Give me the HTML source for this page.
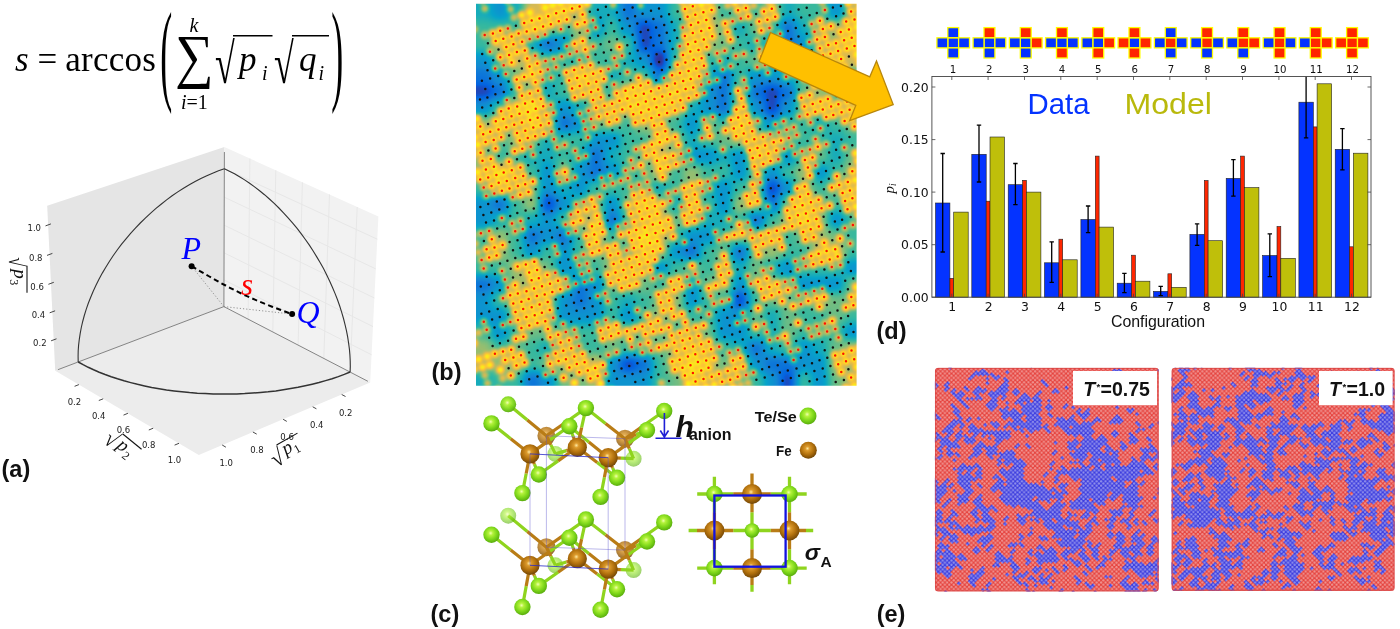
<!DOCTYPE html>
<html><head><meta charset="utf-8"><title>figure</title>
<style>html,body{margin:0;padding:0;background:#fff;overflow:hidden}svg{display:block}</style>
</head><body>
<svg width="1400" height="629" viewBox="0 0 1400 629">
<rect width="1400" height="629" fill="#fff"/>
<g font-family="'Liberation Serif',serif" fill="#000">
<text x="15" y="70.7" font-size="35" font-style="italic">s</text>
<text x="37.5" y="70.7" font-size="35">=</text>
<text x="65.3" y="70.7" font-size="35" textLength="90.5">arccos</text>
<text transform="translate(160.2,90) scale(0.36,1.12)" font-size="100">(</text>
<text transform="translate(331.2,90) scale(0.36,1.12)" font-size="100">)</text>
<text transform="translate(175.3,75.5) scale(0.9,1)" font-size="60">∑</text>
<text x="189.5" y="32" font-size="20" font-style="italic">k</text>
<text x="181" y="109" font-size="20"><tspan font-style="italic">i</tspan>=1</text>
<text transform="translate(215,83) scale(0.9,1.42)" font-size="40">√</text>
<text transform="translate(274,83) scale(0.9,1.42)" font-size="40">√</text>
<text x="239" y="70.7" font-size="35" font-style="italic">p</text>
<text x="262" y="80" font-size="20" font-style="italic">i</text>
<text x="299" y="70.7" font-size="35" font-style="italic">q</text>
<text x="318.5" y="80" font-size="20" font-style="italic">i</text>
</g>
<path d="M233 35.8H272.5M292 35.8H329" stroke="#000" stroke-width="1.6" fill="none"/>
<polygon points="223.9,306.6 55.2,370.7 198.8,454.9 370.2,382.5" fill="#ececec"/>
<polygon points="223.9,306.6 55.2,370.7 47.2,205.8 224.4,147" fill="#e5e5e5"/>
<polygon points="223.9,306.6 370.2,382.5 378.4,216.6 224.4,147" fill="#f2f2f2"/>
<path d="M248.1 319.1 L249.9 158.5M224 279.9 L371.6 354.8M272.8 332 L275.8 170.3M224.1 252.8 L373 326.6M298.1 345.1 L302.4 182.3M224.2 225.2 L374.4 298M323.8 358.4 L329.5 194.5M224.3 197.2 L375.8 268.9M350.1 372 L357.2 207M224.4 168.7 L377.3 239.2" stroke="#e7e7e7" stroke-width="1" fill="none"/>
<path d="M223.9 306.6 L57.9 369.7M223.9 306.6 L367.9 381.3M223.9 306.6 L224.4 152" stroke="#777" stroke-width="0.9" fill="none"/>
<path d="M78.2 362 L78.1 356.5 L78.2 350.8 L78.6 345.1 L79.3 339.3 L80.2 333.4 L81.3 327.5 L82.7 321.5 L84.3 315.5 L86.2 309.4 L88.3 303.3 L90.7 297.3 L93.2 291.2 L96.1 285.1 L99.1 279.1 L102.3 273.1 L105.8 267.2 L109.5 261.3 L113.3 255.5 L117.4 249.8 L121.6 244.2 L126 238.8 L130.6 233.4 L135.4 228.1 L140.3 223 L145.3 218.1 L150.4 213.3 L155.7 208.6 L161.1 204.2 L166.6 199.9 L172.1 195.8 L177.8 191.9 L183.5 188.3 L189.3 184.8 L195.1 181.6 L200.9 178.5 L206.8 175.7 L212.6 173.2 L218.5 170.8 L224.4 168.7M350.1 372 L350.3 366.5 L350.2 360.8 L349.9 355 L349.4 349.1 L348.6 343.1 L347.7 337.1 L346.5 330.9 L345.1 324.8 L343.5 318.5 L341.7 312.3 L339.7 306 L337.5 299.7 L335 293.4 L332.4 287.2 L329.6 281 L326.6 274.8 L323.5 268.6 L320.1 262.6 L316.6 256.6 L313 250.7 L309.2 244.9 L305.2 239.2 L301.1 233.6 L296.9 228.2 L292.5 222.9 L288.1 217.8 L283.5 212.8 L278.9 208 L274.2 203.4 L269.4 199 L264.5 194.7 L259.6 190.7 L254.6 186.9 L249.6 183.3 L244.6 179.9 L239.5 176.8 L234.5 173.8 L229.4 171.2 L224.4 168.7" stroke="#333" stroke-width="1.1" fill="none"/>
<path d="M78.2 362 L83.1 364.7 L88.2 367.3 L93.6 369.8 L99.2 372.2 L105.1 374.5 L111.2 376.7 L117.5 378.8 L124 380.8 L130.7 382.6 L137.5 384.3 L144.6 385.9 L151.7 387.4 L159.1 388.7 L166.5 389.9 L174.1 390.9 L181.8 391.8 L189.5 392.6 L197.3 393.2 L205.2 393.6 L213.1 393.9 L221 394.1 L228.9 394.1 L236.9 393.9 L244.7 393.6 L252.6 393.1 L260.4 392.5 L268.1 391.8 L275.8 390.9 L283.3 389.8 L290.7 388.6 L298 387.3 L305.2 385.8 L312.2 384.2 L319 382.5 L325.6 380.6 L332.1 378.7 L338.3 376.6 L344.3 374.4 L350.1 372" stroke="#333" stroke-width="1.5" fill="none"/>
<path d="M223.9 306.6 L191.6 266.2M223.9 306.6 L292.1 314.1" stroke="#888" stroke-width="0.9" stroke-dasharray="1.2 2" fill="none"/>
<path d="M191.6 266.2 L195.8 268.6 L200 271.1 L204.3 273.5 L208.5 276 L212.8 278.4 L217.1 280.8 L221.3 283.2 L225.6 285.5 L229.9 287.8 L234.2 290 L238.5 292.1 L242.8 294.2 L247 296.2 L251.3 298.1 L255.5 299.9 L259.7 301.7 L263.9 303.4 L268 305.1 L272.1 306.7 L276.2 308.2 L280.2 309.7 L284.2 311.2 L288.2 312.7 L292.1 314.1" stroke="#000" stroke-width="2" stroke-dasharray="5.2 3.4" fill="none"/>
<circle cx="191.6" cy="266.2" r="3"/><circle cx="292.1" cy="314.1" r="3"/>
<g font-family="'Liberation Serif',serif" font-style="italic"><text x="181.5" y="259" font-size="32" fill="#0000ff">P</text><text x="296.5" y="323" font-size="32" fill="#0000ff">Q</text><text x="241" y="294.8" font-size="31" fill="#ff0000">s</text></g>
<path d="M78.9 384.6 L74.6 386.3M341.7 394.5 L345.5 396.5M51.1 340.8 L56.5 338.8M103.2 398.8 L98.8 400.5M312.7 406.8 L316.4 408.8M49.7 312.8 L55.1 310.8M127.9 413.3 L123.5 415.1M283.1 419.3 L286.8 421.4M48.4 284.3 L53.8 282.3M153.2 428.2 L148.8 430M252.9 432 L256.7 434.1M47 255.4 L52.4 253.4M179 443.3 L174.6 445.1M222.2 445 L225.9 447.2M45.5 225.9 L50.9 223.9" stroke="#333" stroke-width="0.9" fill="none"/>
<g font-family="'DejaVu Sans',sans-serif" font-size="8.5" fill="#222"><text x="74.4" y="404.7" text-anchor="middle">0.2</text><text x="345.7" y="415.6" text-anchor="middle">0.2</text><text x="46.6" y="346.3" text-anchor="end">0.2</text><text x="98.7" y="418.9" text-anchor="middle">0.4</text><text x="316.7" y="427.9" text-anchor="middle">0.4</text><text x="45.2" y="318.3" text-anchor="end">0.4</text><text x="123.4" y="433.4" text-anchor="middle">0.6</text><text x="287.1" y="440.4" text-anchor="middle">0.6</text><text x="43.9" y="289.8" text-anchor="end">0.6</text><text x="148.7" y="448.3" text-anchor="middle">0.8</text><text x="256.9" y="453.1" text-anchor="middle">0.8</text><text x="42.5" y="260.9" text-anchor="end">0.8</text><text x="174.5" y="463.4" text-anchor="middle">1.0</text><text x="226.2" y="466.1" text-anchor="middle">1.0</text><text x="41" y="231.4" text-anchor="end">1.0</text></g>
<g transform="translate(122.9,434.1) rotate(39)" font-family="'Liberation Serif',serif" fill="#111"><text transform="translate(-10.9,19.0) scale(1.1,1.3)" font-size="18">√</text><path d="M-0.5 0H24" stroke="#111" stroke-width="1.1"/><text x="2.5" y="14.5" font-size="19" font-style="italic">p</text><text x="13" y="19" font-size="12">2</text></g>
<g transform="translate(277,444.8) rotate(-29.7)" font-family="'Liberation Serif',serif" fill="#111"><text transform="translate(-12.5,19.7) scale(1.25,1.35)" font-size="18">√</text><path d="M-0.5 0H23.6" stroke="#111" stroke-width="1.1"/><text x="2.5" y="13.5" font-size="19" font-style="italic">p</text><text x="12.5" y="17.5" font-size="12">1</text></g>
<g transform="translate(27,266.3) rotate(90)" font-family="'Liberation Serif',serif" fill="#111"><text transform="translate(-9,18.3) scale(0.95,1.25)" font-size="18">√</text><path d="M-0.5 0H26.5" stroke="#111" stroke-width="1.1"/><text x="3" y="13.5" font-size="19" font-style="italic">p</text><text x="13" y="17.5" font-size="12">3</text></g>
<defs>
<clipPath id="stmclip"><rect x="476.0" y="3.8" width="380.6" height="381.9"/></clipPath>
<filter id="stmblur" x="-5%" y="-5%" width="110%" height="110%" color-interpolation-filters="sRGB"><feGaussianBlur stdDeviation="4.5"/></filter>
<filter id="stmcm" x="0" y="0" width="100%" height="100%" color-interpolation-filters="sRGB">
<feGaussianBlur stdDeviation="0.8"/>
<feComponentTransfer><feFuncR type="table" tableValues="0.208 0.195 0.182 0.138 0.075 0.012 0.025 0.038 0.052 0.065 0.078 0.067 0.056 0.045 0.035 0.024 0.059 0.094 0.129 0.165 0.200 0.266 0.332 0.398 0.464 0.529 0.592 0.655 0.718 0.780 0.843 0.874 0.904 0.935 0.965 0.996 0.992 0.988 0.984 0.980 0.976"/><feFuncG type="table" tableValues="0.165 0.194 0.224 0.271 0.329 0.388 0.415 0.442 0.468 0.495 0.522 0.546 0.570 0.595 0.619 0.643 0.659 0.675 0.690 0.706 0.722 0.727 0.733 0.738 0.744 0.749 0.745 0.741 0.737 0.733 0.729 0.740 0.751 0.762 0.773 0.784 0.824 0.864 0.904 0.944 0.984"/><feFuncB type="table" tableValues="0.529 0.587 0.644 0.716 0.799 0.882 0.872 0.862 0.852 0.842 0.831 0.824 0.816 0.808 0.800 0.792 0.760 0.728 0.696 0.664 0.631 0.598 0.565 0.533 0.500 0.467 0.439 0.412 0.384 0.357 0.329 0.303 0.276 0.249 0.223 0.196 0.168 0.140 0.111 0.083 0.055"/></feComponentTransfer>
</filter>
<radialGradient id="bump"><stop offset="0" stop-color="#fff" stop-opacity="0.97"/><stop offset="0.3" stop-color="#fff" stop-opacity="0.88"/><stop offset="0.45" stop-color="#fff" stop-opacity="0.58"/><stop offset="0.58" stop-color="#fff" stop-opacity="0.3"/><stop offset="0.8" stop-color="#fff" stop-opacity="0.11"/><stop offset="1" stop-color="#fff" stop-opacity="0"/></radialGradient>
<radialGradient id="bump2"><stop offset="0" stop-color="#fff" stop-opacity="0.62"/><stop offset="0.3" stop-color="#fff" stop-opacity="0.5"/><stop offset="0.6" stop-color="#fff" stop-opacity="0.22"/><stop offset="1" stop-color="#fff" stop-opacity="0"/></radialGradient>
<radialGradient id="dip"><stop offset="0" stop-color="#000" stop-opacity="0.28"/><stop offset="1" stop-color="#000" stop-opacity="0"/></radialGradient>
</defs>
<g clip-path="url(#stmclip)">
<g filter="url(#stmcm)">
<rect x="456.0" y="-16.2" width="420.6" height="421.9" fill="#8e8e8e"/>
<g filter="url(#stmblur)">
<rect x="460" y="-12" width="16.5" height="16.5" fill="#6b6b6b"/><rect x="476" y="-12" width="16.5" height="16.5" fill="#6b6b6b"/><rect x="492" y="-12" width="16.5" height="16.5" fill="#4f4f4f"/><rect x="508" y="-12" width="16.5" height="16.5" fill="#6b6b6b"/><rect x="524" y="-12" width="16.5" height="16.5" fill="#bfbfbf"/><rect x="540" y="-12" width="16.5" height="16.5" fill="#bfbfbf"/><rect x="556" y="-12" width="16.5" height="16.5" fill="#bfbfbf"/><rect x="572" y="-12" width="16.5" height="16.5" fill="#a8a8a8"/><rect x="588" y="-12" width="16.5" height="16.5" fill="#6b6b6b"/><rect x="604" y="-12" width="16.5" height="16.5" fill="#6b6b6b"/><rect x="620" y="-12" width="16.5" height="16.5" fill="#303030"/><rect x="636" y="-12" width="16.5" height="16.5" fill="#4f4f4f"/><rect x="652" y="-12" width="16.5" height="16.5" fill="#4f4f4f"/><rect x="668" y="-12" width="16.5" height="16.5" fill="#828282"/><rect x="684" y="-12" width="16.5" height="16.5" fill="#a8a8a8"/><rect x="700" y="-12" width="16.5" height="16.5" fill="#bfbfbf"/><rect x="716" y="-12" width="16.5" height="16.5" fill="#828282"/><rect x="732" y="-12" width="16.5" height="16.5" fill="#969696"/><rect x="748" y="-12" width="16.5" height="16.5" fill="#828282"/><rect x="764" y="-12" width="16.5" height="16.5" fill="#a8a8a8"/><rect x="780" y="-12" width="16.5" height="16.5" fill="#6b6b6b"/><rect x="796" y="-12" width="16.5" height="16.5" fill="#828282"/><rect x="812" y="-12" width="16.5" height="16.5" fill="#828282"/><rect x="828" y="-12" width="16.5" height="16.5" fill="#4f4f4f"/><rect x="844" y="-12" width="16.5" height="16.5" fill="#969696"/><rect x="860" y="-12" width="16.5" height="16.5" fill="#969696"/><rect x="460" y="4" width="16.5" height="16.5" fill="#6b6b6b"/><rect x="476" y="4" width="16.5" height="16.5" fill="#6b6b6b"/><rect x="492" y="4" width="16.5" height="16.5" fill="#4f4f4f"/><rect x="508" y="4" width="16.5" height="16.5" fill="#6b6b6b"/><rect x="524" y="4" width="16.5" height="16.5" fill="#bfbfbf"/><rect x="540" y="4" width="16.5" height="16.5" fill="#bfbfbf"/><rect x="556" y="4" width="16.5" height="16.5" fill="#bfbfbf"/><rect x="572" y="4" width="16.5" height="16.5" fill="#a8a8a8"/><rect x="588" y="4" width="16.5" height="16.5" fill="#6b6b6b"/><rect x="604" y="4" width="16.5" height="16.5" fill="#6b6b6b"/><rect x="620" y="4" width="16.5" height="16.5" fill="#303030"/><rect x="636" y="4" width="16.5" height="16.5" fill="#4f4f4f"/><rect x="652" y="4" width="16.5" height="16.5" fill="#4f4f4f"/><rect x="668" y="4" width="16.5" height="16.5" fill="#828282"/><rect x="684" y="4" width="16.5" height="16.5" fill="#a8a8a8"/><rect x="700" y="4" width="16.5" height="16.5" fill="#bfbfbf"/><rect x="716" y="4" width="16.5" height="16.5" fill="#828282"/><rect x="732" y="4" width="16.5" height="16.5" fill="#969696"/><rect x="748" y="4" width="16.5" height="16.5" fill="#828282"/><rect x="764" y="4" width="16.5" height="16.5" fill="#a8a8a8"/><rect x="780" y="4" width="16.5" height="16.5" fill="#6b6b6b"/><rect x="796" y="4" width="16.5" height="16.5" fill="#828282"/><rect x="812" y="4" width="16.5" height="16.5" fill="#828282"/><rect x="828" y="4" width="16.5" height="16.5" fill="#4f4f4f"/><rect x="844" y="4" width="16.5" height="16.5" fill="#969696"/><rect x="860" y="4" width="16.5" height="16.5" fill="#969696"/><rect x="460" y="20" width="16.5" height="16.5" fill="#828282"/><rect x="476" y="20" width="16.5" height="16.5" fill="#828282"/><rect x="492" y="20" width="16.5" height="16.5" fill="#828282"/><rect x="508" y="20" width="16.5" height="16.5" fill="#828282"/><rect x="524" y="20" width="16.5" height="16.5" fill="#bfbfbf"/><rect x="540" y="20" width="16.5" height="16.5" fill="#a8a8a8"/><rect x="556" y="20" width="16.5" height="16.5" fill="#828282"/><rect x="572" y="20" width="16.5" height="16.5" fill="#a8a8a8"/><rect x="588" y="20" width="16.5" height="16.5" fill="#4f4f4f"/><rect x="604" y="20" width="16.5" height="16.5" fill="#828282"/><rect x="620" y="20" width="16.5" height="16.5" fill="#4f4f4f"/><rect x="636" y="20" width="16.5" height="16.5" fill="#121212"/><rect x="652" y="20" width="16.5" height="16.5" fill="#303030"/><rect x="668" y="20" width="16.5" height="16.5" fill="#6b6b6b"/><rect x="684" y="20" width="16.5" height="16.5" fill="#a8a8a8"/><rect x="700" y="20" width="16.5" height="16.5" fill="#bfbfbf"/><rect x="716" y="20" width="16.5" height="16.5" fill="#969696"/><rect x="732" y="20" width="16.5" height="16.5" fill="#6b6b6b"/><rect x="748" y="20" width="16.5" height="16.5" fill="#969696"/><rect x="764" y="20" width="16.5" height="16.5" fill="#828282"/><rect x="780" y="20" width="16.5" height="16.5" fill="#303030"/><rect x="796" y="20" width="16.5" height="16.5" fill="#6b6b6b"/><rect x="812" y="20" width="16.5" height="16.5" fill="#969696"/><rect x="828" y="20" width="16.5" height="16.5" fill="#a8a8a8"/><rect x="844" y="20" width="16.5" height="16.5" fill="#bfbfbf"/><rect x="860" y="20" width="16.5" height="16.5" fill="#bfbfbf"/><rect x="460" y="36" width="16.5" height="16.5" fill="#828282"/><rect x="476" y="36" width="16.5" height="16.5" fill="#828282"/><rect x="492" y="36" width="16.5" height="16.5" fill="#bfbfbf"/><rect x="508" y="36" width="16.5" height="16.5" fill="#969696"/><rect x="524" y="36" width="16.5" height="16.5" fill="#6b6b6b"/><rect x="540" y="36" width="16.5" height="16.5" fill="#303030"/><rect x="556" y="36" width="16.5" height="16.5" fill="#4f4f4f"/><rect x="572" y="36" width="16.5" height="16.5" fill="#a8a8a8"/><rect x="588" y="36" width="16.5" height="16.5" fill="#828282"/><rect x="604" y="36" width="16.5" height="16.5" fill="#969696"/><rect x="620" y="36" width="16.5" height="16.5" fill="#828282"/><rect x="636" y="36" width="16.5" height="16.5" fill="#121212"/><rect x="652" y="36" width="16.5" height="16.5" fill="#303030"/><rect x="668" y="36" width="16.5" height="16.5" fill="#6b6b6b"/><rect x="684" y="36" width="16.5" height="16.5" fill="#bfbfbf"/><rect x="700" y="36" width="16.5" height="16.5" fill="#a8a8a8"/><rect x="716" y="36" width="16.5" height="16.5" fill="#969696"/><rect x="732" y="36" width="16.5" height="16.5" fill="#828282"/><rect x="748" y="36" width="16.5" height="16.5" fill="#6b6b6b"/><rect x="764" y="36" width="16.5" height="16.5" fill="#828282"/><rect x="780" y="36" width="16.5" height="16.5" fill="#303030"/><rect x="796" y="36" width="16.5" height="16.5" fill="#4f4f4f"/><rect x="812" y="36" width="16.5" height="16.5" fill="#969696"/><rect x="828" y="36" width="16.5" height="16.5" fill="#a8a8a8"/><rect x="844" y="36" width="16.5" height="16.5" fill="#bfbfbf"/><rect x="860" y="36" width="16.5" height="16.5" fill="#bfbfbf"/><rect x="460" y="52" width="16.5" height="16.5" fill="#4f4f4f"/><rect x="476" y="52" width="16.5" height="16.5" fill="#4f4f4f"/><rect x="492" y="52" width="16.5" height="16.5" fill="#828282"/><rect x="508" y="52" width="16.5" height="16.5" fill="#bfbfbf"/><rect x="524" y="52" width="16.5" height="16.5" fill="#969696"/><rect x="540" y="52" width="16.5" height="16.5" fill="#828282"/><rect x="556" y="52" width="16.5" height="16.5" fill="#828282"/><rect x="572" y="52" width="16.5" height="16.5" fill="#6b6b6b"/><rect x="588" y="52" width="16.5" height="16.5" fill="#828282"/><rect x="604" y="52" width="16.5" height="16.5" fill="#828282"/><rect x="620" y="52" width="16.5" height="16.5" fill="#6b6b6b"/><rect x="636" y="52" width="16.5" height="16.5" fill="#4f4f4f"/><rect x="652" y="52" width="16.5" height="16.5" fill="#000000"/><rect x="668" y="52" width="16.5" height="16.5" fill="#828282"/><rect x="684" y="52" width="16.5" height="16.5" fill="#bfbfbf"/><rect x="700" y="52" width="16.5" height="16.5" fill="#828282"/><rect x="716" y="52" width="16.5" height="16.5" fill="#6b6b6b"/><rect x="732" y="52" width="16.5" height="16.5" fill="#828282"/><rect x="748" y="52" width="16.5" height="16.5" fill="#969696"/><rect x="764" y="52" width="16.5" height="16.5" fill="#828282"/><rect x="780" y="52" width="16.5" height="16.5" fill="#828282"/><rect x="796" y="52" width="16.5" height="16.5" fill="#828282"/><rect x="812" y="52" width="16.5" height="16.5" fill="#828282"/><rect x="828" y="52" width="16.5" height="16.5" fill="#a8a8a8"/><rect x="844" y="52" width="16.5" height="16.5" fill="#bfbfbf"/><rect x="860" y="52" width="16.5" height="16.5" fill="#bfbfbf"/><rect x="460" y="68" width="16.5" height="16.5" fill="#303030"/><rect x="476" y="68" width="16.5" height="16.5" fill="#303030"/><rect x="492" y="68" width="16.5" height="16.5" fill="#4f4f4f"/><rect x="508" y="68" width="16.5" height="16.5" fill="#969696"/><rect x="524" y="68" width="16.5" height="16.5" fill="#bfbfbf"/><rect x="540" y="68" width="16.5" height="16.5" fill="#6b6b6b"/><rect x="556" y="68" width="16.5" height="16.5" fill="#828282"/><rect x="572" y="68" width="16.5" height="16.5" fill="#bfbfbf"/><rect x="588" y="68" width="16.5" height="16.5" fill="#a8a8a8"/><rect x="604" y="68" width="16.5" height="16.5" fill="#6b6b6b"/><rect x="620" y="68" width="16.5" height="16.5" fill="#828282"/><rect x="636" y="68" width="16.5" height="16.5" fill="#828282"/><rect x="652" y="68" width="16.5" height="16.5" fill="#303030"/><rect x="668" y="68" width="16.5" height="16.5" fill="#a8a8a8"/><rect x="684" y="68" width="16.5" height="16.5" fill="#bfbfbf"/><rect x="700" y="68" width="16.5" height="16.5" fill="#6b6b6b"/><rect x="716" y="68" width="16.5" height="16.5" fill="#303030"/><rect x="732" y="68" width="16.5" height="16.5" fill="#828282"/><rect x="748" y="68" width="16.5" height="16.5" fill="#4f4f4f"/><rect x="764" y="68" width="16.5" height="16.5" fill="#4f4f4f"/><rect x="780" y="68" width="16.5" height="16.5" fill="#6b6b6b"/><rect x="796" y="68" width="16.5" height="16.5" fill="#828282"/><rect x="812" y="68" width="16.5" height="16.5" fill="#828282"/><rect x="828" y="68" width="16.5" height="16.5" fill="#828282"/><rect x="844" y="68" width="16.5" height="16.5" fill="#828282"/><rect x="860" y="68" width="16.5" height="16.5" fill="#828282"/><rect x="460" y="84" width="16.5" height="16.5" fill="#121212"/><rect x="476" y="84" width="16.5" height="16.5" fill="#121212"/><rect x="492" y="84" width="16.5" height="16.5" fill="#303030"/><rect x="508" y="84" width="16.5" height="16.5" fill="#828282"/><rect x="524" y="84" width="16.5" height="16.5" fill="#969696"/><rect x="540" y="84" width="16.5" height="16.5" fill="#6b6b6b"/><rect x="556" y="84" width="16.5" height="16.5" fill="#828282"/><rect x="572" y="84" width="16.5" height="16.5" fill="#a8a8a8"/><rect x="588" y="84" width="16.5" height="16.5" fill="#969696"/><rect x="604" y="84" width="16.5" height="16.5" fill="#828282"/><rect x="620" y="84" width="16.5" height="16.5" fill="#bfbfbf"/><rect x="636" y="84" width="16.5" height="16.5" fill="#bfbfbf"/><rect x="652" y="84" width="16.5" height="16.5" fill="#a8a8a8"/><rect x="668" y="84" width="16.5" height="16.5" fill="#bfbfbf"/><rect x="684" y="84" width="16.5" height="16.5" fill="#a8a8a8"/><rect x="700" y="84" width="16.5" height="16.5" fill="#4f4f4f"/><rect x="716" y="84" width="16.5" height="16.5" fill="#303030"/><rect x="732" y="84" width="16.5" height="16.5" fill="#969696"/><rect x="748" y="84" width="16.5" height="16.5" fill="#303030"/><rect x="764" y="84" width="16.5" height="16.5" fill="#121212"/><rect x="780" y="84" width="16.5" height="16.5" fill="#303030"/><rect x="796" y="84" width="16.5" height="16.5" fill="#969696"/><rect x="812" y="84" width="16.5" height="16.5" fill="#a8a8a8"/><rect x="828" y="84" width="16.5" height="16.5" fill="#828282"/><rect x="844" y="84" width="16.5" height="16.5" fill="#828282"/><rect x="860" y="84" width="16.5" height="16.5" fill="#828282"/><rect x="460" y="100" width="16.5" height="16.5" fill="#4f4f4f"/><rect x="476" y="100" width="16.5" height="16.5" fill="#4f4f4f"/><rect x="492" y="100" width="16.5" height="16.5" fill="#828282"/><rect x="508" y="100" width="16.5" height="16.5" fill="#bfbfbf"/><rect x="524" y="100" width="16.5" height="16.5" fill="#d9d9d9"/><rect x="540" y="100" width="16.5" height="16.5" fill="#828282"/><rect x="556" y="100" width="16.5" height="16.5" fill="#4f4f4f"/><rect x="572" y="100" width="16.5" height="16.5" fill="#6b6b6b"/><rect x="588" y="100" width="16.5" height="16.5" fill="#969696"/><rect x="604" y="100" width="16.5" height="16.5" fill="#969696"/><rect x="620" y="100" width="16.5" height="16.5" fill="#bfbfbf"/><rect x="636" y="100" width="16.5" height="16.5" fill="#bfbfbf"/><rect x="652" y="100" width="16.5" height="16.5" fill="#bfbfbf"/><rect x="668" y="100" width="16.5" height="16.5" fill="#a8a8a8"/><rect x="684" y="100" width="16.5" height="16.5" fill="#6b6b6b"/><rect x="700" y="100" width="16.5" height="16.5" fill="#4f4f4f"/><rect x="716" y="100" width="16.5" height="16.5" fill="#303030"/><rect x="732" y="100" width="16.5" height="16.5" fill="#a8a8a8"/><rect x="748" y="100" width="16.5" height="16.5" fill="#4f4f4f"/><rect x="764" y="100" width="16.5" height="16.5" fill="#121212"/><rect x="780" y="100" width="16.5" height="16.5" fill="#4f4f4f"/><rect x="796" y="100" width="16.5" height="16.5" fill="#969696"/><rect x="812" y="100" width="16.5" height="16.5" fill="#a8a8a8"/><rect x="828" y="100" width="16.5" height="16.5" fill="#a8a8a8"/><rect x="844" y="100" width="16.5" height="16.5" fill="#a8a8a8"/><rect x="860" y="100" width="16.5" height="16.5" fill="#a8a8a8"/><rect x="460" y="116" width="16.5" height="16.5" fill="#a8a8a8"/><rect x="476" y="116" width="16.5" height="16.5" fill="#a8a8a8"/><rect x="492" y="116" width="16.5" height="16.5" fill="#bfbfbf"/><rect x="508" y="116" width="16.5" height="16.5" fill="#969696"/><rect x="524" y="116" width="16.5" height="16.5" fill="#bfbfbf"/><rect x="540" y="116" width="16.5" height="16.5" fill="#969696"/><rect x="556" y="116" width="16.5" height="16.5" fill="#303030"/><rect x="572" y="116" width="16.5" height="16.5" fill="#4f4f4f"/><rect x="588" y="116" width="16.5" height="16.5" fill="#969696"/><rect x="604" y="116" width="16.5" height="16.5" fill="#969696"/><rect x="620" y="116" width="16.5" height="16.5" fill="#828282"/><rect x="636" y="116" width="16.5" height="16.5" fill="#a8a8a8"/><rect x="652" y="116" width="16.5" height="16.5" fill="#969696"/><rect x="668" y="116" width="16.5" height="16.5" fill="#828282"/><rect x="684" y="116" width="16.5" height="16.5" fill="#4f4f4f"/><rect x="700" y="116" width="16.5" height="16.5" fill="#969696"/><rect x="716" y="116" width="16.5" height="16.5" fill="#828282"/><rect x="732" y="116" width="16.5" height="16.5" fill="#bfbfbf"/><rect x="748" y="116" width="16.5" height="16.5" fill="#828282"/><rect x="764" y="116" width="16.5" height="16.5" fill="#4f4f4f"/><rect x="780" y="116" width="16.5" height="16.5" fill="#828282"/><rect x="796" y="116" width="16.5" height="16.5" fill="#828282"/><rect x="812" y="116" width="16.5" height="16.5" fill="#6b6b6b"/><rect x="828" y="116" width="16.5" height="16.5" fill="#828282"/><rect x="844" y="116" width="16.5" height="16.5" fill="#969696"/><rect x="860" y="116" width="16.5" height="16.5" fill="#969696"/><rect x="460" y="132" width="16.5" height="16.5" fill="#a8a8a8"/><rect x="476" y="132" width="16.5" height="16.5" fill="#a8a8a8"/><rect x="492" y="132" width="16.5" height="16.5" fill="#828282"/><rect x="508" y="132" width="16.5" height="16.5" fill="#a8a8a8"/><rect x="524" y="132" width="16.5" height="16.5" fill="#969696"/><rect x="540" y="132" width="16.5" height="16.5" fill="#6b6b6b"/><rect x="556" y="132" width="16.5" height="16.5" fill="#828282"/><rect x="572" y="132" width="16.5" height="16.5" fill="#828282"/><rect x="588" y="132" width="16.5" height="16.5" fill="#4f4f4f"/><rect x="604" y="132" width="16.5" height="16.5" fill="#4f4f4f"/><rect x="620" y="132" width="16.5" height="16.5" fill="#828282"/><rect x="636" y="132" width="16.5" height="16.5" fill="#828282"/><rect x="652" y="132" width="16.5" height="16.5" fill="#bfbfbf"/><rect x="668" y="132" width="16.5" height="16.5" fill="#969696"/><rect x="684" y="132" width="16.5" height="16.5" fill="#6b6b6b"/><rect x="700" y="132" width="16.5" height="16.5" fill="#828282"/><rect x="716" y="132" width="16.5" height="16.5" fill="#969696"/><rect x="732" y="132" width="16.5" height="16.5" fill="#a8a8a8"/><rect x="748" y="132" width="16.5" height="16.5" fill="#a8a8a8"/><rect x="764" y="132" width="16.5" height="16.5" fill="#969696"/><rect x="780" y="132" width="16.5" height="16.5" fill="#828282"/><rect x="796" y="132" width="16.5" height="16.5" fill="#828282"/><rect x="812" y="132" width="16.5" height="16.5" fill="#828282"/><rect x="828" y="132" width="16.5" height="16.5" fill="#6b6b6b"/><rect x="844" y="132" width="16.5" height="16.5" fill="#828282"/><rect x="860" y="132" width="16.5" height="16.5" fill="#828282"/><rect x="460" y="148" width="16.5" height="16.5" fill="#969696"/><rect x="476" y="148" width="16.5" height="16.5" fill="#969696"/><rect x="492" y="148" width="16.5" height="16.5" fill="#828282"/><rect x="508" y="148" width="16.5" height="16.5" fill="#828282"/><rect x="524" y="148" width="16.5" height="16.5" fill="#6b6b6b"/><rect x="540" y="148" width="16.5" height="16.5" fill="#6b6b6b"/><rect x="556" y="148" width="16.5" height="16.5" fill="#828282"/><rect x="572" y="148" width="16.5" height="16.5" fill="#6b6b6b"/><rect x="588" y="148" width="16.5" height="16.5" fill="#303030"/><rect x="604" y="148" width="16.5" height="16.5" fill="#6b6b6b"/><rect x="620" y="148" width="16.5" height="16.5" fill="#828282"/><rect x="636" y="148" width="16.5" height="16.5" fill="#969696"/><rect x="652" y="148" width="16.5" height="16.5" fill="#bfbfbf"/><rect x="668" y="148" width="16.5" height="16.5" fill="#969696"/><rect x="684" y="148" width="16.5" height="16.5" fill="#4f4f4f"/><rect x="700" y="148" width="16.5" height="16.5" fill="#4f4f4f"/><rect x="716" y="148" width="16.5" height="16.5" fill="#6b6b6b"/><rect x="732" y="148" width="16.5" height="16.5" fill="#4f4f4f"/><rect x="748" y="148" width="16.5" height="16.5" fill="#a8a8a8"/><rect x="764" y="148" width="16.5" height="16.5" fill="#a8a8a8"/><rect x="780" y="148" width="16.5" height="16.5" fill="#4f4f4f"/><rect x="796" y="148" width="16.5" height="16.5" fill="#828282"/><rect x="812" y="148" width="16.5" height="16.5" fill="#969696"/><rect x="828" y="148" width="16.5" height="16.5" fill="#6b6b6b"/><rect x="844" y="148" width="16.5" height="16.5" fill="#969696"/><rect x="860" y="148" width="16.5" height="16.5" fill="#969696"/><rect x="460" y="164" width="16.5" height="16.5" fill="#a8a8a8"/><rect x="476" y="164" width="16.5" height="16.5" fill="#a8a8a8"/><rect x="492" y="164" width="16.5" height="16.5" fill="#d9d9d9"/><rect x="508" y="164" width="16.5" height="16.5" fill="#a8a8a8"/><rect x="524" y="164" width="16.5" height="16.5" fill="#828282"/><rect x="540" y="164" width="16.5" height="16.5" fill="#4f4f4f"/><rect x="556" y="164" width="16.5" height="16.5" fill="#a8a8a8"/><rect x="572" y="164" width="16.5" height="16.5" fill="#4f4f4f"/><rect x="588" y="164" width="16.5" height="16.5" fill="#303030"/><rect x="604" y="164" width="16.5" height="16.5" fill="#4f4f4f"/><rect x="620" y="164" width="16.5" height="16.5" fill="#828282"/><rect x="636" y="164" width="16.5" height="16.5" fill="#828282"/><rect x="652" y="164" width="16.5" height="16.5" fill="#bfbfbf"/><rect x="668" y="164" width="16.5" height="16.5" fill="#828282"/><rect x="684" y="164" width="16.5" height="16.5" fill="#a8a8a8"/><rect x="700" y="164" width="16.5" height="16.5" fill="#828282"/><rect x="716" y="164" width="16.5" height="16.5" fill="#828282"/><rect x="732" y="164" width="16.5" height="16.5" fill="#4f4f4f"/><rect x="748" y="164" width="16.5" height="16.5" fill="#969696"/><rect x="764" y="164" width="16.5" height="16.5" fill="#4f4f4f"/><rect x="780" y="164" width="16.5" height="16.5" fill="#828282"/><rect x="796" y="164" width="16.5" height="16.5" fill="#a8a8a8"/><rect x="812" y="164" width="16.5" height="16.5" fill="#4f4f4f"/><rect x="828" y="164" width="16.5" height="16.5" fill="#828282"/><rect x="844" y="164" width="16.5" height="16.5" fill="#a8a8a8"/><rect x="860" y="164" width="16.5" height="16.5" fill="#a8a8a8"/><rect x="460" y="180" width="16.5" height="16.5" fill="#828282"/><rect x="476" y="180" width="16.5" height="16.5" fill="#828282"/><rect x="492" y="180" width="16.5" height="16.5" fill="#a8a8a8"/><rect x="508" y="180" width="16.5" height="16.5" fill="#969696"/><rect x="524" y="180" width="16.5" height="16.5" fill="#969696"/><rect x="540" y="180" width="16.5" height="16.5" fill="#4f4f4f"/><rect x="556" y="180" width="16.5" height="16.5" fill="#6b6b6b"/><rect x="572" y="180" width="16.5" height="16.5" fill="#4f4f4f"/><rect x="588" y="180" width="16.5" height="16.5" fill="#828282"/><rect x="604" y="180" width="16.5" height="16.5" fill="#828282"/><rect x="620" y="180" width="16.5" height="16.5" fill="#828282"/><rect x="636" y="180" width="16.5" height="16.5" fill="#828282"/><rect x="652" y="180" width="16.5" height="16.5" fill="#6b6b6b"/><rect x="668" y="180" width="16.5" height="16.5" fill="#828282"/><rect x="684" y="180" width="16.5" height="16.5" fill="#a8a8a8"/><rect x="700" y="180" width="16.5" height="16.5" fill="#6b6b6b"/><rect x="716" y="180" width="16.5" height="16.5" fill="#4f4f4f"/><rect x="732" y="180" width="16.5" height="16.5" fill="#828282"/><rect x="748" y="180" width="16.5" height="16.5" fill="#969696"/><rect x="764" y="180" width="16.5" height="16.5" fill="#121212"/><rect x="780" y="180" width="16.5" height="16.5" fill="#4f4f4f"/><rect x="796" y="180" width="16.5" height="16.5" fill="#a8a8a8"/><rect x="812" y="180" width="16.5" height="16.5" fill="#828282"/><rect x="828" y="180" width="16.5" height="16.5" fill="#969696"/><rect x="844" y="180" width="16.5" height="16.5" fill="#a8a8a8"/><rect x="860" y="180" width="16.5" height="16.5" fill="#a8a8a8"/><rect x="460" y="196" width="16.5" height="16.5" fill="#4f4f4f"/><rect x="476" y="196" width="16.5" height="16.5" fill="#4f4f4f"/><rect x="492" y="196" width="16.5" height="16.5" fill="#303030"/><rect x="508" y="196" width="16.5" height="16.5" fill="#828282"/><rect x="524" y="196" width="16.5" height="16.5" fill="#a8a8a8"/><rect x="540" y="196" width="16.5" height="16.5" fill="#121212"/><rect x="556" y="196" width="16.5" height="16.5" fill="#4f4f4f"/><rect x="572" y="196" width="16.5" height="16.5" fill="#828282"/><rect x="588" y="196" width="16.5" height="16.5" fill="#969696"/><rect x="604" y="196" width="16.5" height="16.5" fill="#4f4f4f"/><rect x="620" y="196" width="16.5" height="16.5" fill="#969696"/><rect x="636" y="196" width="16.5" height="16.5" fill="#bfbfbf"/><rect x="652" y="196" width="16.5" height="16.5" fill="#a8a8a8"/><rect x="668" y="196" width="16.5" height="16.5" fill="#6b6b6b"/><rect x="684" y="196" width="16.5" height="16.5" fill="#a8a8a8"/><rect x="700" y="196" width="16.5" height="16.5" fill="#828282"/><rect x="716" y="196" width="16.5" height="16.5" fill="#4f4f4f"/><rect x="732" y="196" width="16.5" height="16.5" fill="#a8a8a8"/><rect x="748" y="196" width="16.5" height="16.5" fill="#a8a8a8"/><rect x="764" y="196" width="16.5" height="16.5" fill="#303030"/><rect x="780" y="196" width="16.5" height="16.5" fill="#969696"/><rect x="796" y="196" width="16.5" height="16.5" fill="#bfbfbf"/><rect x="812" y="196" width="16.5" height="16.5" fill="#969696"/><rect x="828" y="196" width="16.5" height="16.5" fill="#828282"/><rect x="844" y="196" width="16.5" height="16.5" fill="#a8a8a8"/><rect x="860" y="196" width="16.5" height="16.5" fill="#a8a8a8"/><rect x="460" y="212" width="16.5" height="16.5" fill="#4f4f4f"/><rect x="476" y="212" width="16.5" height="16.5" fill="#4f4f4f"/><rect x="492" y="212" width="16.5" height="16.5" fill="#6b6b6b"/><rect x="508" y="212" width="16.5" height="16.5" fill="#828282"/><rect x="524" y="212" width="16.5" height="16.5" fill="#6b6b6b"/><rect x="540" y="212" width="16.5" height="16.5" fill="#4f4f4f"/><rect x="556" y="212" width="16.5" height="16.5" fill="#828282"/><rect x="572" y="212" width="16.5" height="16.5" fill="#a8a8a8"/><rect x="588" y="212" width="16.5" height="16.5" fill="#bfbfbf"/><rect x="604" y="212" width="16.5" height="16.5" fill="#303030"/><rect x="620" y="212" width="16.5" height="16.5" fill="#828282"/><rect x="636" y="212" width="16.5" height="16.5" fill="#a8a8a8"/><rect x="652" y="212" width="16.5" height="16.5" fill="#bfbfbf"/><rect x="668" y="212" width="16.5" height="16.5" fill="#969696"/><rect x="684" y="212" width="16.5" height="16.5" fill="#969696"/><rect x="700" y="212" width="16.5" height="16.5" fill="#6b6b6b"/><rect x="716" y="212" width="16.5" height="16.5" fill="#6b6b6b"/><rect x="732" y="212" width="16.5" height="16.5" fill="#828282"/><rect x="748" y="212" width="16.5" height="16.5" fill="#303030"/><rect x="764" y="212" width="16.5" height="16.5" fill="#828282"/><rect x="780" y="212" width="16.5" height="16.5" fill="#a8a8a8"/><rect x="796" y="212" width="16.5" height="16.5" fill="#bfbfbf"/><rect x="812" y="212" width="16.5" height="16.5" fill="#a8a8a8"/><rect x="828" y="212" width="16.5" height="16.5" fill="#4f4f4f"/><rect x="844" y="212" width="16.5" height="16.5" fill="#828282"/><rect x="860" y="212" width="16.5" height="16.5" fill="#828282"/><rect x="460" y="228" width="16.5" height="16.5" fill="#828282"/><rect x="476" y="228" width="16.5" height="16.5" fill="#828282"/><rect x="492" y="228" width="16.5" height="16.5" fill="#a8a8a8"/><rect x="508" y="228" width="16.5" height="16.5" fill="#828282"/><rect x="524" y="228" width="16.5" height="16.5" fill="#303030"/><rect x="540" y="228" width="16.5" height="16.5" fill="#4f4f4f"/><rect x="556" y="228" width="16.5" height="16.5" fill="#303030"/><rect x="572" y="228" width="16.5" height="16.5" fill="#828282"/><rect x="588" y="228" width="16.5" height="16.5" fill="#bfbfbf"/><rect x="604" y="228" width="16.5" height="16.5" fill="#828282"/><rect x="620" y="228" width="16.5" height="16.5" fill="#969696"/><rect x="636" y="228" width="16.5" height="16.5" fill="#d9d9d9"/><rect x="652" y="228" width="16.5" height="16.5" fill="#bfbfbf"/><rect x="668" y="228" width="16.5" height="16.5" fill="#828282"/><rect x="684" y="228" width="16.5" height="16.5" fill="#4f4f4f"/><rect x="700" y="228" width="16.5" height="16.5" fill="#4f4f4f"/><rect x="716" y="228" width="16.5" height="16.5" fill="#828282"/><rect x="732" y="228" width="16.5" height="16.5" fill="#a8a8a8"/><rect x="748" y="228" width="16.5" height="16.5" fill="#969696"/><rect x="764" y="228" width="16.5" height="16.5" fill="#a8a8a8"/><rect x="780" y="228" width="16.5" height="16.5" fill="#828282"/><rect x="796" y="228" width="16.5" height="16.5" fill="#969696"/><rect x="812" y="228" width="16.5" height="16.5" fill="#a8a8a8"/><rect x="828" y="228" width="16.5" height="16.5" fill="#969696"/><rect x="844" y="228" width="16.5" height="16.5" fill="#828282"/><rect x="860" y="228" width="16.5" height="16.5" fill="#828282"/><rect x="460" y="244" width="16.5" height="16.5" fill="#828282"/><rect x="476" y="244" width="16.5" height="16.5" fill="#828282"/><rect x="492" y="244" width="16.5" height="16.5" fill="#a8a8a8"/><rect x="508" y="244" width="16.5" height="16.5" fill="#828282"/><rect x="524" y="244" width="16.5" height="16.5" fill="#4f4f4f"/><rect x="540" y="244" width="16.5" height="16.5" fill="#828282"/><rect x="556" y="244" width="16.5" height="16.5" fill="#4f4f4f"/><rect x="572" y="244" width="16.5" height="16.5" fill="#828282"/><rect x="588" y="244" width="16.5" height="16.5" fill="#969696"/><rect x="604" y="244" width="16.5" height="16.5" fill="#969696"/><rect x="620" y="244" width="16.5" height="16.5" fill="#828282"/><rect x="636" y="244" width="16.5" height="16.5" fill="#bfbfbf"/><rect x="652" y="244" width="16.5" height="16.5" fill="#a8a8a8"/><rect x="668" y="244" width="16.5" height="16.5" fill="#4f4f4f"/><rect x="684" y="244" width="16.5" height="16.5" fill="#303030"/><rect x="700" y="244" width="16.5" height="16.5" fill="#828282"/><rect x="716" y="244" width="16.5" height="16.5" fill="#969696"/><rect x="732" y="244" width="16.5" height="16.5" fill="#303030"/><rect x="748" y="244" width="16.5" height="16.5" fill="#969696"/><rect x="764" y="244" width="16.5" height="16.5" fill="#a8a8a8"/><rect x="780" y="244" width="16.5" height="16.5" fill="#828282"/><rect x="796" y="244" width="16.5" height="16.5" fill="#828282"/><rect x="812" y="244" width="16.5" height="16.5" fill="#bfbfbf"/><rect x="828" y="244" width="16.5" height="16.5" fill="#bfbfbf"/><rect x="844" y="244" width="16.5" height="16.5" fill="#828282"/><rect x="860" y="244" width="16.5" height="16.5" fill="#828282"/><rect x="460" y="260" width="16.5" height="16.5" fill="#828282"/><rect x="476" y="260" width="16.5" height="16.5" fill="#828282"/><rect x="492" y="260" width="16.5" height="16.5" fill="#828282"/><rect x="508" y="260" width="16.5" height="16.5" fill="#a8a8a8"/><rect x="524" y="260" width="16.5" height="16.5" fill="#bfbfbf"/><rect x="540" y="260" width="16.5" height="16.5" fill="#969696"/><rect x="556" y="260" width="16.5" height="16.5" fill="#4f4f4f"/><rect x="572" y="260" width="16.5" height="16.5" fill="#6b6b6b"/><rect x="588" y="260" width="16.5" height="16.5" fill="#828282"/><rect x="604" y="260" width="16.5" height="16.5" fill="#a8a8a8"/><rect x="620" y="260" width="16.5" height="16.5" fill="#a8a8a8"/><rect x="636" y="260" width="16.5" height="16.5" fill="#a8a8a8"/><rect x="652" y="260" width="16.5" height="16.5" fill="#4f4f4f"/><rect x="668" y="260" width="16.5" height="16.5" fill="#828282"/><rect x="684" y="260" width="16.5" height="16.5" fill="#969696"/><rect x="700" y="260" width="16.5" height="16.5" fill="#828282"/><rect x="716" y="260" width="16.5" height="16.5" fill="#969696"/><rect x="732" y="260" width="16.5" height="16.5" fill="#6b6b6b"/><rect x="748" y="260" width="16.5" height="16.5" fill="#969696"/><rect x="764" y="260" width="16.5" height="16.5" fill="#6b6b6b"/><rect x="780" y="260" width="16.5" height="16.5" fill="#4f4f4f"/><rect x="796" y="260" width="16.5" height="16.5" fill="#828282"/><rect x="812" y="260" width="16.5" height="16.5" fill="#828282"/><rect x="828" y="260" width="16.5" height="16.5" fill="#828282"/><rect x="844" y="260" width="16.5" height="16.5" fill="#4f4f4f"/><rect x="860" y="260" width="16.5" height="16.5" fill="#4f4f4f"/><rect x="460" y="276" width="16.5" height="16.5" fill="#303030"/><rect x="476" y="276" width="16.5" height="16.5" fill="#303030"/><rect x="492" y="276" width="16.5" height="16.5" fill="#4f4f4f"/><rect x="508" y="276" width="16.5" height="16.5" fill="#a8a8a8"/><rect x="524" y="276" width="16.5" height="16.5" fill="#a8a8a8"/><rect x="540" y="276" width="16.5" height="16.5" fill="#a8a8a8"/><rect x="556" y="276" width="16.5" height="16.5" fill="#969696"/><rect x="572" y="276" width="16.5" height="16.5" fill="#303030"/><rect x="588" y="276" width="16.5" height="16.5" fill="#4f4f4f"/><rect x="604" y="276" width="16.5" height="16.5" fill="#969696"/><rect x="620" y="276" width="16.5" height="16.5" fill="#a8a8a8"/><rect x="636" y="276" width="16.5" height="16.5" fill="#969696"/><rect x="652" y="276" width="16.5" height="16.5" fill="#828282"/><rect x="668" y="276" width="16.5" height="16.5" fill="#a8a8a8"/><rect x="684" y="276" width="16.5" height="16.5" fill="#4f4f4f"/><rect x="700" y="276" width="16.5" height="16.5" fill="#969696"/><rect x="716" y="276" width="16.5" height="16.5" fill="#a8a8a8"/><rect x="732" y="276" width="16.5" height="16.5" fill="#4f4f4f"/><rect x="748" y="276" width="16.5" height="16.5" fill="#969696"/><rect x="764" y="276" width="16.5" height="16.5" fill="#a8a8a8"/><rect x="780" y="276" width="16.5" height="16.5" fill="#828282"/><rect x="796" y="276" width="16.5" height="16.5" fill="#4f4f4f"/><rect x="812" y="276" width="16.5" height="16.5" fill="#4f4f4f"/><rect x="828" y="276" width="16.5" height="16.5" fill="#4f4f4f"/><rect x="844" y="276" width="16.5" height="16.5" fill="#969696"/><rect x="860" y="276" width="16.5" height="16.5" fill="#969696"/><rect x="460" y="292" width="16.5" height="16.5" fill="#4f4f4f"/><rect x="476" y="292" width="16.5" height="16.5" fill="#4f4f4f"/><rect x="492" y="292" width="16.5" height="16.5" fill="#828282"/><rect x="508" y="292" width="16.5" height="16.5" fill="#a8a8a8"/><rect x="524" y="292" width="16.5" height="16.5" fill="#969696"/><rect x="540" y="292" width="16.5" height="16.5" fill="#a8a8a8"/><rect x="556" y="292" width="16.5" height="16.5" fill="#4f4f4f"/><rect x="572" y="292" width="16.5" height="16.5" fill="#303030"/><rect x="588" y="292" width="16.5" height="16.5" fill="#4f4f4f"/><rect x="604" y="292" width="16.5" height="16.5" fill="#828282"/><rect x="620" y="292" width="16.5" height="16.5" fill="#6b6b6b"/><rect x="636" y="292" width="16.5" height="16.5" fill="#828282"/><rect x="652" y="292" width="16.5" height="16.5" fill="#969696"/><rect x="668" y="292" width="16.5" height="16.5" fill="#a8a8a8"/><rect x="684" y="292" width="16.5" height="16.5" fill="#4f4f4f"/><rect x="700" y="292" width="16.5" height="16.5" fill="#828282"/><rect x="716" y="292" width="16.5" height="16.5" fill="#828282"/><rect x="732" y="292" width="16.5" height="16.5" fill="#121212"/><rect x="748" y="292" width="16.5" height="16.5" fill="#828282"/><rect x="764" y="292" width="16.5" height="16.5" fill="#969696"/><rect x="780" y="292" width="16.5" height="16.5" fill="#969696"/><rect x="796" y="292" width="16.5" height="16.5" fill="#828282"/><rect x="812" y="292" width="16.5" height="16.5" fill="#a8a8a8"/><rect x="828" y="292" width="16.5" height="16.5" fill="#969696"/><rect x="844" y="292" width="16.5" height="16.5" fill="#969696"/><rect x="860" y="292" width="16.5" height="16.5" fill="#969696"/><rect x="460" y="308" width="16.5" height="16.5" fill="#4f4f4f"/><rect x="476" y="308" width="16.5" height="16.5" fill="#4f4f4f"/><rect x="492" y="308" width="16.5" height="16.5" fill="#4f4f4f"/><rect x="508" y="308" width="16.5" height="16.5" fill="#969696"/><rect x="524" y="308" width="16.5" height="16.5" fill="#bfbfbf"/><rect x="540" y="308" width="16.5" height="16.5" fill="#969696"/><rect x="556" y="308" width="16.5" height="16.5" fill="#4f4f4f"/><rect x="572" y="308" width="16.5" height="16.5" fill="#4f4f4f"/><rect x="588" y="308" width="16.5" height="16.5" fill="#4f4f4f"/><rect x="604" y="308" width="16.5" height="16.5" fill="#828282"/><rect x="620" y="308" width="16.5" height="16.5" fill="#4f4f4f"/><rect x="636" y="308" width="16.5" height="16.5" fill="#828282"/><rect x="652" y="308" width="16.5" height="16.5" fill="#a8a8a8"/><rect x="668" y="308" width="16.5" height="16.5" fill="#969696"/><rect x="684" y="308" width="16.5" height="16.5" fill="#828282"/><rect x="700" y="308" width="16.5" height="16.5" fill="#828282"/><rect x="716" y="308" width="16.5" height="16.5" fill="#4f4f4f"/><rect x="732" y="308" width="16.5" height="16.5" fill="#4f4f4f"/><rect x="748" y="308" width="16.5" height="16.5" fill="#969696"/><rect x="764" y="308" width="16.5" height="16.5" fill="#6b6b6b"/><rect x="780" y="308" width="16.5" height="16.5" fill="#969696"/><rect x="796" y="308" width="16.5" height="16.5" fill="#828282"/><rect x="812" y="308" width="16.5" height="16.5" fill="#828282"/><rect x="828" y="308" width="16.5" height="16.5" fill="#969696"/><rect x="844" y="308" width="16.5" height="16.5" fill="#828282"/><rect x="860" y="308" width="16.5" height="16.5" fill="#828282"/><rect x="460" y="324" width="16.5" height="16.5" fill="#828282"/><rect x="476" y="324" width="16.5" height="16.5" fill="#828282"/><rect x="492" y="324" width="16.5" height="16.5" fill="#4f4f4f"/><rect x="508" y="324" width="16.5" height="16.5" fill="#828282"/><rect x="524" y="324" width="16.5" height="16.5" fill="#969696"/><rect x="540" y="324" width="16.5" height="16.5" fill="#969696"/><rect x="556" y="324" width="16.5" height="16.5" fill="#828282"/><rect x="572" y="324" width="16.5" height="16.5" fill="#828282"/><rect x="588" y="324" width="16.5" height="16.5" fill="#828282"/><rect x="604" y="324" width="16.5" height="16.5" fill="#a8a8a8"/><rect x="620" y="324" width="16.5" height="16.5" fill="#969696"/><rect x="636" y="324" width="16.5" height="16.5" fill="#969696"/><rect x="652" y="324" width="16.5" height="16.5" fill="#969696"/><rect x="668" y="324" width="16.5" height="16.5" fill="#828282"/><rect x="684" y="324" width="16.5" height="16.5" fill="#969696"/><rect x="700" y="324" width="16.5" height="16.5" fill="#969696"/><rect x="716" y="324" width="16.5" height="16.5" fill="#4f4f4f"/><rect x="732" y="324" width="16.5" height="16.5" fill="#4f4f4f"/><rect x="748" y="324" width="16.5" height="16.5" fill="#828282"/><rect x="764" y="324" width="16.5" height="16.5" fill="#6b6b6b"/><rect x="780" y="324" width="16.5" height="16.5" fill="#969696"/><rect x="796" y="324" width="16.5" height="16.5" fill="#828282"/><rect x="812" y="324" width="16.5" height="16.5" fill="#828282"/><rect x="828" y="324" width="16.5" height="16.5" fill="#828282"/><rect x="844" y="324" width="16.5" height="16.5" fill="#4f4f4f"/><rect x="860" y="324" width="16.5" height="16.5" fill="#4f4f4f"/><rect x="460" y="340" width="16.5" height="16.5" fill="#a8a8a8"/><rect x="476" y="340" width="16.5" height="16.5" fill="#a8a8a8"/><rect x="492" y="340" width="16.5" height="16.5" fill="#828282"/><rect x="508" y="340" width="16.5" height="16.5" fill="#969696"/><rect x="524" y="340" width="16.5" height="16.5" fill="#828282"/><rect x="540" y="340" width="16.5" height="16.5" fill="#6b6b6b"/><rect x="556" y="340" width="16.5" height="16.5" fill="#969696"/><rect x="572" y="340" width="16.5" height="16.5" fill="#828282"/><rect x="588" y="340" width="16.5" height="16.5" fill="#828282"/><rect x="604" y="340" width="16.5" height="16.5" fill="#969696"/><rect x="620" y="340" width="16.5" height="16.5" fill="#828282"/><rect x="636" y="340" width="16.5" height="16.5" fill="#828282"/><rect x="652" y="340" width="16.5" height="16.5" fill="#969696"/><rect x="668" y="340" width="16.5" height="16.5" fill="#a8a8a8"/><rect x="684" y="340" width="16.5" height="16.5" fill="#a8a8a8"/><rect x="700" y="340" width="16.5" height="16.5" fill="#969696"/><rect x="716" y="340" width="16.5" height="16.5" fill="#828282"/><rect x="732" y="340" width="16.5" height="16.5" fill="#6b6b6b"/><rect x="748" y="340" width="16.5" height="16.5" fill="#303030"/><rect x="764" y="340" width="16.5" height="16.5" fill="#6b6b6b"/><rect x="780" y="340" width="16.5" height="16.5" fill="#828282"/><rect x="796" y="340" width="16.5" height="16.5" fill="#4f4f4f"/><rect x="812" y="340" width="16.5" height="16.5" fill="#6b6b6b"/><rect x="828" y="340" width="16.5" height="16.5" fill="#969696"/><rect x="844" y="340" width="16.5" height="16.5" fill="#a8a8a8"/><rect x="860" y="340" width="16.5" height="16.5" fill="#a8a8a8"/><rect x="460" y="356" width="16.5" height="16.5" fill="#969696"/><rect x="476" y="356" width="16.5" height="16.5" fill="#969696"/><rect x="492" y="356" width="16.5" height="16.5" fill="#a8a8a8"/><rect x="508" y="356" width="16.5" height="16.5" fill="#a8a8a8"/><rect x="524" y="356" width="16.5" height="16.5" fill="#828282"/><rect x="540" y="356" width="16.5" height="16.5" fill="#969696"/><rect x="556" y="356" width="16.5" height="16.5" fill="#a8a8a8"/><rect x="572" y="356" width="16.5" height="16.5" fill="#a8a8a8"/><rect x="588" y="356" width="16.5" height="16.5" fill="#bfbfbf"/><rect x="604" y="356" width="16.5" height="16.5" fill="#4f4f4f"/><rect x="620" y="356" width="16.5" height="16.5" fill="#121212"/><rect x="636" y="356" width="16.5" height="16.5" fill="#303030"/><rect x="652" y="356" width="16.5" height="16.5" fill="#828282"/><rect x="668" y="356" width="16.5" height="16.5" fill="#a8a8a8"/><rect x="684" y="356" width="16.5" height="16.5" fill="#d9d9d9"/><rect x="700" y="356" width="16.5" height="16.5" fill="#bfbfbf"/><rect x="716" y="356" width="16.5" height="16.5" fill="#969696"/><rect x="732" y="356" width="16.5" height="16.5" fill="#a8a8a8"/><rect x="748" y="356" width="16.5" height="16.5" fill="#4f4f4f"/><rect x="764" y="356" width="16.5" height="16.5" fill="#303030"/><rect x="780" y="356" width="16.5" height="16.5" fill="#303030"/><rect x="796" y="356" width="16.5" height="16.5" fill="#4f4f4f"/><rect x="812" y="356" width="16.5" height="16.5" fill="#4f4f4f"/><rect x="828" y="356" width="16.5" height="16.5" fill="#a8a8a8"/><rect x="844" y="356" width="16.5" height="16.5" fill="#a8a8a8"/><rect x="860" y="356" width="16.5" height="16.5" fill="#a8a8a8"/><rect x="460" y="372" width="16.5" height="16.5" fill="#6b6b6b"/><rect x="476" y="372" width="16.5" height="16.5" fill="#6b6b6b"/><rect x="492" y="372" width="16.5" height="16.5" fill="#828282"/><rect x="508" y="372" width="16.5" height="16.5" fill="#828282"/><rect x="524" y="372" width="16.5" height="16.5" fill="#303030"/><rect x="540" y="372" width="16.5" height="16.5" fill="#4f4f4f"/><rect x="556" y="372" width="16.5" height="16.5" fill="#969696"/><rect x="572" y="372" width="16.5" height="16.5" fill="#969696"/><rect x="588" y="372" width="16.5" height="16.5" fill="#a8a8a8"/><rect x="604" y="372" width="16.5" height="16.5" fill="#4f4f4f"/><rect x="620" y="372" width="16.5" height="16.5" fill="#4f4f4f"/><rect x="636" y="372" width="16.5" height="16.5" fill="#4f4f4f"/><rect x="652" y="372" width="16.5" height="16.5" fill="#828282"/><rect x="668" y="372" width="16.5" height="16.5" fill="#969696"/><rect x="684" y="372" width="16.5" height="16.5" fill="#bfbfbf"/><rect x="700" y="372" width="16.5" height="16.5" fill="#969696"/><rect x="716" y="372" width="16.5" height="16.5" fill="#969696"/><rect x="732" y="372" width="16.5" height="16.5" fill="#828282"/><rect x="748" y="372" width="16.5" height="16.5" fill="#828282"/><rect x="764" y="372" width="16.5" height="16.5" fill="#4f4f4f"/><rect x="780" y="372" width="16.5" height="16.5" fill="#121212"/><rect x="796" y="372" width="16.5" height="16.5" fill="#828282"/><rect x="812" y="372" width="16.5" height="16.5" fill="#4f4f4f"/><rect x="828" y="372" width="16.5" height="16.5" fill="#969696"/><rect x="844" y="372" width="16.5" height="16.5" fill="#a8a8a8"/><rect x="860" y="372" width="16.5" height="16.5" fill="#a8a8a8"/><rect x="460" y="388" width="16.5" height="16.5" fill="#6b6b6b"/><rect x="476" y="388" width="16.5" height="16.5" fill="#6b6b6b"/><rect x="492" y="388" width="16.5" height="16.5" fill="#828282"/><rect x="508" y="388" width="16.5" height="16.5" fill="#828282"/><rect x="524" y="388" width="16.5" height="16.5" fill="#303030"/><rect x="540" y="388" width="16.5" height="16.5" fill="#4f4f4f"/><rect x="556" y="388" width="16.5" height="16.5" fill="#969696"/><rect x="572" y="388" width="16.5" height="16.5" fill="#969696"/><rect x="588" y="388" width="16.5" height="16.5" fill="#a8a8a8"/><rect x="604" y="388" width="16.5" height="16.5" fill="#4f4f4f"/><rect x="620" y="388" width="16.5" height="16.5" fill="#4f4f4f"/><rect x="636" y="388" width="16.5" height="16.5" fill="#4f4f4f"/><rect x="652" y="388" width="16.5" height="16.5" fill="#828282"/><rect x="668" y="388" width="16.5" height="16.5" fill="#969696"/><rect x="684" y="388" width="16.5" height="16.5" fill="#bfbfbf"/><rect x="700" y="388" width="16.5" height="16.5" fill="#969696"/><rect x="716" y="388" width="16.5" height="16.5" fill="#969696"/><rect x="732" y="388" width="16.5" height="16.5" fill="#828282"/><rect x="748" y="388" width="16.5" height="16.5" fill="#828282"/><rect x="764" y="388" width="16.5" height="16.5" fill="#4f4f4f"/><rect x="780" y="388" width="16.5" height="16.5" fill="#121212"/><rect x="796" y="388" width="16.5" height="16.5" fill="#828282"/><rect x="812" y="388" width="16.5" height="16.5" fill="#4f4f4f"/><rect x="828" y="388" width="16.5" height="16.5" fill="#969696"/><rect x="844" y="388" width="16.5" height="16.5" fill="#a8a8a8"/><rect x="860" y="388" width="16.5" height="16.5" fill="#a8a8a8"/>
</g>
<g fill="url(#bump)"><circle cx="542.1" cy="-0.4" r="7.2"/><circle cx="521.6" cy="15.1" r="7.2"/><circle cx="529.8" cy="12.6" r="7.2"/><circle cx="545.1" cy="7.7" r="7.2"/><circle cx="552.7" cy="5.0" r="7.2"/><circle cx="560.6" cy="3.1" r="7.2"/><circle cx="568.8" cy="0.7" r="7.2"/><circle cx="576.3" cy="-1.7" r="7.2"/><circle cx="492.9" cy="33.5" r="7.2"/><circle cx="500.2" cy="30.8" r="7.2"/><circle cx="524.2" cy="22.9" r="7.2"/><circle cx="531.7" cy="20.4" r="7.2"/><circle cx="539.5" cy="18.4" r="7.2"/><circle cx="548.2" cy="16.3" r="7.2"/><circle cx="556.2" cy="13.3" r="7.2"/><circle cx="563.9" cy="10.9" r="7.2"/><circle cx="572.1" cy="8.6" r="7.2"/><circle cx="579.6" cy="6.6" r="7.2"/><circle cx="587.0" cy="3.5" r="7.2"/><circle cx="495.7" cy="41.0" r="7.2"/><circle cx="503.3" cy="38.7" r="7.2"/><circle cx="511.6" cy="36.4" r="7.2"/><circle cx="518.6" cy="33.4" r="7.2"/><circle cx="526.7" cy="31.5" r="7.2"/><circle cx="535.0" cy="29.2" r="7.2"/><circle cx="543.1" cy="26.6" r="7.2"/><circle cx="550.8" cy="24.2" r="7.2"/><circle cx="558.8" cy="21.3" r="7.2"/><circle cx="566.8" cy="19.5" r="7.2"/><circle cx="582.6" cy="14.6" r="7.2"/><circle cx="506.3" cy="47.1" r="7.2"/><circle cx="513.4" cy="44.2" r="7.2"/><circle cx="522.1" cy="41.8" r="7.2"/><circle cx="577.4" cy="24.3" r="7.2"/><circle cx="584.7" cy="22.2" r="7.2"/><circle cx="500.3" cy="57.2" r="7.2"/><circle cx="509.1" cy="55.1" r="7.2"/><circle cx="516.9" cy="52.1" r="7.2"/><circle cx="524.8" cy="50.4" r="7.2"/><circle cx="682.3" cy="1.1" r="7.2"/><circle cx="690.1" cy="-1.2" r="7.2"/><circle cx="511.6" cy="62.6" r="7.2"/><circle cx="527.2" cy="58.6" r="7.2"/><circle cx="574.6" cy="43.8" r="7.2"/><circle cx="582.7" cy="40.9" r="7.2"/><circle cx="685.0" cy="9.0" r="7.2"/><circle cx="692.8" cy="6.3" r="7.2"/><circle cx="701.3" cy="4.4" r="7.2"/><circle cx="708.6" cy="1.5" r="7.2"/><circle cx="529.6" cy="66.6" r="7.2"/><circle cx="537.3" cy="63.6" r="7.2"/><circle cx="585.3" cy="49.5" r="7.2"/><circle cx="687.6" cy="16.8" r="7.2"/><circle cx="695.3" cy="14.7" r="7.2"/><circle cx="703.4" cy="12.2" r="7.2"/><circle cx="711.6" cy="9.9" r="7.2"/><circle cx="734.8" cy="2.6" r="7.2"/><circle cx="743.0" cy="-0.3" r="7.2"/><circle cx="516.7" cy="79.5" r="7.2"/><circle cx="524.2" cy="76.9" r="7.2"/><circle cx="532.3" cy="74.2" r="7.2"/><circle cx="540.4" cy="71.8" r="7.2"/><circle cx="619.4" cy="47.1" r="7.2"/><circle cx="690.9" cy="25.1" r="7.2"/><circle cx="698.2" cy="22.4" r="7.2"/><circle cx="706.3" cy="20.1" r="7.2"/><circle cx="738.0" cy="10.2" r="7.2"/><circle cx="745.9" cy="8.1" r="7.2"/><circle cx="769.5" cy="0.5" r="7.2"/><circle cx="519.3" cy="87.6" r="7.2"/><circle cx="535.5" cy="82.2" r="7.2"/><circle cx="566.4" cy="72.4" r="7.2"/><circle cx="574.2" cy="70.0" r="7.2"/><circle cx="582.3" cy="67.5" r="7.2"/><circle cx="590.4" cy="65.2" r="7.2"/><circle cx="684.9" cy="36.0" r="7.2"/><circle cx="692.8" cy="33.1" r="7.2"/><circle cx="701.2" cy="31.1" r="7.2"/><circle cx="709.4" cy="28.1" r="7.2"/><circle cx="725.2" cy="23.4" r="7.2"/><circle cx="748.2" cy="16.4" r="7.2"/><circle cx="764.0" cy="11.6" r="7.2"/><circle cx="771.8" cy="8.8" r="7.2"/><circle cx="522.0" cy="95.7" r="7.2"/><circle cx="529.8" cy="93.4" r="7.2"/><circle cx="538.0" cy="90.7" r="7.2"/><circle cx="569.2" cy="80.5" r="7.2"/><circle cx="577.2" cy="77.9" r="7.2"/><circle cx="585.2" cy="76.1" r="7.2"/><circle cx="593.2" cy="73.7" r="7.2"/><circle cx="600.7" cy="71.3" r="7.2"/><circle cx="688.0" cy="44.2" r="7.2"/><circle cx="695.4" cy="41.8" r="7.2"/><circle cx="703.8" cy="39.4" r="7.2"/><circle cx="712.2" cy="36.3" r="7.2"/><circle cx="727.5" cy="31.9" r="7.2"/><circle cx="759.2" cy="21.6" r="7.2"/><circle cx="767.4" cy="19.7" r="7.2"/><circle cx="775.2" cy="16.7" r="7.2"/><circle cx="477.1" cy="118.7" r="7.2"/><circle cx="501.1" cy="111.2" r="7.2"/><circle cx="508.7" cy="108.4" r="7.2"/><circle cx="517.2" cy="106.4" r="7.2"/><circle cx="525.1" cy="103.5" r="7.2"/><circle cx="532.6" cy="101.4" r="7.2"/><circle cx="540.8" cy="99.1" r="7.2"/><circle cx="572.1" cy="88.6" r="7.2"/><circle cx="579.7" cy="86.0" r="7.2"/><circle cx="588.4" cy="83.5" r="7.2"/><circle cx="596.3" cy="81.8" r="7.2"/><circle cx="603.8" cy="78.9" r="7.2"/><circle cx="683.0" cy="54.9" r="7.2"/><circle cx="690.3" cy="51.6" r="7.2"/><circle cx="698.5" cy="49.9" r="7.2"/><circle cx="706.7" cy="46.9" r="7.2"/><circle cx="730.5" cy="39.6" r="7.2"/><circle cx="761.3" cy="30.5" r="7.2"/><circle cx="848.4" cy="3.1" r="7.2"/><circle cx="856.6" cy="0.6" r="7.2"/><circle cx="472.1" cy="128.7" r="7.2"/><circle cx="480.3" cy="126.6" r="7.2"/><circle cx="495.8" cy="121.2" r="7.2"/><circle cx="503.3" cy="118.9" r="7.2"/><circle cx="511.5" cy="116.2" r="7.2"/><circle cx="519.5" cy="113.8" r="7.2"/><circle cx="527.9" cy="112.1" r="7.2"/><circle cx="535.7" cy="108.8" r="7.2"/><circle cx="543.2" cy="106.3" r="7.2"/><circle cx="574.7" cy="97.4" r="7.2"/><circle cx="583.1" cy="94.7" r="7.2"/><circle cx="591.1" cy="92.0" r="7.2"/><circle cx="598.1" cy="89.5" r="7.2"/><circle cx="638.5" cy="77.8" r="7.2"/><circle cx="677.6" cy="64.7" r="7.2"/><circle cx="685.4" cy="62.5" r="7.2"/><circle cx="693.6" cy="59.7" r="7.2"/><circle cx="701.6" cy="58.2" r="7.2"/><circle cx="819.9" cy="20.8" r="7.2"/><circle cx="851.1" cy="11.6" r="7.2"/><circle cx="859.1" cy="8.7" r="7.2"/><circle cx="474.9" cy="137.2" r="7.2"/><circle cx="483.2" cy="134.2" r="7.2"/><circle cx="490.2" cy="131.8" r="7.2"/><circle cx="498.5" cy="129.5" r="7.2"/><circle cx="506.3" cy="127.2" r="7.2"/><circle cx="514.2" cy="124.7" r="7.2"/><circle cx="521.9" cy="122.4" r="7.2"/><circle cx="530.1" cy="120.1" r="7.2"/><circle cx="537.7" cy="117.7" r="7.2"/><circle cx="546.4" cy="115.2" r="7.2"/><circle cx="593.1" cy="99.9" r="7.2"/><circle cx="600.8" cy="97.2" r="7.2"/><circle cx="616.7" cy="93.3" r="7.2"/><circle cx="625.5" cy="90.7" r="7.2"/><circle cx="633.0" cy="87.4" r="7.2"/><circle cx="640.6" cy="85.5" r="7.2"/><circle cx="648.2" cy="82.7" r="7.2"/><circle cx="672.1" cy="75.2" r="7.2"/><circle cx="679.9" cy="73.1" r="7.2"/><circle cx="688.6" cy="70.9" r="7.2"/><circle cx="696.2" cy="68.4" r="7.2"/><circle cx="703.9" cy="65.7" r="7.2"/><circle cx="822.9" cy="28.9" r="7.2"/><circle cx="830.9" cy="26.3" r="7.2"/><circle cx="846.2" cy="21.6" r="7.2"/><circle cx="854.5" cy="19.6" r="7.2"/><circle cx="862.1" cy="17.0" r="7.2"/><circle cx="477.8" cy="144.8" r="7.2"/><circle cx="485.6" cy="142.1" r="7.2"/><circle cx="493.7" cy="140.1" r="7.2"/><circle cx="501.2" cy="137.3" r="7.2"/><circle cx="517.0" cy="133.1" r="7.2"/><circle cx="525.3" cy="130.7" r="7.2"/><circle cx="533.3" cy="127.5" r="7.2"/><circle cx="540.7" cy="125.3" r="7.2"/><circle cx="548.9" cy="123.2" r="7.2"/><circle cx="596.1" cy="107.8" r="7.2"/><circle cx="604.5" cy="105.7" r="7.2"/><circle cx="612.1" cy="103.7" r="7.2"/><circle cx="619.5" cy="100.7" r="7.2"/><circle cx="627.4" cy="98.5" r="7.2"/><circle cx="635.6" cy="95.8" r="7.2"/><circle cx="643.8" cy="93.8" r="7.2"/><circle cx="651.0" cy="91.2" r="7.2"/><circle cx="658.9" cy="88.2" r="7.2"/><circle cx="667.0" cy="86.1" r="7.2"/><circle cx="675.0" cy="83.5" r="7.2"/><circle cx="683.2" cy="81.0" r="7.2"/><circle cx="690.7" cy="78.9" r="7.2"/><circle cx="699.1" cy="76.2" r="7.2"/><circle cx="761.6" cy="56.3" r="7.2"/><circle cx="817.1" cy="39.5" r="7.2"/><circle cx="824.9" cy="37.1" r="7.2"/><circle cx="840.7" cy="31.9" r="7.2"/><circle cx="848.9" cy="29.6" r="7.2"/><circle cx="857.2" cy="26.9" r="7.2"/><circle cx="472.6" cy="155.4" r="7.2"/><circle cx="480.6" cy="152.7" r="7.2"/><circle cx="495.6" cy="148.5" r="7.2"/><circle cx="519.8" cy="140.5" r="7.2"/><circle cx="527.8" cy="138.0" r="7.2"/><circle cx="535.2" cy="136.2" r="7.2"/><circle cx="543.7" cy="133.9" r="7.2"/><circle cx="598.9" cy="116.5" r="7.2"/><circle cx="607.2" cy="114.1" r="7.2"/><circle cx="614.2" cy="111.6" r="7.2"/><circle cx="622.3" cy="109.4" r="7.2"/><circle cx="630.5" cy="106.5" r="7.2"/><circle cx="638.1" cy="104.4" r="7.2"/><circle cx="645.8" cy="101.6" r="7.2"/><circle cx="654.5" cy="98.9" r="7.2"/><circle cx="662.3" cy="96.6" r="7.2"/><circle cx="670.1" cy="94.2" r="7.2"/><circle cx="677.4" cy="91.8" r="7.2"/><circle cx="685.6" cy="89.1" r="7.2"/><circle cx="693.2" cy="87.4" r="7.2"/><circle cx="819.9" cy="48.2" r="7.2"/><circle cx="828.3" cy="44.9" r="7.2"/><circle cx="836.0" cy="43.3" r="7.2"/><circle cx="844.1" cy="40.2" r="7.2"/><circle cx="851.7" cy="37.8" r="7.2"/><circle cx="859.7" cy="35.5" r="7.2"/><circle cx="482.5" cy="160.7" r="7.2"/><circle cx="490.8" cy="159.0" r="7.2"/><circle cx="514.7" cy="151.2" r="7.2"/><circle cx="522.3" cy="148.7" r="7.2"/><circle cx="609.3" cy="122.1" r="7.2"/><circle cx="616.8" cy="119.6" r="7.2"/><circle cx="633.3" cy="114.3" r="7.2"/><circle cx="641.1" cy="112.4" r="7.2"/><circle cx="648.7" cy="109.6" r="7.2"/><circle cx="656.5" cy="107.2" r="7.2"/><circle cx="664.6" cy="104.8" r="7.2"/><circle cx="672.2" cy="102.6" r="7.2"/><circle cx="680.4" cy="100.2" r="7.2"/><circle cx="688.7" cy="98.0" r="7.2"/><circle cx="696.6" cy="95.2" r="7.2"/><circle cx="823.0" cy="55.6" r="7.2"/><circle cx="830.5" cy="53.8" r="7.2"/><circle cx="838.1" cy="51.0" r="7.2"/><circle cx="846.8" cy="48.5" r="7.2"/><circle cx="854.5" cy="46.1" r="7.2"/><circle cx="861.9" cy="44.0" r="7.2"/><circle cx="470.1" cy="174.3" r="7.2"/><circle cx="477.7" cy="172.2" r="7.2"/><circle cx="485.9" cy="169.5" r="7.2"/><circle cx="493.9" cy="166.7" r="7.2"/><circle cx="509.0" cy="161.7" r="7.2"/><circle cx="635.4" cy="122.6" r="7.2"/><circle cx="643.5" cy="120.5" r="7.2"/><circle cx="651.4" cy="118.0" r="7.2"/><circle cx="659.1" cy="115.0" r="7.2"/><circle cx="667.1" cy="113.1" r="7.2"/><circle cx="675.0" cy="110.6" r="7.2"/><circle cx="683.1" cy="107.8" r="7.2"/><circle cx="738.0" cy="90.8" r="7.2"/><circle cx="825.4" cy="63.5" r="7.2"/><circle cx="833.0" cy="61.9" r="7.2"/><circle cx="841.1" cy="59.0" r="7.2"/><circle cx="856.8" cy="54.6" r="7.2"/><circle cx="480.2" cy="179.4" r="7.2"/><circle cx="488.2" cy="177.5" r="7.2"/><circle cx="496.4" cy="174.9" r="7.2"/><circle cx="503.7" cy="172.4" r="7.2"/><circle cx="511.8" cy="170.3" r="7.2"/><circle cx="520.4" cy="167.4" r="7.2"/><circle cx="654.2" cy="125.5" r="7.2"/><circle cx="661.7" cy="123.9" r="7.2"/><circle cx="741.4" cy="98.6" r="7.2"/><circle cx="836.5" cy="69.4" r="7.2"/><circle cx="844.3" cy="66.9" r="7.2"/><circle cx="860.0" cy="62.2" r="7.2"/><circle cx="491.5" cy="186.0" r="7.2"/><circle cx="498.7" cy="182.7" r="7.2"/><circle cx="506.8" cy="181.0" r="7.2"/><circle cx="515.2" cy="178.1" r="7.2"/><circle cx="523.2" cy="176.0" r="7.2"/><circle cx="657.4" cy="134.3" r="7.2"/><circle cx="665.3" cy="131.3" r="7.2"/><circle cx="736.4" cy="109.6" r="7.2"/><circle cx="743.5" cy="106.7" r="7.2"/><circle cx="814.6" cy="85.4" r="7.2"/><circle cx="822.5" cy="83.0" r="7.2"/><circle cx="501.9" cy="190.8" r="7.2"/><circle cx="509.5" cy="188.5" r="7.2"/><circle cx="517.9" cy="186.0" r="7.2"/><circle cx="525.2" cy="184.2" r="7.2"/><circle cx="532.9" cy="181.5" r="7.2"/><circle cx="564.9" cy="171.9" r="7.2"/><circle cx="644.2" cy="147.5" r="7.2"/><circle cx="651.9" cy="144.6" r="7.2"/><circle cx="659.7" cy="142.3" r="7.2"/><circle cx="667.2" cy="139.3" r="7.2"/><circle cx="675.2" cy="136.9" r="7.2"/><circle cx="707.2" cy="127.8" r="7.2"/><circle cx="730.9" cy="120.0" r="7.2"/><circle cx="738.2" cy="117.6" r="7.2"/><circle cx="746.4" cy="115.7" r="7.2"/><circle cx="801.4" cy="97.7" r="7.2"/><circle cx="809.6" cy="95.2" r="7.2"/><circle cx="520.3" cy="194.8" r="7.2"/><circle cx="528.5" cy="192.1" r="7.2"/><circle cx="646.4" cy="155.6" r="7.2"/><circle cx="654.1" cy="152.8" r="7.2"/><circle cx="678.5" cy="144.9" r="7.2"/><circle cx="709.8" cy="136.0" r="7.2"/><circle cx="725.6" cy="130.4" r="7.2"/><circle cx="733.8" cy="128.6" r="7.2"/><circle cx="741.6" cy="125.7" r="7.2"/><circle cx="749.6" cy="122.9" r="7.2"/><circle cx="804.4" cy="106.6" r="7.2"/><circle cx="812.7" cy="104.1" r="7.2"/><circle cx="820.4" cy="101.6" r="7.2"/><circle cx="827.9" cy="99.1" r="7.2"/><circle cx="640.9" cy="165.3" r="7.2"/><circle cx="657.0" cy="160.7" r="7.2"/><circle cx="665.2" cy="157.9" r="7.2"/><circle cx="673.2" cy="155.7" r="7.2"/><circle cx="736.2" cy="136.2" r="7.2"/><circle cx="743.7" cy="133.6" r="7.2"/><circle cx="752.2" cy="131.2" r="7.2"/><circle cx="807.5" cy="114.6" r="7.2"/><circle cx="815.3" cy="111.7" r="7.2"/><circle cx="822.8" cy="109.6" r="7.2"/><circle cx="831.1" cy="106.6" r="7.2"/><circle cx="838.4" cy="104.2" r="7.2"/><circle cx="847.0" cy="101.6" r="7.2"/><circle cx="854.9" cy="99.2" r="7.2"/><circle cx="660.2" cy="168.8" r="7.2"/><circle cx="668.0" cy="166.9" r="7.2"/><circle cx="676.1" cy="164.3" r="7.2"/><circle cx="746.5" cy="141.6" r="7.2"/><circle cx="754.3" cy="139.2" r="7.2"/><circle cx="763.0" cy="137.0" r="7.2"/><circle cx="826.3" cy="117.0" r="7.2"/><circle cx="833.3" cy="115.1" r="7.2"/><circle cx="841.6" cy="112.2" r="7.2"/><circle cx="849.6" cy="109.8" r="7.2"/><circle cx="857.1" cy="107.6" r="7.2"/><circle cx="591.6" cy="199.5" r="7.2"/><circle cx="662.7" cy="177.3" r="7.2"/><circle cx="749.9" cy="150.2" r="7.2"/><circle cx="757.5" cy="148.1" r="7.2"/><circle cx="765.1" cy="145.6" r="7.2"/><circle cx="773.7" cy="142.3" r="7.2"/><circle cx="781.0" cy="140.6" r="7.2"/><circle cx="844.6" cy="121.0" r="7.2"/><circle cx="851.8" cy="118.0" r="7.2"/><circle cx="491.8" cy="239.2" r="7.2"/><circle cx="578.0" cy="211.9" r="7.2"/><circle cx="586.4" cy="209.6" r="7.2"/><circle cx="594.5" cy="206.8" r="7.2"/><circle cx="634.0" cy="195.2" r="7.2"/><circle cx="642.1" cy="192.5" r="7.2"/><circle cx="752.7" cy="157.9" r="7.2"/><circle cx="759.8" cy="155.5" r="7.2"/><circle cx="768.3" cy="153.4" r="7.2"/><circle cx="776.3" cy="150.4" r="7.2"/><circle cx="854.5" cy="126.5" r="7.2"/><circle cx="486.6" cy="249.3" r="7.2"/><circle cx="494.5" cy="247.4" r="7.2"/><circle cx="502.6" cy="245.1" r="7.2"/><circle cx="573.4" cy="223.1" r="7.2"/><circle cx="580.6" cy="220.4" r="7.2"/><circle cx="597.0" cy="215.7" r="7.2"/><circle cx="628.1" cy="205.2" r="7.2"/><circle cx="636.7" cy="203.5" r="7.2"/><circle cx="644.6" cy="200.6" r="7.2"/><circle cx="652.5" cy="198.0" r="7.2"/><circle cx="684.1" cy="188.1" r="7.2"/><circle cx="692.0" cy="185.8" r="7.2"/><circle cx="699.9" cy="183.1" r="7.2"/><circle cx="754.5" cy="166.4" r="7.2"/><circle cx="763.3" cy="164.0" r="7.2"/><circle cx="770.5" cy="161.0" r="7.2"/><circle cx="817.8" cy="146.7" r="7.2"/><circle cx="489.2" cy="257.6" r="7.2"/><circle cx="496.6" cy="255.4" r="7.2"/><circle cx="592.0" cy="226.2" r="7.2"/><circle cx="599.9" cy="223.8" r="7.2"/><circle cx="631.0" cy="213.7" r="7.2"/><circle cx="639.3" cy="211.4" r="7.2"/><circle cx="647.2" cy="208.2" r="7.2"/><circle cx="654.9" cy="206.2" r="7.2"/><circle cx="662.6" cy="203.9" r="7.2"/><circle cx="686.5" cy="196.8" r="7.2"/><circle cx="694.8" cy="194.4" r="7.2"/><circle cx="757.5" cy="174.2" r="7.2"/><circle cx="804.9" cy="159.9" r="7.2"/><circle cx="812.5" cy="157.4" r="7.2"/><circle cx="586.3" cy="235.9" r="7.2"/><circle cx="594.3" cy="234.4" r="7.2"/><circle cx="602.5" cy="231.9" r="7.2"/><circle cx="634.2" cy="221.9" r="7.2"/><circle cx="642.2" cy="219.0" r="7.2"/><circle cx="649.5" cy="216.6" r="7.2"/><circle cx="657.3" cy="213.8" r="7.2"/><circle cx="689.4" cy="204.9" r="7.2"/><circle cx="696.8" cy="202.1" r="7.2"/><circle cx="752.7" cy="184.6" r="7.2"/><circle cx="807.9" cy="167.5" r="7.2"/><circle cx="855.6" cy="153.2" r="7.2"/><circle cx="517.6" cy="266.5" r="7.2"/><circle cx="525.8" cy="264.4" r="7.2"/><circle cx="534.3" cy="261.8" r="7.2"/><circle cx="589.4" cy="244.6" r="7.2"/><circle cx="596.6" cy="242.0" r="7.2"/><circle cx="620.9" cy="234.6" r="7.2"/><circle cx="629.0" cy="232.5" r="7.2"/><circle cx="636.2" cy="229.9" r="7.2"/><circle cx="644.8" cy="227.5" r="7.2"/><circle cx="652.8" cy="224.5" r="7.2"/><circle cx="660.0" cy="222.7" r="7.2"/><circle cx="668.3" cy="219.8" r="7.2"/><circle cx="684.4" cy="215.4" r="7.2"/><circle cx="691.7" cy="212.5" r="7.2"/><circle cx="699.6" cy="209.8" r="7.2"/><circle cx="746.8" cy="195.9" r="7.2"/><circle cx="755.0" cy="193.0" r="7.2"/><circle cx="809.9" cy="175.5" r="7.2"/><circle cx="857.8" cy="161.1" r="7.2"/><circle cx="529.2" cy="272.6" r="7.2"/><circle cx="537.1" cy="269.9" r="7.2"/><circle cx="592.3" cy="253.0" r="7.2"/><circle cx="599.3" cy="250.6" r="7.2"/><circle cx="607.5" cy="247.9" r="7.2"/><circle cx="615.2" cy="245.7" r="7.2"/><circle cx="631.8" cy="240.2" r="7.2"/><circle cx="639.6" cy="237.8" r="7.2"/><circle cx="646.9" cy="235.1" r="7.2"/><circle cx="655.5" cy="232.9" r="7.2"/><circle cx="663.1" cy="230.6" r="7.2"/><circle cx="670.8" cy="227.7" r="7.2"/><circle cx="687.1" cy="222.9" r="7.2"/><circle cx="694.5" cy="220.9" r="7.2"/><circle cx="750.0" cy="203.4" r="7.2"/><circle cx="757.5" cy="201.3" r="7.2"/><circle cx="797.3" cy="188.4" r="7.2"/><circle cx="804.7" cy="186.4" r="7.2"/><circle cx="836.9" cy="176.3" r="7.2"/><circle cx="852.3" cy="171.3" r="7.2"/><circle cx="860.5" cy="169.2" r="7.2"/><circle cx="515.1" cy="285.3" r="7.2"/><circle cx="531.6" cy="280.2" r="7.2"/><circle cx="538.8" cy="278.3" r="7.2"/><circle cx="547.3" cy="275.1" r="7.2"/><circle cx="610.4" cy="255.3" r="7.2"/><circle cx="618.1" cy="253.5" r="7.2"/><circle cx="633.9" cy="248.0" r="7.2"/><circle cx="641.7" cy="246.3" r="7.2"/><circle cx="649.9" cy="243.1" r="7.2"/><circle cx="657.3" cy="241.3" r="7.2"/><circle cx="673.2" cy="236.6" r="7.2"/><circle cx="792.2" cy="199.4" r="7.2"/><circle cx="800.0" cy="196.8" r="7.2"/><circle cx="808.2" cy="194.1" r="7.2"/><circle cx="831.8" cy="187.6" r="7.2"/><circle cx="839.2" cy="184.9" r="7.2"/><circle cx="847.8" cy="182.1" r="7.2"/><circle cx="855.4" cy="180.0" r="7.2"/><circle cx="510.2" cy="295.3" r="7.2"/><circle cx="517.8" cy="293.5" r="7.2"/><circle cx="526.5" cy="291.2" r="7.2"/><circle cx="534.1" cy="288.5" r="7.2"/><circle cx="542.0" cy="286.2" r="7.2"/><circle cx="550.0" cy="283.7" r="7.2"/><circle cx="558.0" cy="280.7" r="7.2"/><circle cx="613.6" cy="264.1" r="7.2"/><circle cx="621.1" cy="261.5" r="7.2"/><circle cx="629.3" cy="259.0" r="7.2"/><circle cx="636.5" cy="256.9" r="7.2"/><circle cx="645.0" cy="254.2" r="7.2"/><circle cx="652.9" cy="251.3" r="7.2"/><circle cx="660.3" cy="248.7" r="7.2"/><circle cx="739.4" cy="224.7" r="7.2"/><circle cx="787.3" cy="210.4" r="7.2"/><circle cx="794.9" cy="207.0" r="7.2"/><circle cx="802.5" cy="205.2" r="7.2"/><circle cx="810.9" cy="202.3" r="7.2"/><circle cx="818.6" cy="199.7" r="7.2"/><circle cx="842.6" cy="193.0" r="7.2"/><circle cx="849.9" cy="190.5" r="7.2"/><circle cx="858.4" cy="188.1" r="7.2"/><circle cx="513.3" cy="303.5" r="7.2"/><circle cx="521.4" cy="301.7" r="7.2"/><circle cx="528.7" cy="299.1" r="7.2"/><circle cx="536.9" cy="296.1" r="7.2"/><circle cx="544.7" cy="294.4" r="7.2"/><circle cx="552.3" cy="291.9" r="7.2"/><circle cx="560.3" cy="289.2" r="7.2"/><circle cx="608.0" cy="274.8" r="7.2"/><circle cx="615.5" cy="272.4" r="7.2"/><circle cx="623.4" cy="269.9" r="7.2"/><circle cx="631.7" cy="267.2" r="7.2"/><circle cx="639.5" cy="264.2" r="7.2"/><circle cx="647.7" cy="261.9" r="7.2"/><circle cx="654.9" cy="259.4" r="7.2"/><circle cx="726.9" cy="237.2" r="7.2"/><circle cx="734.4" cy="235.1" r="7.2"/><circle cx="742.2" cy="233.0" r="7.2"/><circle cx="789.6" cy="217.9" r="7.2"/><circle cx="797.9" cy="215.2" r="7.2"/><circle cx="805.9" cy="213.5" r="7.2"/><circle cx="813.6" cy="210.4" r="7.2"/><circle cx="821.5" cy="208.2" r="7.2"/><circle cx="829.6" cy="205.7" r="7.2"/><circle cx="845.1" cy="200.9" r="7.2"/><circle cx="852.4" cy="198.3" r="7.2"/><circle cx="860.4" cy="195.6" r="7.2"/><circle cx="515.5" cy="312.0" r="7.2"/><circle cx="523.2" cy="309.1" r="7.2"/><circle cx="531.7" cy="307.3" r="7.2"/><circle cx="539.6" cy="304.6" r="7.2"/><circle cx="547.7" cy="302.0" r="7.2"/><circle cx="610.6" cy="283.0" r="7.2"/><circle cx="618.6" cy="280.1" r="7.2"/><circle cx="625.9" cy="277.6" r="7.2"/><circle cx="634.1" cy="274.8" r="7.2"/><circle cx="641.9" cy="273.0" r="7.2"/><circle cx="650.2" cy="270.0" r="7.2"/><circle cx="752.4" cy="237.9" r="7.2"/><circle cx="760.9" cy="235.5" r="7.2"/><circle cx="768.5" cy="233.0" r="7.2"/><circle cx="776.8" cy="230.8" r="7.2"/><circle cx="784.2" cy="228.3" r="7.2"/><circle cx="792.2" cy="226.3" r="7.2"/><circle cx="800.3" cy="223.3" r="7.2"/><circle cx="807.9" cy="221.0" r="7.2"/><circle cx="816.4" cy="219.0" r="7.2"/><circle cx="847.5" cy="209.3" r="7.2"/><circle cx="855.8" cy="206.7" r="7.2"/><circle cx="471.0" cy="334.7" r="7.2"/><circle cx="518.0" cy="320.0" r="7.2"/><circle cx="526.4" cy="317.1" r="7.2"/><circle cx="534.7" cy="315.2" r="7.2"/><circle cx="541.9" cy="312.8" r="7.2"/><circle cx="549.8" cy="310.1" r="7.2"/><circle cx="621.6" cy="288.0" r="7.2"/><circle cx="629.6" cy="285.8" r="7.2"/><circle cx="636.5" cy="283.7" r="7.2"/><circle cx="692.3" cy="265.7" r="7.2"/><circle cx="724.0" cy="256.1" r="7.2"/><circle cx="755.7" cy="246.9" r="7.2"/><circle cx="763.1" cy="244.0" r="7.2"/><circle cx="771.4" cy="241.1" r="7.2"/><circle cx="779.4" cy="239.3" r="7.2"/><circle cx="803.2" cy="232.1" r="7.2"/><circle cx="810.7" cy="229.2" r="7.2"/><circle cx="818.8" cy="226.6" r="7.2"/><circle cx="858.3" cy="214.9" r="7.2"/><circle cx="473.6" cy="342.8" r="7.2"/><circle cx="521.4" cy="328.1" r="7.2"/><circle cx="529.3" cy="325.5" r="7.2"/><circle cx="537.4" cy="322.9" r="7.2"/><circle cx="545.3" cy="321.2" r="7.2"/><circle cx="670.9" cy="281.6" r="7.2"/><circle cx="678.8" cy="279.3" r="7.2"/><circle cx="718.5" cy="266.8" r="7.2"/><circle cx="726.3" cy="264.5" r="7.2"/><circle cx="758.5" cy="254.4" r="7.2"/><circle cx="782.0" cy="247.3" r="7.2"/><circle cx="805.4" cy="239.5" r="7.2"/><circle cx="813.7" cy="237.2" r="7.2"/><circle cx="516.0" cy="338.8" r="7.2"/><circle cx="523.4" cy="336.7" r="7.2"/><circle cx="547.9" cy="329.0" r="7.2"/><circle cx="658.5" cy="294.6" r="7.2"/><circle cx="666.3" cy="292.6" r="7.2"/><circle cx="674.0" cy="289.8" r="7.2"/><circle cx="681.8" cy="286.7" r="7.2"/><circle cx="720.9" cy="275.1" r="7.2"/><circle cx="729.1" cy="273.0" r="7.2"/><circle cx="824.2" cy="242.7" r="7.2"/><circle cx="840.0" cy="238.4" r="7.2"/><circle cx="471.4" cy="361.3" r="7.2"/><circle cx="478.8" cy="359.4" r="7.2"/><circle cx="487.2" cy="356.5" r="7.2"/><circle cx="494.9" cy="353.7" r="7.2"/><circle cx="503.0" cy="351.6" r="7.2"/><circle cx="511.2" cy="349.7" r="7.2"/><circle cx="550.3" cy="337.2" r="7.2"/><circle cx="558.2" cy="334.7" r="7.2"/><circle cx="660.8" cy="302.4" r="7.2"/><circle cx="669.2" cy="300.5" r="7.2"/><circle cx="708.7" cy="288.2" r="7.2"/><circle cx="715.8" cy="285.6" r="7.2"/><circle cx="724.3" cy="282.7" r="7.2"/><circle cx="811.2" cy="256.1" r="7.2"/><circle cx="818.6" cy="253.7" r="7.2"/><circle cx="826.6" cy="250.9" r="7.2"/><circle cx="835.2" cy="249.2" r="7.2"/><circle cx="473.7" cy="369.5" r="7.2"/><circle cx="482.4" cy="367.3" r="7.2"/><circle cx="489.7" cy="365.0" r="7.2"/><circle cx="505.2" cy="360.1" r="7.2"/><circle cx="513.4" cy="357.6" r="7.2"/><circle cx="521.0" cy="355.3" r="7.2"/><circle cx="560.6" cy="342.5" r="7.2"/><circle cx="569.1" cy="340.2" r="7.2"/><circle cx="600.6" cy="330.6" r="7.2"/><circle cx="608.4" cy="327.6" r="7.2"/><circle cx="616.4" cy="325.3" r="7.2"/><circle cx="647.7" cy="315.3" r="7.2"/><circle cx="663.4" cy="310.5" r="7.2"/><circle cx="671.3" cy="308.7" r="7.2"/><circle cx="758.0" cy="281.7" r="7.2"/><circle cx="766.7" cy="278.5" r="7.2"/><circle cx="813.3" cy="264.3" r="7.2"/><circle cx="821.6" cy="262.1" r="7.2"/><circle cx="829.7" cy="259.5" r="7.2"/><circle cx="837.7" cy="256.5" r="7.2"/><circle cx="500.4" cy="369.9" r="7.2"/><circle cx="516.5" cy="365.4" r="7.2"/><circle cx="524.5" cy="362.6" r="7.2"/><circle cx="555.6" cy="353.6" r="7.2"/><circle cx="563.3" cy="350.7" r="7.2"/><circle cx="571.2" cy="348.3" r="7.2"/><circle cx="602.8" cy="338.6" r="7.2"/><circle cx="611.1" cy="335.9" r="7.2"/><circle cx="618.5" cy="333.3" r="7.2"/><circle cx="627.0" cy="331.3" r="7.2"/><circle cx="635.0" cy="329.1" r="7.2"/><circle cx="642.4" cy="326.6" r="7.2"/><circle cx="650.6" cy="323.9" r="7.2"/><circle cx="658.0" cy="320.9" r="7.2"/><circle cx="673.9" cy="316.6" r="7.2"/><circle cx="681.8" cy="314.1" r="7.2"/><circle cx="761.1" cy="289.1" r="7.2"/><circle cx="769.4" cy="287.0" r="7.2"/><circle cx="777.1" cy="284.2" r="7.2"/><circle cx="510.8" cy="375.5" r="7.2"/><circle cx="550.1" cy="363.7" r="7.2"/><circle cx="558.6" cy="361.1" r="7.2"/><circle cx="565.9" cy="359.3" r="7.2"/><circle cx="574.3" cy="356.4" r="7.2"/><circle cx="582.5" cy="354.1" r="7.2"/><circle cx="630.0" cy="339.1" r="7.2"/><circle cx="645.5" cy="334.0" r="7.2"/><circle cx="653.3" cy="331.4" r="7.2"/><circle cx="661.3" cy="329.7" r="7.2"/><circle cx="668.8" cy="327.4" r="7.2"/><circle cx="685.3" cy="322.2" r="7.2"/><circle cx="764.1" cy="297.7" r="7.2"/><circle cx="771.6" cy="295.3" r="7.2"/><circle cx="779.2" cy="292.2" r="7.2"/><circle cx="788.0" cy="290.1" r="7.2"/><circle cx="569.4" cy="367.4" r="7.2"/><circle cx="576.8" cy="364.1" r="7.2"/><circle cx="584.6" cy="362.3" r="7.2"/><circle cx="648.3" cy="342.8" r="7.2"/><circle cx="671.7" cy="335.5" r="7.2"/><circle cx="679.8" cy="333.0" r="7.2"/><circle cx="687.1" cy="330.3" r="7.2"/><circle cx="695.8" cy="327.7" r="7.2"/><circle cx="703.6" cy="325.4" r="7.2"/><circle cx="758.1" cy="308.3" r="7.2"/><circle cx="782.2" cy="301.2" r="7.2"/><circle cx="563.6" cy="377.7" r="7.2"/><circle cx="579.3" cy="372.3" r="7.2"/><circle cx="587.8" cy="370.4" r="7.2"/><circle cx="595.2" cy="368.0" r="7.2"/><circle cx="602.9" cy="364.9" r="7.2"/><circle cx="658.9" cy="347.6" r="7.2"/><circle cx="666.8" cy="345.6" r="7.2"/><circle cx="674.3" cy="342.7" r="7.2"/><circle cx="682.6" cy="340.6" r="7.2"/><circle cx="689.8" cy="338.5" r="7.2"/><circle cx="698.5" cy="336.1" r="7.2"/><circle cx="793.3" cy="306.2" r="7.2"/><circle cx="808.3" cy="301.1" r="7.2"/><circle cx="816.9" cy="298.6" r="7.2"/><circle cx="824.1" cy="296.9" r="7.2"/><circle cx="856.1" cy="287.1" r="7.2"/><circle cx="574.4" cy="382.8" r="7.2"/><circle cx="590.4" cy="378.4" r="7.2"/><circle cx="597.7" cy="375.9" r="7.2"/><circle cx="676.6" cy="351.1" r="7.2"/><circle cx="684.8" cy="348.4" r="7.2"/><circle cx="693.0" cy="346.5" r="7.2"/><circle cx="701.2" cy="344.2" r="7.2"/><circle cx="708.8" cy="341.7" r="7.2"/><circle cx="755.9" cy="326.7" r="7.2"/><circle cx="819.5" cy="306.8" r="7.2"/><circle cx="851.3" cy="297.0" r="7.2"/><circle cx="858.7" cy="294.8" r="7.2"/><circle cx="600.6" cy="383.6" r="7.2"/><circle cx="672.3" cy="361.5" r="7.2"/><circle cx="679.7" cy="359.7" r="7.2"/><circle cx="687.9" cy="356.5" r="7.2"/><circle cx="695.3" cy="354.3" r="7.2"/><circle cx="703.6" cy="351.6" r="7.2"/><circle cx="711.0" cy="349.3" r="7.2"/><circle cx="798.1" cy="322.8" r="7.2"/><circle cx="845.9" cy="307.6" r="7.2"/><circle cx="853.4" cy="305.2" r="7.2"/><circle cx="861.6" cy="303.0" r="7.2"/><circle cx="674.8" cy="369.4" r="7.2"/><circle cx="682.5" cy="367.8" r="7.2"/><circle cx="690.5" cy="365.3" r="7.2"/><circle cx="697.9" cy="362.1" r="7.2"/><circle cx="706.2" cy="360.4" r="7.2"/><circle cx="713.9" cy="358.1" r="7.2"/><circle cx="784.9" cy="336.1" r="7.2"/><circle cx="832.2" cy="320.9" r="7.2"/><circle cx="684.9" cy="375.6" r="7.2"/><circle cx="692.9" cy="373.0" r="7.2"/><circle cx="701.2" cy="370.6" r="7.2"/><circle cx="708.5" cy="367.8" r="7.2"/><circle cx="733.0" cy="360.4" r="7.2"/><circle cx="740.3" cy="357.9" r="7.2"/><circle cx="688.3" cy="383.8" r="7.2"/><circle cx="695.5" cy="381.4" r="7.2"/><circle cx="703.5" cy="379.1" r="7.2"/><circle cx="711.7" cy="376.7" r="7.2"/><circle cx="719.0" cy="374.0" r="7.2"/><circle cx="727.7" cy="371.0" r="7.2"/><circle cx="735.4" cy="369.0" r="7.2"/><circle cx="743.1" cy="366.6" r="7.2"/><circle cx="698.2" cy="389.0" r="7.2"/><circle cx="706.0" cy="386.7" r="7.2"/><circle cx="714.3" cy="384.7" r="7.2"/><circle cx="722.1" cy="381.8" r="7.2"/><circle cx="730.2" cy="379.8" r="7.2"/><circle cx="737.7" cy="376.7" r="7.2"/><circle cx="733.1" cy="387.2" r="7.2"/><circle cx="835.2" cy="355.4" r="7.2"/><circle cx="843.3" cy="353.7" r="7.2"/><circle cx="851.5" cy="350.5" r="7.2"/><circle cx="859.3" cy="348.2" r="7.2"/><circle cx="838.2" cy="364.2" r="7.2"/><circle cx="846.0" cy="361.3" r="7.2"/><circle cx="854.2" cy="359.3" r="7.2"/><circle cx="861.6" cy="356.9" r="7.2"/><circle cx="841.3" cy="371.9" r="7.2"/><circle cx="856.8" cy="367.0" r="7.2"/><circle cx="851.1" cy="377.4" r="7.2"/><circle cx="859.6" cy="375.6" r="7.2"/><circle cx="846.1" cy="388.1" r="7.2"/><circle cx="854.5" cy="385.7" r="7.2"/></g>
<g fill="url(#bump2)"><circle cx="482.0" cy="0.3" r="6"/><circle cx="484.8" cy="8.5" r="6"/><circle cx="507.8" cy="1.3" r="6"/><circle cx="471.3" cy="22.0" r="6"/><circle cx="510.5" cy="9.2" r="6"/><circle cx="474.2" cy="29.4" r="6"/><circle cx="513.8" cy="17.4" r="6"/><circle cx="484.7" cy="35.1" r="6"/><circle cx="507.9" cy="28.6" r="6"/><circle cx="613.3" cy="4.5" r="6"/><circle cx="489.9" cy="51.7" r="6"/><circle cx="529.7" cy="39.1" r="6"/><circle cx="537.8" cy="36.8" r="6"/><circle cx="545.0" cy="34.4" r="6"/><circle cx="560.9" cy="29.2" r="6"/><circle cx="593.0" cy="20.3" r="6"/><circle cx="640.6" cy="5.3" r="6"/><circle cx="587.6" cy="30.8" r="6"/><circle cx="595.7" cy="27.6" r="6"/><circle cx="495.2" cy="68.4" r="6"/><circle cx="503.7" cy="65.3" r="6"/><circle cx="535.2" cy="55.7" r="6"/><circle cx="566.7" cy="46.2" r="6"/><circle cx="505.8" cy="74.0" r="6"/><circle cx="545.5" cy="61.0" r="6"/><circle cx="553.7" cy="59.1" r="6"/><circle cx="561.7" cy="56.6" r="6"/><circle cx="569.8" cy="54.0" r="6"/><circle cx="576.8" cy="51.4" r="6"/><circle cx="593.2" cy="46.5" r="6"/><circle cx="727.6" cy="5.4" r="6"/><circle cx="751.5" cy="-1.9" r="6"/><circle cx="547.8" cy="69.5" r="6"/><circle cx="556.1" cy="67.3" r="6"/><circle cx="579.4" cy="60.0" r="6"/><circle cx="587.9" cy="56.9" r="6"/><circle cx="682.8" cy="27.6" r="6"/><circle cx="753.8" cy="5.5" r="6"/><circle cx="542.6" cy="79.7" r="6"/><circle cx="551.0" cy="77.7" r="6"/><circle cx="614.4" cy="58.0" r="6"/><circle cx="622.0" cy="55.7" r="6"/><circle cx="732.6" cy="21.2" r="6"/><circle cx="740.8" cy="18.4" r="6"/><circle cx="506.8" cy="100.1" r="6"/><circle cx="608.5" cy="68.9" r="6"/><circle cx="616.7" cy="65.8" r="6"/><circle cx="679.7" cy="46.3" r="6"/><circle cx="822.3" cy="2.5" r="6"/><circle cx="627.4" cy="72.0" r="6"/><circle cx="769.5" cy="27.9" r="6"/><circle cx="824.9" cy="10.0" r="6"/><circle cx="550.8" cy="104.8" r="6"/><circle cx="614.1" cy="84.5" r="6"/><circle cx="717.1" cy="53.3" r="6"/><circle cx="724.7" cy="50.8" r="6"/><circle cx="757.0" cy="40.7" r="6"/><circle cx="780.2" cy="33.7" r="6"/><circle cx="811.6" cy="23.9" r="6"/><circle cx="553.5" cy="112.7" r="6"/><circle cx="664.0" cy="78.1" r="6"/><circle cx="719.9" cy="61.0" r="6"/><circle cx="735.8" cy="56.0" r="6"/><circle cx="743.8" cy="54.0" r="6"/><circle cx="759.4" cy="48.9" r="6"/><circle cx="814.5" cy="31.7" r="6"/><circle cx="579.8" cy="113.6" r="6"/><circle cx="588.5" cy="110.7" r="6"/><circle cx="706.9" cy="74.0" r="6"/><circle cx="722.7" cy="69.4" r="6"/><circle cx="730.6" cy="66.2" r="6"/><circle cx="809.3" cy="42.1" r="6"/><circle cx="551.5" cy="131.5" r="6"/><circle cx="583.5" cy="121.3" r="6"/><circle cx="591.1" cy="118.9" r="6"/><circle cx="701.2" cy="84.5" r="6"/><circle cx="709.2" cy="81.9" r="6"/><circle cx="717.1" cy="80.1" r="6"/><circle cx="757.2" cy="67.3" r="6"/><circle cx="765.0" cy="65.1" r="6"/><circle cx="803.9" cy="52.7" r="6"/><circle cx="530.7" cy="146.7" r="6"/><circle cx="553.9" cy="139.3" r="6"/><circle cx="585.3" cy="129.2" r="6"/><circle cx="593.8" cy="127.3" r="6"/><circle cx="704.3" cy="92.9" r="6"/><circle cx="744.1" cy="80.0" r="6"/><circle cx="767.8" cy="72.8" r="6"/><circle cx="790.6" cy="65.5" r="6"/><circle cx="799.3" cy="62.7" r="6"/><circle cx="807.1" cy="60.3" r="6"/><circle cx="814.7" cy="58.2" r="6"/><circle cx="533.2" cy="154.8" r="6"/><circle cx="557.1" cy="147.2" r="6"/><circle cx="564.7" cy="144.9" r="6"/><circle cx="588.0" cy="137.4" r="6"/><circle cx="746.5" cy="88.1" r="6"/><circle cx="786.1" cy="76.7" r="6"/><circle cx="793.6" cy="73.7" r="6"/><circle cx="802.2" cy="71.2" r="6"/><circle cx="809.9" cy="68.7" r="6"/><circle cx="817.2" cy="66.5" r="6"/><circle cx="575.2" cy="150.7" r="6"/><circle cx="804.3" cy="79.2" r="6"/><circle cx="828.1" cy="72.3" r="6"/><circle cx="483.7" cy="187.5" r="6"/><circle cx="578.5" cy="158.2" r="6"/><circle cx="585.9" cy="156.1" r="6"/><circle cx="704.0" cy="119.7" r="6"/><circle cx="712.8" cy="117.0" r="6"/><circle cx="486.3" cy="196.0" r="6"/><circle cx="494.3" cy="193.5" r="6"/><circle cx="556.9" cy="173.5" r="6"/><circle cx="636.0" cy="149.2" r="6"/><circle cx="833.6" cy="88.0" r="6"/><circle cx="512.7" cy="197.2" r="6"/><circle cx="559.6" cy="181.9" r="6"/><circle cx="567.1" cy="179.8" r="6"/><circle cx="575.1" cy="177.4" r="6"/><circle cx="631.0" cy="160.3" r="6"/><circle cx="701.9" cy="138.1" r="6"/><circle cx="757.7" cy="120.9" r="6"/><circle cx="851.9" cy="91.3" r="6"/><circle cx="859.9" cy="89.3" r="6"/><circle cx="601.5" cy="177.8" r="6"/><circle cx="610.2" cy="175.8" r="6"/><circle cx="625.5" cy="170.5" r="6"/><circle cx="633.0" cy="168.2" r="6"/><circle cx="681.0" cy="153.7" r="6"/><circle cx="688.9" cy="150.7" r="6"/><circle cx="775.4" cy="124.3" r="6"/><circle cx="783.6" cy="121.3" r="6"/><circle cx="799.5" cy="116.5" r="6"/><circle cx="501.8" cy="218.1" r="6"/><circle cx="604.3" cy="185.8" r="6"/><circle cx="612.8" cy="183.4" r="6"/><circle cx="620.8" cy="180.7" r="6"/><circle cx="627.9" cy="178.3" r="6"/><circle cx="644.2" cy="173.4" r="6"/><circle cx="683.8" cy="162.0" r="6"/><circle cx="691.1" cy="159.5" r="6"/><circle cx="722.9" cy="149.6" r="6"/><circle cx="770.2" cy="134.2" r="6"/><circle cx="778.8" cy="132.4" r="6"/><circle cx="786.6" cy="129.8" r="6"/><circle cx="793.8" cy="127.3" r="6"/><circle cx="810.5" cy="122.6" r="6"/><circle cx="472.7" cy="235.4" r="6"/><circle cx="480.9" cy="233.3" r="6"/><circle cx="489.1" cy="231.0" r="6"/><circle cx="512.0" cy="223.4" r="6"/><circle cx="520.6" cy="220.9" r="6"/><circle cx="576.2" cy="204.2" r="6"/><circle cx="583.8" cy="202.0" r="6"/><circle cx="599.7" cy="196.8" r="6"/><circle cx="631.3" cy="186.7" r="6"/><circle cx="639.0" cy="184.8" r="6"/><circle cx="647.2" cy="181.9" r="6"/><circle cx="788.8" cy="138.1" r="6"/><circle cx="796.7" cy="135.0" r="6"/><circle cx="820.4" cy="128.3" r="6"/><circle cx="475.5" cy="243.7" r="6"/><circle cx="515.2" cy="231.3" r="6"/><circle cx="522.8" cy="228.9" r="6"/><circle cx="570.9" cy="214.6" r="6"/><circle cx="649.5" cy="189.9" r="6"/><circle cx="784.0" cy="148.8" r="6"/><circle cx="791.6" cy="146.0" r="6"/><circle cx="815.5" cy="139.0" r="6"/><circle cx="470.1" cy="254.4" r="6"/><circle cx="478.2" cy="252.4" r="6"/><circle cx="565.5" cy="224.6" r="6"/><circle cx="668.2" cy="193.3" r="6"/><circle cx="675.6" cy="191.1" r="6"/><circle cx="707.8" cy="181.4" r="6"/><circle cx="715.4" cy="178.1" r="6"/><circle cx="778.3" cy="159.2" r="6"/><circle cx="794.9" cy="154.0" r="6"/><circle cx="802.1" cy="151.2" r="6"/><circle cx="810.0" cy="149.4" r="6"/><circle cx="826.3" cy="144.2" r="6"/><circle cx="481.6" cy="260.1" r="6"/><circle cx="568.3" cy="233.2" r="6"/><circle cx="575.7" cy="231.0" r="6"/><circle cx="670.3" cy="201.0" r="6"/><circle cx="702.5" cy="191.2" r="6"/><circle cx="709.9" cy="188.6" r="6"/><circle cx="844.3" cy="147.6" r="6"/><circle cx="483.7" cy="268.5" r="6"/><circle cx="554.9" cy="246.3" r="6"/><circle cx="617.9" cy="226.4" r="6"/><circle cx="625.6" cy="223.8" r="6"/><circle cx="681.5" cy="206.9" r="6"/><circle cx="760.2" cy="182.6" r="6"/><circle cx="815.5" cy="165.6" r="6"/><circle cx="502.0" cy="271.0" r="6"/><circle cx="557.4" cy="253.8" r="6"/><circle cx="707.7" cy="208.1" r="6"/><circle cx="504.9" cy="279.6" r="6"/><circle cx="575.7" cy="257.8" r="6"/><circle cx="583.5" cy="254.6" r="6"/><circle cx="702.1" cy="218.4" r="6"/><circle cx="507.9" cy="287.6" r="6"/><circle cx="555.3" cy="272.7" r="6"/><circle cx="579.3" cy="265.2" r="6"/><circle cx="587.0" cy="263.4" r="6"/><circle cx="626.6" cy="250.5" r="6"/><circle cx="728.8" cy="218.9" r="6"/><circle cx="768.1" cy="206.4" r="6"/><circle cx="503.0" cy="298.2" r="6"/><circle cx="565.7" cy="279.0" r="6"/><circle cx="581.7" cy="274.0" r="6"/><circle cx="589.1" cy="271.0" r="6"/><circle cx="684.6" cy="242.2" r="6"/><circle cx="715.4" cy="232.1" r="6"/><circle cx="747.8" cy="222.5" r="6"/><circle cx="568.1" cy="286.8" r="6"/><circle cx="575.9" cy="283.8" r="6"/><circle cx="584.5" cy="282.0" r="6"/><circle cx="591.7" cy="279.5" r="6"/><circle cx="719.0" cy="239.9" r="6"/><circle cx="750.5" cy="230.0" r="6"/><circle cx="483.8" cy="321.7" r="6"/><circle cx="478.6" cy="332.6" r="6"/><circle cx="486.7" cy="329.7" r="6"/><circle cx="502.8" cy="324.9" r="6"/><circle cx="510.3" cy="322.0" r="6"/><circle cx="597.7" cy="296.0" r="6"/><circle cx="605.2" cy="293.5" r="6"/><circle cx="653.0" cy="278.5" r="6"/><circle cx="660.8" cy="275.9" r="6"/><circle cx="553.2" cy="317.8" r="6"/><circle cx="607.7" cy="301.2" r="6"/><circle cx="687.0" cy="276.7" r="6"/><circle cx="695.3" cy="273.9" r="6"/><circle cx="844.8" cy="228.0" r="6"/><circle cx="852.9" cy="224.9" r="6"/><circle cx="860.8" cy="222.7" r="6"/><circle cx="563.2" cy="323.9" r="6"/><circle cx="689.8" cy="285.0" r="6"/><circle cx="698.1" cy="282.0" r="6"/><circle cx="565.8" cy="332.0" r="6"/><circle cx="574.4" cy="329.8" r="6"/><circle cx="597.3" cy="322.6" r="6"/><circle cx="605.8" cy="320.0" r="6"/><circle cx="637.3" cy="310.1" r="6"/><circle cx="747.7" cy="276.1" r="6"/><circle cx="763.4" cy="270.4" r="6"/><circle cx="771.1" cy="268.6" r="6"/><circle cx="795.3" cy="261.3" r="6"/><circle cx="803.6" cy="258.4" r="6"/><circle cx="850.2" cy="243.5" r="6"/><circle cx="552.7" cy="345.1" r="6"/><circle cx="576.5" cy="337.3" r="6"/><circle cx="710.7" cy="296.1" r="6"/><circle cx="750.8" cy="283.7" r="6"/><circle cx="797.7" cy="269.6" r="6"/><circle cx="805.7" cy="266.3" r="6"/><circle cx="861.3" cy="249.2" r="6"/><circle cx="484.8" cy="375.5" r="6"/><circle cx="547.7" cy="356.0" r="6"/><circle cx="579.0" cy="345.9" r="6"/><circle cx="698.3" cy="309.3" r="6"/><circle cx="714.0" cy="303.7" r="6"/><circle cx="721.9" cy="301.5" r="6"/><circle cx="729.1" cy="299.6" r="6"/><circle cx="785.1" cy="281.7" r="6"/><circle cx="793.0" cy="280.0" r="6"/><circle cx="831.8" cy="266.9" r="6"/><circle cx="840.4" cy="265.0" r="6"/><circle cx="471.6" cy="388.4" r="6"/><circle cx="487.4" cy="383.3" r="6"/><circle cx="502.7" cy="378.3" r="6"/><circle cx="709.0" cy="314.3" r="6"/><circle cx="795.6" cy="287.4" r="6"/><circle cx="498.2" cy="389.3" r="6"/><circle cx="545.5" cy="374.7" r="6"/><circle cx="552.9" cy="371.7" r="6"/><circle cx="608.4" cy="355.1" r="6"/><circle cx="616.6" cy="352.2" r="6"/><circle cx="631.7" cy="347.0" r="6"/><circle cx="640.2" cy="344.5" r="6"/><circle cx="742.8" cy="312.8" r="6"/><circle cx="798.5" cy="295.5" r="6"/><circle cx="805.8" cy="293.7" r="6"/><circle cx="814.2" cy="290.9" r="6"/><circle cx="822.3" cy="288.8" r="6"/><circle cx="861.1" cy="276.6" r="6"/><circle cx="642.4" cy="352.5" r="6"/><circle cx="651.2" cy="350.4" r="6"/><circle cx="737.3" cy="323.1" r="6"/><circle cx="745.1" cy="320.6" r="6"/><circle cx="800.9" cy="304.2" r="6"/><circle cx="605.7" cy="373.7" r="6"/><circle cx="764.1" cy="324.1" r="6"/><circle cx="719.2" cy="346.8" r="6"/><circle cx="766.8" cy="332.0" r="6"/><circle cx="611.8" cy="389.4" r="6"/><circle cx="729.6" cy="352.8" r="6"/><circle cx="738.1" cy="350.1" r="6"/><circle cx="769.7" cy="340.1" r="6"/><circle cx="777.6" cy="338.3" r="6"/><circle cx="808.5" cy="328.5" r="6"/><circle cx="816.8" cy="326.3" r="6"/><circle cx="824.9" cy="323.4" r="6"/><circle cx="661.4" cy="383.1" r="6"/><circle cx="787.8" cy="343.3" r="6"/><circle cx="811.6" cy="336.4" r="6"/><circle cx="819.1" cy="333.8" r="6"/><circle cx="827.1" cy="331.5" r="6"/><circle cx="835.3" cy="329.0" r="6"/><circle cx="664.5" cy="390.9" r="6"/><circle cx="790.6" cy="351.4" r="6"/><circle cx="798.2" cy="349.8" r="6"/><circle cx="838.5" cy="337.6" r="6"/><circle cx="746.1" cy="374.9" r="6"/><circle cx="753.5" cy="372.5" r="6"/><circle cx="793.6" cy="360.0" r="6"/><circle cx="740.7" cy="384.9" r="6"/><circle cx="748.1" cy="383.0" r="6"/><circle cx="751.8" cy="390.5" r="6"/></g>
</g>
<path d="M484.7 35.1h0M492.9 33.5h0M500.2 30.8h0M507.9 28.6h0M524.2 22.9h0M531.7 20.4h0M539.5 18.4h0M548.2 16.3h0M556.2 13.3h0M563.9 10.9h0M572.1 8.6h0M579.6 6.6h0M495.7 41.0h0M503.3 38.7h0M511.6 36.4h0M518.6 33.4h0M526.7 31.5h0M535.0 29.2h0M543.1 26.6h0M550.8 24.2h0M558.8 21.3h0M566.8 19.5h0M582.6 14.6h0M489.9 51.7h0M506.3 47.1h0M513.4 44.2h0M522.1 41.8h0M529.7 39.1h0M537.8 36.8h0M545.0 34.4h0M560.9 29.2h0M577.4 24.3h0M584.7 22.2h0M593.0 20.3h0M500.3 57.2h0M509.1 55.1h0M516.9 52.1h0M524.8 50.4h0M587.6 30.8h0M595.7 27.6h0M495.2 68.4h0M503.7 65.3h0M511.6 62.6h0M527.2 58.6h0M535.2 55.7h0M566.7 46.2h0M574.6 43.8h0M582.7 40.9h0M685.0 9.0h0M692.8 6.3h0M505.8 74.0h0M529.6 66.6h0M537.3 63.6h0M545.5 61.0h0M553.7 59.1h0M561.7 56.6h0M569.8 54.0h0M576.8 51.4h0M585.3 49.5h0M593.2 46.5h0M687.6 16.8h0M695.3 14.7h0M703.4 12.2h0M711.6 9.9h0M516.7 79.5h0M524.2 76.9h0M532.3 74.2h0M540.4 71.8h0M547.8 69.5h0M556.1 67.3h0M579.4 60.0h0M587.9 56.9h0M619.4 47.1h0M682.8 27.6h0M690.9 25.1h0M698.2 22.4h0M706.3 20.1h0M738.0 10.2h0M745.9 8.1h0M519.3 87.6h0M535.5 82.2h0M542.6 79.7h0M551.0 77.7h0M566.4 72.4h0M574.2 70.0h0M582.3 67.5h0M590.4 65.2h0M614.4 58.0h0M622.0 55.7h0M684.9 36.0h0M692.8 33.1h0M701.2 31.1h0M709.4 28.1h0M725.2 23.4h0M732.6 21.2h0M740.8 18.4h0M748.2 16.4h0M764.0 11.6h0M771.8 8.8h0M506.8 100.1h0M522.0 95.7h0M529.8 93.4h0M538.0 90.7h0M569.2 80.5h0M577.2 77.9h0M585.2 76.1h0M593.2 73.7h0M600.7 71.3h0M608.5 68.9h0M616.7 65.8h0M679.7 46.3h0M688.0 44.2h0M695.4 41.8h0M703.8 39.4h0M712.2 36.3h0M727.5 31.9h0M759.2 21.6h0M767.4 19.7h0M775.2 16.7h0M501.1 111.2h0M508.7 108.4h0M517.2 106.4h0M525.1 103.5h0M532.6 101.4h0M540.8 99.1h0M572.1 88.6h0M579.7 86.0h0M588.4 83.5h0M596.3 81.8h0M603.8 78.9h0M627.4 72.0h0M683.0 54.9h0M690.3 51.6h0M698.5 49.9h0M706.7 46.9h0M730.5 39.6h0M761.3 30.5h0M769.5 27.9h0M824.9 10.0h0M480.3 126.6h0M495.8 121.2h0M503.3 118.9h0M511.5 116.2h0M519.5 113.8h0M527.9 112.1h0M535.7 108.8h0M543.2 106.3h0M550.8 104.8h0M574.7 97.4h0M583.1 94.7h0M591.1 92.0h0M598.1 89.5h0M614.1 84.5h0M638.5 77.8h0M677.6 64.7h0M685.4 62.5h0M693.6 59.7h0M701.6 58.2h0M717.1 53.3h0M724.7 50.8h0M757.0 40.7h0M780.2 33.7h0M811.6 23.9h0M819.9 20.8h0M851.1 11.6h0M483.2 134.2h0M490.2 131.8h0M498.5 129.5h0M506.3 127.2h0M514.2 124.7h0M521.9 122.4h0M530.1 120.1h0M537.7 117.7h0M546.4 115.2h0M553.5 112.7h0M593.1 99.9h0M600.8 97.2h0M616.7 93.3h0M625.5 90.7h0M633.0 87.4h0M640.6 85.5h0M648.2 82.7h0M664.0 78.1h0M672.1 75.2h0M679.9 73.1h0M688.6 70.9h0M696.2 68.4h0M703.9 65.7h0M719.9 61.0h0M735.8 56.0h0M743.8 54.0h0M759.4 48.9h0M814.5 31.7h0M822.9 28.9h0M830.9 26.3h0M846.2 21.6h0M854.5 19.6h0M485.6 142.1h0M493.7 140.1h0M501.2 137.3h0M517.0 133.1h0M525.3 130.7h0M533.3 127.5h0M540.7 125.3h0M548.9 123.2h0M579.8 113.6h0M588.5 110.7h0M596.1 107.8h0M604.5 105.7h0M612.1 103.7h0M619.5 100.7h0M627.4 98.5h0M635.6 95.8h0M643.8 93.8h0M651.0 91.2h0M658.9 88.2h0M667.0 86.1h0M675.0 83.5h0M683.2 81.0h0M690.7 78.9h0M699.1 76.2h0M706.9 74.0h0M722.7 69.4h0M730.6 66.2h0M761.6 56.3h0M809.3 42.1h0M817.1 39.5h0M824.9 37.1h0M840.7 31.9h0M848.9 29.6h0M480.6 152.7h0M495.6 148.5h0M519.8 140.5h0M527.8 138.0h0M535.2 136.2h0M543.7 133.9h0M551.5 131.5h0M583.5 121.3h0M591.1 118.9h0M598.9 116.5h0M607.2 114.1h0M614.2 111.6h0M622.3 109.4h0M630.5 106.5h0M638.1 104.4h0M645.8 101.6h0M654.5 98.9h0M662.3 96.6h0M670.1 94.2h0M677.4 91.8h0M685.6 89.1h0M693.2 87.4h0M701.2 84.5h0M709.2 81.9h0M717.1 80.1h0M757.2 67.3h0M765.0 65.1h0M803.9 52.7h0M819.9 48.2h0M828.3 44.9h0M836.0 43.3h0M844.1 40.2h0M851.7 37.8h0M482.5 160.7h0M490.8 159.0h0M514.7 151.2h0M522.3 148.7h0M530.7 146.7h0M553.9 139.3h0M585.3 129.2h0M593.8 127.3h0M609.3 122.1h0M616.8 119.6h0M633.3 114.3h0M641.1 112.4h0M648.7 109.6h0M656.5 107.2h0M664.6 104.8h0M672.2 102.6h0M680.4 100.2h0M688.7 98.0h0M696.6 95.2h0M704.3 92.9h0M744.1 80.0h0M767.8 72.8h0M790.6 65.5h0M799.3 62.7h0M807.1 60.3h0M814.7 58.2h0M823.0 55.6h0M830.5 53.8h0M838.1 51.0h0M846.8 48.5h0M854.5 46.1h0M485.9 169.5h0M493.9 166.7h0M509.0 161.7h0M533.2 154.8h0M557.1 147.2h0M564.7 144.9h0M588.0 137.4h0M635.4 122.6h0M643.5 120.5h0M651.4 118.0h0M659.1 115.0h0M667.1 113.1h0M675.0 110.6h0M683.1 107.8h0M738.0 90.8h0M746.5 88.1h0M786.1 76.7h0M793.6 73.7h0M802.2 71.2h0M809.9 68.7h0M817.2 66.5h0M825.4 63.5h0M833.0 61.9h0M841.1 59.0h0M480.2 179.4h0M488.2 177.5h0M496.4 174.9h0M503.7 172.4h0M511.8 170.3h0M520.4 167.4h0M575.2 150.7h0M654.2 125.5h0M661.7 123.9h0M741.4 98.6h0M804.3 79.2h0M828.1 72.3h0M836.5 69.4h0M844.3 66.9h0M483.7 187.5h0M491.5 186.0h0M498.7 182.7h0M506.8 181.0h0M515.2 178.1h0M523.2 176.0h0M578.5 158.2h0M585.9 156.1h0M657.4 134.3h0M665.3 131.3h0M704.0 119.7h0M712.8 117.0h0M736.4 109.6h0M743.5 106.7h0M814.6 85.4h0M822.5 83.0h0M486.3 196.0h0M494.3 193.5h0M501.9 190.8h0M509.5 188.5h0M517.9 186.0h0M525.2 184.2h0M532.9 181.5h0M556.9 173.5h0M564.9 171.9h0M636.0 149.2h0M644.2 147.5h0M651.9 144.6h0M659.7 142.3h0M667.2 139.3h0M675.2 136.9h0M707.2 127.8h0M730.9 120.0h0M738.2 117.6h0M746.4 115.7h0M801.4 97.7h0M809.6 95.2h0M833.6 88.0h0M512.7 197.2h0M520.3 194.8h0M528.5 192.1h0M559.6 181.9h0M567.1 179.8h0M575.1 177.4h0M631.0 160.3h0M646.4 155.6h0M654.1 152.8h0M678.5 144.9h0M701.9 138.1h0M709.8 136.0h0M725.6 130.4h0M733.8 128.6h0M741.6 125.7h0M749.6 122.9h0M757.7 120.9h0M804.4 106.6h0M812.7 104.1h0M820.4 101.6h0M827.9 99.1h0M851.9 91.3h0M601.5 177.8h0M610.2 175.8h0M625.5 170.5h0M633.0 168.2h0M640.9 165.3h0M657.0 160.7h0M665.2 157.9h0M673.2 155.7h0M681.0 153.7h0M688.9 150.7h0M736.2 136.2h0M743.7 133.6h0M752.2 131.2h0M775.4 124.3h0M783.6 121.3h0M799.5 116.5h0M807.5 114.6h0M815.3 111.7h0M822.8 109.6h0M831.1 106.6h0M838.4 104.2h0M847.0 101.6h0M501.8 218.1h0M604.3 185.8h0M612.8 183.4h0M620.8 180.7h0M627.9 178.3h0M644.2 173.4h0M660.2 168.8h0M668.0 166.9h0M676.1 164.3h0M683.8 162.0h0M691.1 159.5h0M722.9 149.6h0M746.5 141.6h0M754.3 139.2h0M763.0 137.0h0M770.2 134.2h0M778.8 132.4h0M786.6 129.8h0M793.8 127.3h0M810.5 122.6h0M826.3 117.0h0M833.3 115.1h0M841.6 112.2h0M849.6 109.8h0M480.9 233.3h0M489.1 231.0h0M512.0 223.4h0M520.6 220.9h0M576.2 204.2h0M583.8 202.0h0M591.6 199.5h0M599.7 196.8h0M631.3 186.7h0M639.0 184.8h0M647.2 181.9h0M662.7 177.3h0M749.9 150.2h0M757.5 148.1h0M765.1 145.6h0M773.7 142.3h0M781.0 140.6h0M788.8 138.1h0M796.7 135.0h0M820.4 128.3h0M844.6 121.0h0M851.8 118.0h0M491.8 239.2h0M515.2 231.3h0M522.8 228.9h0M570.9 214.6h0M578.0 211.9h0M586.4 209.6h0M594.5 206.8h0M634.0 195.2h0M642.1 192.5h0M649.5 189.9h0M752.7 157.9h0M759.8 155.5h0M768.3 153.4h0M776.3 150.4h0M784.0 148.8h0M791.6 146.0h0M815.5 139.0h0M854.5 126.5h0M486.6 249.3h0M494.5 247.4h0M502.6 245.1h0M565.5 224.6h0M573.4 223.1h0M580.6 220.4h0M597.0 215.7h0M628.1 205.2h0M636.7 203.5h0M644.6 200.6h0M652.5 198.0h0M668.2 193.3h0M675.6 191.1h0M684.1 188.1h0M692.0 185.8h0M699.9 183.1h0M707.8 181.4h0M715.4 178.1h0M754.5 166.4h0M763.3 164.0h0M770.5 161.0h0M778.3 159.2h0M794.9 154.0h0M802.1 151.2h0M810.0 149.4h0M817.8 146.7h0M826.3 144.2h0M481.6 260.1h0M489.2 257.6h0M496.6 255.4h0M568.3 233.2h0M575.7 231.0h0M592.0 226.2h0M599.9 223.8h0M631.0 213.7h0M639.3 211.4h0M647.2 208.2h0M654.9 206.2h0M662.6 203.9h0M670.3 201.0h0M686.5 196.8h0M694.8 194.4h0M702.5 191.2h0M709.9 188.6h0M757.5 174.2h0M804.9 159.9h0M812.5 157.4h0M844.3 147.6h0M483.7 268.5h0M554.9 246.3h0M586.3 235.9h0M594.3 234.4h0M602.5 231.9h0M617.9 226.4h0M625.6 223.8h0M634.2 221.9h0M642.2 219.0h0M649.5 216.6h0M657.3 213.8h0M681.5 206.9h0M689.4 204.9h0M696.8 202.1h0M752.7 184.6h0M760.2 182.6h0M807.9 167.5h0M815.5 165.6h0M502.0 271.0h0M517.6 266.5h0M525.8 264.4h0M534.3 261.8h0M557.4 253.8h0M589.4 244.6h0M596.6 242.0h0M620.9 234.6h0M629.0 232.5h0M636.2 229.9h0M644.8 227.5h0M652.8 224.5h0M660.0 222.7h0M668.3 219.8h0M684.4 215.4h0M691.7 212.5h0M699.6 209.8h0M707.7 208.1h0M746.8 195.9h0M755.0 193.0h0M809.9 175.5h0M504.9 279.6h0M529.2 272.6h0M537.1 269.9h0M575.7 257.8h0M583.5 254.6h0M592.3 253.0h0M599.3 250.6h0M607.5 247.9h0M615.2 245.7h0M631.8 240.2h0M639.6 237.8h0M646.9 235.1h0M655.5 232.9h0M663.1 230.6h0M670.8 227.7h0M687.1 222.9h0M694.5 220.9h0M702.1 218.4h0M750.0 203.4h0M757.5 201.3h0M797.3 188.4h0M804.7 186.4h0M836.9 176.3h0M852.3 171.3h0M507.9 287.6h0M515.1 285.3h0M531.6 280.2h0M538.8 278.3h0M547.3 275.1h0M555.3 272.7h0M579.3 265.2h0M587.0 263.4h0M610.4 255.3h0M618.1 253.5h0M626.6 250.5h0M633.9 248.0h0M641.7 246.3h0M649.9 243.1h0M657.3 241.3h0M673.2 236.6h0M728.8 218.9h0M768.1 206.4h0M792.2 199.4h0M800.0 196.8h0M808.2 194.1h0M831.8 187.6h0M839.2 184.9h0M847.8 182.1h0M503.0 298.2h0M510.2 295.3h0M517.8 293.5h0M526.5 291.2h0M534.1 288.5h0M542.0 286.2h0M550.0 283.7h0M558.0 280.7h0M565.7 279.0h0M581.7 274.0h0M589.1 271.0h0M613.6 264.1h0M621.1 261.5h0M629.3 259.0h0M636.5 256.9h0M645.0 254.2h0M652.9 251.3h0M660.3 248.7h0M684.6 242.2h0M715.4 232.1h0M739.4 224.7h0M747.8 222.5h0M787.3 210.4h0M794.9 207.0h0M802.5 205.2h0M810.9 202.3h0M818.6 199.7h0M842.6 193.0h0M849.9 190.5h0M513.3 303.5h0M521.4 301.7h0M528.7 299.1h0M536.9 296.1h0M544.7 294.4h0M552.3 291.9h0M560.3 289.2h0M568.1 286.8h0M575.9 283.8h0M584.5 282.0h0M591.7 279.5h0M608.0 274.8h0M615.5 272.4h0M623.4 269.9h0M631.7 267.2h0M639.5 264.2h0M647.7 261.9h0M654.9 259.4h0M719.0 239.9h0M726.9 237.2h0M734.4 235.1h0M742.2 233.0h0M750.5 230.0h0M789.6 217.9h0M797.9 215.2h0M805.9 213.5h0M813.6 210.4h0M821.5 208.2h0M829.6 205.7h0M845.1 200.9h0M852.4 198.3h0M483.8 321.7h0M515.5 312.0h0M523.2 309.1h0M531.7 307.3h0M539.6 304.6h0M547.7 302.0h0M610.6 283.0h0M618.6 280.1h0M625.9 277.6h0M634.1 274.8h0M641.9 273.0h0M650.2 270.0h0M752.4 237.9h0M760.9 235.5h0M768.5 233.0h0M776.8 230.8h0M784.2 228.3h0M792.2 226.3h0M800.3 223.3h0M807.9 221.0h0M816.4 219.0h0M847.5 209.3h0M486.7 329.7h0M502.8 324.9h0M510.3 322.0h0M518.0 320.0h0M526.4 317.1h0M534.7 315.2h0M541.9 312.8h0M549.8 310.1h0M597.7 296.0h0M605.2 293.5h0M621.6 288.0h0M629.6 285.8h0M636.5 283.7h0M653.0 278.5h0M660.8 275.9h0M692.3 265.7h0M724.0 256.1h0M755.7 246.9h0M763.1 244.0h0M771.4 241.1h0M779.4 239.3h0M803.2 232.1h0M810.7 229.2h0M818.8 226.6h0M521.4 328.1h0M529.3 325.5h0M537.4 322.9h0M545.3 321.2h0M553.2 317.8h0M607.7 301.2h0M670.9 281.6h0M678.8 279.3h0M687.0 276.7h0M695.3 273.9h0M718.5 266.8h0M726.3 264.5h0M758.5 254.4h0M782.0 247.3h0M805.4 239.5h0M813.7 237.2h0M844.8 228.0h0M852.9 224.9h0M516.0 338.8h0M523.4 336.7h0M547.9 329.0h0M563.2 323.9h0M658.5 294.6h0M666.3 292.6h0M674.0 289.8h0M681.8 286.7h0M689.8 285.0h0M698.1 282.0h0M720.9 275.1h0M729.1 273.0h0M824.2 242.7h0M840.0 238.4h0M494.9 353.7h0M503.0 351.6h0M511.2 349.7h0M550.3 337.2h0M558.2 334.7h0M565.8 332.0h0M574.4 329.8h0M597.3 322.6h0M605.8 320.0h0M637.3 310.1h0M660.8 302.4h0M669.2 300.5h0M708.7 288.2h0M715.8 285.6h0M724.3 282.7h0M747.7 276.1h0M763.4 270.4h0M771.1 268.6h0M795.3 261.3h0M803.6 258.4h0M811.2 256.1h0M818.6 253.7h0M826.6 250.9h0M835.2 249.2h0M850.2 243.5h0M505.2 360.1h0M513.4 357.6h0M521.0 355.3h0M552.7 345.1h0M560.6 342.5h0M569.1 340.2h0M576.5 337.3h0M600.6 330.6h0M608.4 327.6h0M616.4 325.3h0M647.7 315.3h0M663.4 310.5h0M671.3 308.7h0M710.7 296.1h0M750.8 283.7h0M758.0 281.7h0M766.7 278.5h0M797.7 269.6h0M805.7 266.3h0M813.3 264.3h0M821.6 262.1h0M829.7 259.5h0M837.7 256.5h0M516.5 365.4h0M524.5 362.6h0M547.7 356.0h0M555.6 353.6h0M563.3 350.7h0M571.2 348.3h0M579.0 345.9h0M602.8 338.6h0M611.1 335.9h0M618.5 333.3h0M627.0 331.3h0M635.0 329.1h0M642.4 326.6h0M650.6 323.9h0M658.0 320.9h0M673.9 316.6h0M681.8 314.1h0M698.3 309.3h0M714.0 303.7h0M721.9 301.5h0M729.1 299.6h0M761.1 289.1h0M769.4 287.0h0M777.1 284.2h0M785.1 281.7h0M793.0 280.0h0M831.8 266.9h0M840.4 265.0h0M510.8 375.5h0M550.1 363.7h0M558.6 361.1h0M565.9 359.3h0M574.3 356.4h0M582.5 354.1h0M630.0 339.1h0M645.5 334.0h0M653.3 331.4h0M661.3 329.7h0M668.8 327.4h0M685.3 322.2h0M709.0 314.3h0M764.1 297.7h0M771.6 295.3h0M779.2 292.2h0M788.0 290.1h0M795.6 287.4h0M545.5 374.7h0M552.9 371.7h0M569.4 367.4h0M576.8 364.1h0M584.6 362.3h0M608.4 355.1h0M616.6 352.2h0M631.7 347.0h0M640.2 344.5h0M648.3 342.8h0M671.7 335.5h0M679.8 333.0h0M687.1 330.3h0M695.8 327.7h0M703.6 325.4h0M742.8 312.8h0M758.1 308.3h0M782.2 301.2h0M798.5 295.5h0M805.8 293.7h0M814.2 290.9h0M822.3 288.8h0M563.6 377.7h0M579.3 372.3h0M587.8 370.4h0M595.2 368.0h0M602.9 364.9h0M642.4 352.5h0M651.2 350.4h0M658.9 347.6h0M666.8 345.6h0M674.3 342.7h0M682.6 340.6h0M689.8 338.5h0M698.5 336.1h0M737.3 323.1h0M745.1 320.6h0M793.3 306.2h0M800.9 304.2h0M808.3 301.1h0M816.9 298.6h0M824.1 296.9h0M590.4 378.4h0M597.7 375.9h0M605.7 373.7h0M676.6 351.1h0M684.8 348.4h0M693.0 346.5h0M701.2 344.2h0M708.8 341.7h0M755.9 326.7h0M764.1 324.1h0M819.5 306.8h0M851.3 297.0h0M672.3 361.5h0M679.7 359.7h0M687.9 356.5h0M695.3 354.3h0M703.6 351.6h0M711.0 349.3h0M719.2 346.8h0M766.8 332.0h0M798.1 322.8h0M845.9 307.6h0M853.4 305.2h0M674.8 369.4h0M682.5 367.8h0M690.5 365.3h0M697.9 362.1h0M706.2 360.4h0M713.9 358.1h0M729.6 352.8h0M738.1 350.1h0M769.7 340.1h0M777.6 338.3h0M784.9 336.1h0M808.5 328.5h0M816.8 326.3h0M824.9 323.4h0M832.2 320.9h0M684.9 375.6h0M692.9 373.0h0M701.2 370.6h0M708.5 367.8h0M733.0 360.4h0M740.3 357.9h0M787.8 343.3h0M811.6 336.4h0M819.1 333.8h0M827.1 331.5h0M835.3 329.0h0M695.5 381.4h0M703.5 379.1h0M711.7 376.7h0M719.0 374.0h0M727.7 371.0h0M735.4 369.0h0M743.1 366.6h0M790.6 351.4h0M798.2 349.8h0M838.5 337.6h0M722.1 381.8h0M730.2 379.8h0M737.7 376.7h0M746.1 374.9h0M753.5 372.5h0M793.6 360.0h0M835.2 355.4h0M843.3 353.7h0M851.5 350.5h0M838.2 364.2h0M846.0 361.3h0M854.2 359.3h0M841.3 371.9h0M851.1 377.4h0" stroke="#ff1000" stroke-width="2.5" stroke-linecap="round" fill="none"/>
<path d="M515.9 25.8h0M487.9 43.2h0M574.4 17.0h0M589.8 11.7h0M597.9 9.8h0M605.9 6.8h0M482.2 54.0h0M498.5 49.6h0M553.4 31.9h0M568.9 27.1h0M600.6 17.5h0M608.4 15.0h0M616.9 12.5h0M624.2 9.8h0M632.6 7.6h0M485.3 62.7h0M493.2 60.3h0M532.5 48.1h0M540.7 45.1h0M548.2 42.8h0M556.0 40.0h0M564.1 37.9h0M572.1 35.5h0M579.7 32.8h0M603.2 25.5h0M611.2 23.1h0M619.5 20.2h0M627.5 18.6h0M635.1 16.2h0M642.6 13.7h0M651.0 10.8h0M659.0 8.6h0M487.5 70.2h0M519.2 61.0h0M542.4 53.7h0M550.6 50.3h0M558.9 48.6h0M589.9 38.1h0M598.1 35.8h0M605.7 33.4h0M614.2 31.2h0M622.2 28.4h0M629.7 25.9h0M637.3 23.5h0M646.0 21.7h0M653.4 19.0h0M661.3 16.5h0M669.1 14.3h0M677.6 11.4h0M481.9 80.8h0M490.1 78.6h0M498.2 76.1h0M514.3 71.1h0M521.8 68.4h0M600.6 44.3h0M609.2 41.8h0M617.0 39.2h0M624.4 36.9h0M632.6 34.7h0M640.6 32.1h0M648.1 29.9h0M656.1 27.4h0M664.2 25.1h0M671.7 21.9h0M680.0 19.3h0M719.2 7.4h0M485.3 88.9h0M493.0 86.4h0M500.8 84.4h0M508.6 81.4h0M564.6 64.7h0M572.1 61.7h0M595.5 54.5h0M603.8 52.6h0M611.1 49.9h0M627.3 45.2h0M634.9 42.4h0M643.3 40.5h0M650.7 37.6h0M659.3 35.5h0M666.8 32.8h0M674.5 30.3h0M714.4 18.5h0M722.3 15.3h0M729.9 13.3h0M480.0 99.5h0M487.4 97.6h0M495.4 94.2h0M503.8 91.9h0M511.4 89.6h0M526.9 84.5h0M559.2 75.5h0M598.8 62.6h0M605.8 60.7h0M629.8 53.4h0M637.7 50.4h0M645.8 48.4h0M653.5 45.5h0M661.2 42.8h0M669.8 41.1h0M677.2 38.1h0M716.9 25.8h0M756.1 14.1h0M780.0 6.8h0M482.2 107.4h0M490.9 105.6h0M498.0 102.4h0M514.3 98.0h0M545.9 88.0h0M553.8 86.1h0M561.8 83.5h0M624.7 63.6h0M632.8 60.7h0M640.4 58.4h0M648.5 55.8h0M656.6 54.3h0M664.2 51.6h0M672.6 49.0h0M720.0 34.1h0M735.4 29.1h0M743.4 27.2h0M751.2 24.7h0M783.2 14.2h0M790.4 11.8h0M798.6 9.5h0M806.7 7.7h0M485.7 116.1h0M493.3 113.1h0M548.9 95.7h0M556.7 93.5h0M564.4 91.7h0M611.9 76.3h0M620.0 73.7h0M635.2 69.6h0M643.4 67.1h0M651.1 64.0h0M659.1 62.0h0M666.5 59.7h0M674.9 56.8h0M714.7 44.8h0M722.1 42.5h0M738.0 37.1h0M746.4 34.7h0M754.3 32.0h0M777.4 25.1h0M785.4 22.7h0M793.6 20.0h0M801.2 17.4h0M809.6 15.2h0M816.8 13.1h0M832.9 7.6h0M840.9 5.9h0M488.1 124.1h0M559.2 102.0h0M567.4 99.8h0M606.9 86.9h0M622.6 82.0h0M630.5 80.3h0M646.3 74.9h0M654.0 72.5h0M661.9 70.0h0M669.8 67.2h0M708.9 54.8h0M733.2 48.3h0M740.3 45.1h0M748.4 43.1h0M764.3 38.4h0M772.4 36.1h0M788.0 31.1h0M795.8 28.0h0M804.3 25.5h0M827.3 18.7h0M836.1 16.2h0M843.5 13.5h0M561.3 109.5h0M569.5 107.8h0M577.7 105.4h0M585.2 102.8h0M609.2 95.5h0M656.2 80.2h0M712.4 63.5h0M727.9 58.2h0M751.8 50.9h0M767.1 46.2h0M774.8 44.2h0M783.1 41.2h0M791.2 39.0h0M798.5 36.4h0M806.7 33.8h0M838.1 24.5h0M509.1 135.5h0M556.4 120.9h0M564.1 117.6h0M572.5 115.2h0M714.4 71.1h0M737.9 64.3h0M746.5 62.1h0M754.5 58.9h0M769.8 54.8h0M777.9 52.2h0M785.7 49.1h0M794.0 47.4h0M801.0 44.5h0M833.5 34.3h0M488.4 150.5h0M504.0 145.3h0M511.5 143.4h0M559.2 129.0h0M566.7 126.3h0M574.8 123.6h0M724.9 77.4h0M732.8 74.9h0M740.5 71.9h0M749.1 70.3h0M772.7 62.2h0M780.1 60.5h0M787.9 57.3h0M796.5 55.3h0M811.6 50.2h0M498.8 155.9h0M507.1 153.8h0M538.6 144.4h0M546.2 141.5h0M562.2 136.2h0M569.5 134.5h0M578.1 131.9h0M601.7 124.5h0M625.1 116.8h0M712.2 89.8h0M720.2 87.6h0M728.2 84.9h0M735.4 82.9h0M751.6 77.9h0M759.5 75.4h0M775.3 70.8h0M782.9 68.4h0M501.5 164.8h0M517.0 159.3h0M525.2 156.7h0M540.6 152.6h0M548.4 149.6h0M572.6 142.3h0M580.9 139.7h0M596.6 135.0h0M603.9 132.9h0M612.4 130.2h0M619.8 127.8h0M628.2 125.6h0M691.3 106.0h0M699.3 103.2h0M707.2 101.0h0M715.1 97.9h0M722.5 95.5h0M730.2 93.7h0M754.7 86.4h0M761.9 83.5h0M769.7 81.2h0M778.3 79.1h0M848.9 56.5h0M528.2 165.3h0M535.3 162.8h0M543.7 160.3h0M551.6 157.8h0M559.7 154.9h0M567.0 153.3h0M583.2 147.7h0M590.7 145.3h0M598.7 142.8h0M606.8 141.0h0M614.5 138.2h0M623.0 135.6h0M630.2 133.7h0M638.9 131.3h0M646.1 128.5h0M669.7 121.2h0M677.6 118.9h0M686.1 116.1h0M693.8 114.2h0M702.0 111.6h0M709.8 108.6h0M717.7 106.8h0M725.2 103.7h0M733.1 101.5h0M749.2 96.1h0M757.3 94.0h0M764.9 91.4h0M772.4 89.6h0M780.7 86.3h0M788.2 83.8h0M797.0 82.0h0M812.3 76.6h0M820.5 74.5h0M851.9 64.7h0M530.3 173.4h0M538.3 170.7h0M546.7 168.1h0M554.1 166.3h0M562.5 163.2h0M570.3 160.8h0M593.5 153.8h0M601.7 151.1h0M610.1 148.5h0M617.4 146.4h0M625.4 143.9h0M633.0 141.0h0M641.3 138.7h0M649.2 136.5h0M672.4 129.5h0M680.3 126.8h0M688.4 124.3h0M696.2 121.6h0M719.7 114.7h0M728.1 111.7h0M751.9 104.3h0M760.0 102.4h0M767.5 99.9h0M775.5 96.8h0M783.2 95.2h0M790.9 92.7h0M798.8 89.6h0M807.1 87.8h0M830.3 80.0h0M838.2 77.4h0M846.7 75.3h0M540.8 178.4h0M549.0 176.4h0M572.7 169.1h0M581.0 166.5h0M588.4 163.7h0M596.3 162.2h0M604.0 159.0h0M611.9 156.6h0M619.8 154.1h0M628.1 151.5h0M683.0 134.5h0M691.6 132.4h0M698.7 130.0h0M715.1 125.3h0M723.1 122.8h0M754.6 113.0h0M762.1 110.5h0M769.9 108.0h0M777.8 105.5h0M785.6 103.4h0M794.3 100.8h0M817.4 92.8h0M825.4 90.7h0M841.3 85.7h0M849.1 83.5h0M480.4 207.1h0M488.2 204.1h0M496.8 201.4h0M504.5 199.6h0M535.7 189.2h0M544.4 187.2h0M551.9 184.1h0M583.7 174.3h0M591.8 172.7h0M599.6 169.9h0M607.3 166.9h0M614.8 165.4h0M623.1 162.7h0M638.9 157.5h0M662.1 149.9h0M669.9 147.9h0M686.1 142.6h0M694.1 140.2h0M718.0 132.7h0M765.4 118.2h0M772.7 116.1h0M781.1 113.4h0M789.3 111.2h0M796.8 108.5h0M836.3 96.1h0M844.5 93.7h0M483.4 214.9h0M491.3 212.4h0M499.3 209.5h0M507.5 207.0h0M515.1 205.3h0M523.2 202.0h0M531.1 200.0h0M538.8 198.0h0M547.1 195.5h0M554.8 192.2h0M562.8 190.6h0M570.5 187.8h0M577.9 185.2h0M586.4 182.6h0M593.5 180.0h0M617.7 173.5h0M649.2 163.7h0M696.4 148.5h0M704.5 146.4h0M712.2 143.8h0M720.5 141.6h0M728.3 138.5h0M760.0 129.3h0M768.0 126.3h0M791.3 118.7h0M486.0 222.6h0M494.0 220.4h0M510.2 215.9h0M517.3 212.9h0M525.6 210.4h0M533.8 208.5h0M541.7 205.4h0M549.1 203.0h0M557.4 200.5h0M564.8 198.1h0M572.9 195.8h0M581.0 193.7h0M588.6 191.0h0M596.9 188.7h0M636.2 176.0h0M651.8 171.3h0M699.8 156.5h0M707.2 153.9h0M715.3 152.1h0M731.3 147.1h0M739.1 144.8h0M801.8 124.6h0M817.7 119.7h0M497.2 228.5h0M504.2 226.5h0M528.6 218.3h0M536.2 215.8h0M543.8 214.2h0M551.7 211.1h0M560.4 208.7h0M568.2 206.6h0M607.3 194.1h0M615.0 191.7h0M622.9 189.1h0M655.2 179.2h0M670.3 174.2h0M678.6 171.6h0M686.2 169.5h0M694.4 167.3h0M702.2 164.4h0M710.4 162.7h0M717.6 159.5h0M725.4 157.5h0M734.0 154.5h0M741.4 152.8h0M805.3 132.5h0M812.9 130.0h0M828.1 125.5h0M836.0 123.6h0M483.9 241.1h0M499.5 236.4h0M507.1 233.9h0M530.8 227.1h0M538.8 224.7h0M546.7 221.8h0M554.6 219.9h0M562.4 217.1h0M601.8 204.8h0M610.3 202.1h0M618.2 199.3h0M625.9 197.2h0M657.3 187.6h0M664.8 184.6h0M673.2 182.3h0M681.4 180.5h0M688.7 177.5h0M697.0 175.1h0M704.7 172.9h0M712.8 170.3h0M721.0 168.0h0M728.9 165.6h0M736.4 163.0h0M743.9 161.0h0M799.5 143.0h0M807.5 141.1h0M823.1 135.6h0M830.7 133.4h0M839.5 130.7h0M846.8 129.1h0M509.6 241.9h0M517.5 240.2h0M525.4 237.8h0M533.7 234.4h0M541.5 232.1h0M549.9 230.4h0M557.2 227.5h0M588.7 218.0h0M605.0 212.7h0M612.6 209.9h0M620.4 207.6h0M659.6 195.3h0M723.5 176.0h0M731.7 173.4h0M739.0 171.5h0M747.2 169.0h0M786.5 156.6h0M833.7 142.0h0M841.4 139.5h0M849.5 137.1h0M504.6 252.4h0M513.0 250.3h0M520.4 248.0h0M528.2 245.3h0M536.4 243.3h0M544.2 240.6h0M552.0 237.6h0M560.0 235.2h0M584.0 228.5h0M607.7 220.4h0M614.9 218.9h0M623.6 216.4h0M679.1 199.3h0M718.2 186.8h0M725.9 184.1h0M734.2 182.1h0M741.4 179.6h0M750.0 176.8h0M765.7 172.2h0M773.7 169.3h0M780.9 167.2h0M789.0 164.2h0M797.5 162.4h0M820.9 154.4h0M829.1 152.5h0M836.1 149.7h0M852.3 145.3h0M491.8 265.5h0M500.0 263.6h0M507.4 260.8h0M515.3 258.1h0M522.8 255.5h0M531.1 253.9h0M539.2 250.8h0M547.0 249.0h0M562.4 243.8h0M570.6 241.5h0M578.8 238.7h0M610.1 228.9h0M665.5 211.4h0M673.5 209.0h0M705.1 199.6h0M712.9 197.0h0M721.2 194.6h0M728.8 192.7h0M736.2 189.9h0M744.1 186.9h0M768.3 179.7h0M776.2 177.7h0M783.9 174.7h0M792.2 172.2h0M799.4 169.9h0M823.8 162.8h0M831.8 160.8h0M839.5 157.5h0M847.0 155.4h0M486.6 276.7h0M494.9 274.0h0M510.7 268.8h0M541.5 259.3h0M549.5 257.0h0M565.2 251.7h0M573.7 249.2h0M581.7 247.0h0M604.8 239.2h0M612.7 237.5h0M676.3 217.5h0M715.8 204.8h0M723.1 203.1h0M731.5 200.2h0M739.7 198.4h0M762.7 190.1h0M770.8 188.2h0M778.6 185.8h0M787.1 182.7h0M794.5 180.3h0M803.0 178.8h0M818.4 173.5h0M826.0 171.0h0M833.7 168.0h0M841.6 166.1h0M849.7 164.1h0M480.8 286.5h0M488.9 284.7h0M497.2 282.2h0M513.0 277.4h0M520.5 275.1h0M544.6 267.1h0M552.0 264.3h0M560.0 262.6h0M568.3 259.5h0M623.6 243.1h0M678.8 225.3h0M710.6 215.9h0M718.0 213.5h0M726.3 211.3h0M733.9 208.2h0M741.7 206.0h0M765.7 198.5h0M773.5 196.2h0M781.4 194.0h0M788.9 191.8h0M813.0 183.9h0M821.2 182.0h0M828.8 178.8h0M844.4 174.0h0M483.5 294.5h0M492.2 293.0h0M499.8 290.2h0M523.0 283.1h0M563.0 270.8h0M570.4 267.7h0M594.3 261.1h0M602.7 258.5h0M665.7 238.2h0M682.0 233.9h0M689.4 231.2h0M697.5 229.1h0M705.0 226.2h0M713.1 224.3h0M721.1 221.1h0M736.4 216.7h0M744.3 214.6h0M752.5 212.1h0M760.2 209.2h0M776.1 204.1h0M783.8 202.0h0M815.7 192.5h0M823.9 189.2h0M486.4 302.9h0M494.2 300.4h0M573.9 276.0h0M597.1 269.0h0M605.4 266.4h0M668.3 246.2h0M676.5 243.8h0M691.6 239.7h0M700.5 236.5h0M707.7 234.5h0M723.7 229.6h0M731.4 227.0h0M755.4 219.9h0M762.9 217.5h0M771.3 215.3h0M778.9 212.2h0M826.7 197.3h0M834.4 195.6h0M481.4 313.8h0M489.2 311.4h0M497.7 309.0h0M505.6 306.3h0M600.3 277.1h0M662.8 257.6h0M670.8 255.1h0M678.7 252.1h0M686.8 250.2h0M694.4 247.9h0M702.4 244.8h0M711.0 242.8h0M757.8 227.8h0M765.6 225.5h0M773.4 222.8h0M782.0 220.5h0M837.5 203.7h0M492.1 319.5h0M499.8 317.1h0M508.0 314.4h0M555.7 299.6h0M562.9 296.8h0M571.1 294.9h0M578.8 292.3h0M586.5 289.7h0M594.7 287.6h0M603.0 284.5h0M657.6 268.1h0M666.4 265.4h0M674.1 262.6h0M681.8 260.3h0M689.9 258.2h0M697.7 255.1h0M705.2 252.9h0M712.9 251.1h0M721.5 247.8h0M728.6 245.9h0M736.6 243.8h0M745.1 240.9h0M823.6 216.7h0M831.9 213.7h0M840.2 211.1h0M494.5 327.6h0M557.9 308.2h0M566.3 305.4h0M574.0 302.8h0M581.3 300.7h0M589.9 298.2h0M613.6 290.6h0M644.8 280.8h0M669.1 273.3h0M676.1 270.7h0M684.1 268.4h0M700.3 263.6h0M708.2 260.8h0M716.5 258.5h0M731.9 253.7h0M739.6 251.2h0M747.4 249.2h0M787.1 236.9h0M795.0 234.1h0M826.8 224.9h0M834.9 221.6h0M842.1 219.8h0M850.7 217.1h0M489.2 337.7h0M497.6 335.8h0M505.0 332.7h0M513.6 330.6h0M560.5 316.2h0M568.9 313.7h0M576.6 310.7h0M584.2 308.2h0M592.6 306.2h0M600.5 303.3h0M616.4 299.0h0M623.7 296.1h0M631.5 293.4h0M639.6 291.4h0M647.4 288.7h0M655.6 286.7h0M662.9 284.2h0M703.0 272.0h0M711.2 269.5h0M734.0 262.0h0M742.4 259.6h0M750.2 257.2h0M766.2 252.4h0M774.4 249.7h0M790.3 245.1h0M797.9 241.9h0M821.8 234.8h0M829.6 232.1h0M837.5 229.6h0M492.6 346.0h0M499.9 343.2h0M508.1 340.7h0M531.8 333.3h0M540.1 331.6h0M555.8 326.8h0M571.2 321.7h0M579.4 318.8h0M587.5 316.7h0M594.9 314.1h0M602.5 312.2h0M611.2 309.7h0M618.5 307.2h0M626.7 304.8h0M634.3 302.1h0M642.4 299.7h0M650.2 297.3h0M706.0 279.6h0M713.2 277.5h0M737.6 269.6h0M744.7 267.7h0M753.3 264.9h0M761.1 262.6h0M769.0 260.4h0M776.9 257.9h0M784.4 255.2h0M792.4 252.5h0M800.7 250.4h0M808.1 247.9h0M816.5 245.2h0M832.3 240.2h0M848.3 235.4h0M519.0 346.8h0M527.0 344.3h0M534.1 342.1h0M542.3 339.5h0M582.1 327.5h0M589.5 325.1h0M613.5 316.9h0M621.7 315.0h0M628.9 312.6h0M645.1 307.7h0M653.0 305.4h0M677.2 298.1h0M684.5 295.7h0M692.5 293.1h0M700.3 290.7h0M732.2 280.7h0M740.1 278.5h0M755.6 273.1h0M779.2 265.6h0M787.3 263.4h0M842.1 246.2h0M529.1 352.6h0M537.6 350.4h0M544.8 347.9h0M584.2 335.7h0M592.3 333.1h0M623.9 322.7h0M632.4 320.3h0M640.2 317.6h0M655.5 313.1h0M679.7 305.4h0M687.4 303.2h0M695.5 301.0h0M702.8 298.4h0M719.1 293.7h0M726.9 291.5h0M734.4 288.6h0M743.1 286.7h0M774.1 276.5h0M782.0 273.6h0M790.5 271.5h0M845.4 254.9h0M853.1 251.7h0M508.6 368.3h0M532.4 360.1h0M540.1 358.0h0M587.7 343.8h0M594.8 340.8h0M666.1 318.6h0M689.8 311.3h0M705.5 306.5h0M737.7 296.3h0M745.2 294.0h0M753.3 292.4h0M800.6 277.0h0M808.3 274.7h0M816.4 271.8h0M824.4 269.5h0M848.3 262.3h0M518.7 373.6h0M526.7 371.3h0M534.7 368.5h0M543.0 365.9h0M590.0 351.4h0M597.9 348.8h0M605.9 346.7h0M613.2 344.3h0M621.8 342.0h0M637.3 337.0h0M676.9 324.6h0M692.9 319.4h0M701.0 317.4h0M716.2 312.3h0M723.9 310.0h0M731.8 307.2h0M739.8 305.1h0M747.5 302.5h0M756.1 300.2h0M803.8 285.7h0M811.6 282.7h0M819.0 280.9h0M826.5 277.8h0M834.9 275.0h0M842.5 272.9h0M850.9 270.9h0M521.2 381.6h0M529.2 379.3h0M537.5 376.5h0M561.6 369.3h0M592.8 359.3h0M600.2 356.6h0M624.8 349.8h0M656.0 339.7h0M664.0 337.7h0M711.5 323.3h0M718.9 320.5h0M727.3 317.8h0M734.6 315.8h0M751.1 311.0h0M766.4 305.2h0M774.8 303.0h0M789.8 297.9h0M830.0 285.9h0M837.3 283.1h0M845.2 280.7h0M853.3 278.6h0M548.0 382.7h0M555.5 379.5h0M571.5 375.4h0M611.2 362.8h0M619.2 360.2h0M627.2 357.4h0M634.6 355.1h0M706.5 333.7h0M714.2 331.0h0M721.5 328.6h0M729.7 325.6h0M753.5 319.1h0M761.3 316.5h0M768.8 313.6h0M776.7 311.6h0M785.5 309.2h0M832.0 294.1h0M840.1 291.8h0M847.9 289.3h0M582.8 380.2h0M614.2 371.0h0M621.5 368.6h0M629.3 366.1h0M637.4 363.3h0M645.1 361.2h0M653.6 358.6h0M661.7 355.9h0M669.6 354.0h0M716.8 339.4h0M724.6 336.9h0M732.2 334.4h0M739.9 331.8h0M748.5 329.5h0M771.8 322.3h0M780.0 319.1h0M787.3 317.2h0M795.3 314.6h0M803.4 312.4h0M811.9 309.6h0M826.9 305.1h0M834.6 302.4h0M843.0 299.9h0M608.8 381.0h0M616.9 378.8h0M624.9 376.2h0M632.5 374.0h0M640.4 371.6h0M648.1 369.5h0M655.7 367.0h0M663.6 363.9h0M727.2 344.2h0M735.1 341.9h0M742.7 339.4h0M751.1 337.5h0M758.5 335.3h0M774.9 329.6h0M782.6 327.6h0M790.7 324.8h0M805.8 319.8h0M814.5 318.1h0M822.3 315.2h0M830.0 312.8h0M837.5 310.6h0M635.3 382.0h0M643.4 379.8h0M651.2 377.2h0M658.4 374.5h0M666.7 372.5h0M722.4 355.6h0M745.6 347.7h0M753.1 345.8h0M761.9 342.5h0M793.6 333.4h0M800.8 330.6h0M841.0 318.3h0M848.1 316.0h0M669.0 380.9h0M677.2 377.8h0M717.2 365.3h0M724.5 363.4h0M748.1 356.2h0M756.7 353.9h0M764.1 350.8h0M771.6 348.4h0M780.1 345.9h0M796.2 340.9h0M803.5 338.3h0M843.5 326.9h0M850.8 324.1h0M751.1 364.0h0M758.5 361.6h0M766.7 358.7h0M774.7 357.0h0M782.4 354.6h0M806.1 346.9h0M813.9 344.7h0M822.2 341.9h0M830.4 339.5h0M846.4 334.7h0M853.5 331.9h0M762.2 369.3h0M769.1 367.1h0M777.7 365.3h0M785.4 362.1h0M800.9 357.7h0M808.6 354.6h0M816.8 352.2h0M824.7 350.2h0M832.9 347.5h0M841.1 345.3h0M848.8 343.2h0M756.4 379.8h0M764.7 377.4h0M772.6 375.1h0M779.8 372.6h0M787.8 370.5h0M796.5 368.4h0M804.2 365.5h0M812.0 363.2h0M819.5 360.3h0M827.3 357.7h0M782.6 380.8h0M790.8 378.1h0M799.1 375.8h0M806.2 373.8h0M814.4 371.1h0M822.7 368.5h0M830.4 365.9h0M809.5 381.3h0M817.0 379.4h0M824.6 376.4h0M833.0 374.4h0M848.4 369.3h0M835.7 382.0h0M843.9 380.1h0" stroke="#111" stroke-width="2.5" stroke-linecap="round" fill="none"/>
</g>
<polygon points="770.5,32.5 869.8,76.8 876.5,61.1 893.2,104.5 849.7,120.7 855.8,105.4 759.1,61.5" fill="#ffc000" stroke="#b8860b" stroke-width="1.3" stroke-linejoin="miter"/>
<defs>
<radialGradient id="gG" cx="0.45" cy="0.4" r="0.62"><stop offset="0" stop-color="#f0ffb0"/><stop offset="0.22" stop-color="#b4f23c"/><stop offset="0.6" stop-color="#7fd81a"/><stop offset="1" stop-color="#55a80c"/></radialGradient>
<radialGradient id="gB" cx="0.45" cy="0.4" r="0.62"><stop offset="0" stop-color="#ffe9a0"/><stop offset="0.2" stop-color="#dc9a2c"/><stop offset="0.6" stop-color="#b06f0c"/><stop offset="1" stop-color="#6e4305"/></radialGradient>
</defs>
<circle cx="546.4" cy="435.8" r="9" fill="url(#gB)" opacity="0.8"/>
<circle cx="625.0" cy="438.7" r="9" fill="url(#gB)" opacity="0.8"/>
<circle cx="555.4" cy="453.9" r="8" fill="url(#gG)" opacity="0.6"/>
<circle cx="633.6" cy="458.7" r="8" fill="url(#gG)" opacity="0.6"/>
<path d="M508.2 404.3L527.3 420.1M491.5 423.4L510.7 438.7M585.9 408.1L566.2 422.0M585.9 408.1L581.6 427.7M585.9 408.1L605.5 423.4M569.3 426.3L549.7 440.1M569.3 426.3L573.3 436.8M569.3 426.3L588.8 442.0M664.2 411.0L644.6 424.8M647.0 430.1L627.6 443.9M647.0 430.1L636.0 434.4M538.8 474.5L534.4 464.2M522.4 493.1L526.2 473.5M555.4 453.9L550.9 444.9M538.8 474.5L558.1 460.9M555.4 453.9L566.4 450.6M617.0 477.8L612.6 467.8M600.6 496.9L604.4 477.3M633.6 458.7L629.3 448.7M617.0 477.8L597.2 462.5M633.6 458.7L620.9 458.2" stroke="#8fd41e" stroke-width="3.2" fill="none"/>
<path d="M527.3 420.1L546.4 435.8M510.7 438.7L530.0 453.9M566.2 422.0L546.4 435.8M581.6 427.7L577.3 447.3M605.5 423.4L625.0 438.7M549.7 440.1L530.0 453.9M573.3 436.8L577.3 447.3M588.8 442.0L608.2 457.7M644.6 424.8L625.0 438.7M627.6 443.9L608.2 457.7M636.0 434.4L625.0 438.7M534.4 464.2L530.0 453.9M526.2 473.5L530.0 453.9M550.9 444.9L546.4 435.8M558.1 460.9L577.3 447.3M566.4 450.6L577.3 447.3M612.6 467.8L608.2 457.7M604.4 477.3L608.2 457.7M629.3 448.7L625.0 438.7M597.2 462.5L577.3 447.3M620.9 458.2L608.2 457.7" stroke="#b97c16" stroke-width="3.2" fill="none"/>
<circle cx="508.2" cy="404.3" r="8" fill="url(#gG)" opacity="0.95"/>
<circle cx="577.3" cy="447.3" r="9.6" fill="url(#gB)"/>
<circle cx="530.0" cy="453.9" r="9.6" fill="url(#gB)"/>
<circle cx="608.2" cy="457.7" r="9.6" fill="url(#gB)"/>
<circle cx="491.5" cy="423.4" r="8.2" fill="url(#gG)"/>
<circle cx="585.9" cy="408.1" r="8.2" fill="url(#gG)"/>
<circle cx="569.3" cy="426.3" r="8.2" fill="url(#gG)"/>
<circle cx="664.2" cy="411.0" r="8.2" fill="url(#gG)"/>
<circle cx="647.0" cy="430.1" r="8.2" fill="url(#gG)"/>
<circle cx="538.8" cy="474.5" r="8.2" fill="url(#gG)"/>
<circle cx="522.4" cy="493.1" r="8.2" fill="url(#gG)"/>
<circle cx="617.0" cy="477.8" r="8.2" fill="url(#gG)"/>
<circle cx="600.6" cy="496.9" r="8.2" fill="url(#gG)"/>
<circle cx="546.4" cy="547.2" r="9" fill="url(#gB)" opacity="0.8"/>
<circle cx="625.0" cy="550.1" r="9" fill="url(#gB)" opacity="0.8"/>
<circle cx="555.4" cy="565.3" r="8" fill="url(#gG)" opacity="0.6"/>
<circle cx="633.6" cy="570.1" r="8" fill="url(#gG)" opacity="0.6"/>
<path d="M508.2 515.7L527.3 531.5M491.5 534.8L510.7 550.1M585.9 519.5L566.2 533.4M585.9 519.5L581.6 539.1M585.9 519.5L605.5 534.8M569.3 537.7L549.7 551.5M569.3 537.7L573.3 548.2M569.3 537.7L588.8 553.4M664.2 522.4L644.6 536.2M647.0 541.5L627.6 555.3M647.0 541.5L636.0 545.8M538.8 585.9L534.4 575.6M522.4 607.0L526.2 586.1M555.4 565.3L550.9 556.3M538.8 585.9L558.1 572.3M555.4 565.3L566.4 562.0M617.0 589.2L612.6 579.2M600.6 609.8L604.4 589.5M633.6 570.1L629.3 560.1M617.0 589.2L597.2 573.9M633.6 570.1L620.9 569.6" stroke="#8fd41e" stroke-width="3.2" fill="none"/>
<path d="M527.3 531.5L546.4 547.2M510.7 550.1L530.0 565.3M566.2 533.4L546.4 547.2M581.6 539.1L577.3 558.7M605.5 534.8L625.0 550.1M549.7 551.5L530.0 565.3M573.3 548.2L577.3 558.7M588.8 553.4L608.2 569.1M644.6 536.2L625.0 550.1M627.6 555.3L608.2 569.1M636.0 545.8L625.0 550.1M534.4 575.6L530.0 565.3M526.2 586.1L530.0 565.3M550.9 556.3L546.4 547.2M558.1 572.3L577.3 558.7M566.4 562.0L577.3 558.7M612.6 579.2L608.2 569.1M604.4 589.5L608.2 569.1M629.3 560.1L625.0 550.1M597.2 573.9L577.3 558.7M620.9 569.6L608.2 569.1" stroke="#b97c16" stroke-width="3.2" fill="none"/>
<circle cx="508.2" cy="515.7" r="8" fill="url(#gG)" opacity="0.6"/>
<circle cx="577.3" cy="558.7" r="9.6" fill="url(#gB)"/>
<circle cx="530.0" cy="565.3" r="9.6" fill="url(#gB)"/>
<circle cx="608.2" cy="569.1" r="9.6" fill="url(#gB)"/>
<circle cx="491.5" cy="534.8" r="8.2" fill="url(#gG)"/>
<circle cx="585.9" cy="519.5" r="8.2" fill="url(#gG)"/>
<circle cx="569.3" cy="537.7" r="8.2" fill="url(#gG)"/>
<circle cx="664.2" cy="522.4" r="8.2" fill="url(#gG)"/>
<circle cx="647.0" cy="541.5" r="8.2" fill="url(#gG)"/>
<circle cx="538.8" cy="585.9" r="8.2" fill="url(#gG)"/>
<circle cx="522.4" cy="607.0" r="8.2" fill="url(#gG)"/>
<circle cx="617.0" cy="589.2" r="8.2" fill="url(#gG)"/>
<circle cx="600.6" cy="609.8" r="8.2" fill="url(#gG)"/>
<path d="M530.0 453.9L530.0 565.3M546.4 435.8L546.4 547.2M608.2 457.7L608.2 569.1M625.0 438.7L625.0 550.1M546.4 435.8L625.0 438.7M546.4 547.2L625.0 550.1" stroke="#5b55d0" stroke-width="0.6" fill="none" opacity="0.7"/>
<path d="M530.0 453.9L608.2 457.7M530.0 565.3L608.2 569.1" stroke="#2a2ac8" stroke-width="1" fill="none" opacity="0.8"/>
<path d="M664.4 413V436.5M660.3 430.5L664.4 437L668.5 430.5M655.5 438.3H681.5" stroke="#1f1fd6" stroke-width="1.6" fill="none"/>
<g font-family="'Liberation Sans',sans-serif" font-weight="bold" fill="#111"><text x="675.5" y="437.3" font-size="30" font-style="italic">h</text><text x="689" y="439.5" font-size="16.5" textLength="42.5" lengthAdjust="spacingAndGlyphs">anion</text><text x="754.8" y="421.5" font-size="15.5" textLength="42" lengthAdjust="spacingAndGlyphs">Te/Se</text><text x="776" y="455.6" font-size="15.5" textLength="15.6" lengthAdjust="spacingAndGlyphs">Fe</text><text x="804.8" y="559.5" font-size="23" font-style="italic">σ</text><text x="820.5" y="567.2" font-size="15.5">A</text></g>
<circle cx="808" cy="416" r="8.5" fill="url(#gG)"/><circle cx="808.3" cy="450.2" r="8.5" fill="url(#gB)"/>
<path d="M697.2 494.0L714.4 494.0M789.5 494.0L806.7 494.0M714.4 494.0L733.2 494.0M770.8 494.0L789.5 494.0M688.6 530.5L697.0 530.5M806.0 530.5L813.2 530.5M733.2 530.5L752.0 530.5M752.0 530.5L770.8 530.5M697.2 568.1L714.4 568.1M789.5 568.1L806.7 568.1M714.4 568.1L733.2 568.1M770.8 568.1L789.5 568.1M714.4 476.8L714.4 494.0M714.4 568.1L714.4 584.2M714.4 494.0L714.4 512.2M714.4 549.3L714.4 568.1M752.0 585.0L752.0 591.7M752.0 512.2L752.0 530.5M752.0 530.5L752.0 549.3M789.5 476.8L789.5 494.0M789.5 568.1L789.5 584.2M789.5 494.0L789.5 512.2M789.5 549.3L789.5 568.1" stroke="#8fd41e" stroke-width="3.3" fill="none"/><path d="M733.2 494.0L752.0 494.0M752.0 494.0L770.8 494.0M697.0 530.5L714.4 530.5M789.5 530.5L806.0 530.5M714.4 530.5L733.2 530.5M770.8 530.5L789.5 530.5M733.2 568.1L752.0 568.1M752.0 568.1L770.8 568.1M714.4 512.2L714.4 530.5M714.4 530.5L714.4 549.3M752.0 473.6L752.0 494.0M752.0 568.1L752.0 585.0M752.0 494.0L752.0 512.2M752.0 549.3L752.0 568.1M789.5 512.2L789.5 530.5M789.5 530.5L789.5 549.3" stroke="#b97c16" stroke-width="3.3" fill="none"/>
<circle cx="714.4" cy="494" r="8.3" fill="url(#gG)"/>
<circle cx="752" cy="494" r="10" fill="url(#gB)"/>
<circle cx="789.5" cy="494" r="8.3" fill="url(#gG)"/>
<circle cx="714.4" cy="530.5" r="10" fill="url(#gB)"/>
<circle cx="752" cy="530.5" r="7.3" fill="url(#gG)"/>
<circle cx="789.5" cy="530.5" r="10" fill="url(#gB)"/>
<circle cx="714.4" cy="568.1" r="8.3" fill="url(#gG)"/>
<circle cx="752" cy="568.1" r="10" fill="url(#gB)"/>
<circle cx="789.5" cy="568.1" r="8.3" fill="url(#gG)"/>
<rect x="714.4" y="495.5" width="71.2" height="71.2" fill="none" stroke="#1212e0" stroke-width="2.3"/>
<g stroke="#222" stroke-width="0.6">
<g fill="#0433ff"><rect x="935.5" y="203.0" width="14.4" height="94.2"/><rect x="971.8" y="154.3" width="14.4" height="142.9"/><rect x="1008.2" y="184.7" width="14.4" height="112.5"/><rect x="1044.5" y="262.8" width="14.4" height="34.4"/><rect x="1080.9" y="219.5" width="14.4" height="77.7"/><rect x="1117.2" y="283.2" width="14.4" height="14.0"/><rect x="1153.5" y="291.4" width="14.4" height="5.8"/><rect x="1189.9" y="234.4" width="14.4" height="62.8"/><rect x="1226.2" y="178.4" width="14.4" height="118.8"/><rect x="1262.6" y="255.5" width="14.4" height="41.7"/><rect x="1298.9" y="102.2" width="14.4" height="195.0"/><rect x="1335.2" y="149.3" width="14.4" height="147.9"/></g>
<g fill="#ff2600"><rect x="949.9" y="278.3" width="3.8" height="18.9"/><rect x="986.2" y="201.2" width="3.8" height="96.0"/><rect x="1022.6" y="180.3" width="3.8" height="116.9"/><rect x="1058.9" y="239.2" width="3.8" height="58.0"/><rect x="1095.3" y="156.1" width="3.8" height="141.1"/><rect x="1131.6" y="255.2" width="3.8" height="42.0"/><rect x="1167.9" y="273.8" width="3.8" height="23.4"/><rect x="1204.3" y="180.5" width="3.8" height="116.7"/><rect x="1240.6" y="156.1" width="3.8" height="141.1"/><rect x="1277.0" y="226.5" width="3.8" height="70.7"/><rect x="1313.3" y="126.9" width="3.8" height="170.3"/><rect x="1349.6" y="246.8" width="3.8" height="50.4"/></g>
<g fill="#bfbf0a"><rect x="953.7" y="212.1" width="14.5" height="85.1"/><rect x="990.0" y="137.0" width="14.5" height="160.2"/><rect x="1026.4" y="192.1" width="14.5" height="105.1"/><rect x="1062.7" y="259.8" width="14.5" height="37.4"/><rect x="1099.1" y="227.1" width="14.5" height="70.1"/><rect x="1135.4" y="281.2" width="14.5" height="16.0"/><rect x="1171.7" y="287.3" width="14.5" height="9.9"/><rect x="1208.1" y="240.7" width="14.5" height="56.5"/><rect x="1244.4" y="187.6" width="14.5" height="109.6"/><rect x="1280.8" y="258.3" width="14.5" height="38.9"/><rect x="1317.1" y="83.8" width="14.5" height="213.4"/><rect x="1353.4" y="153.2" width="14.5" height="144.0"/></g>
</g>
<path d="M942.7 153.5V252M940.5 153.5h4.4M940.5 252h4.4M979.0 125.2V182M976.8 125.2h4.4M976.8 182h4.4M1015.4 163.5V204.7M1013.2 163.5h4.4M1013.2 204.7h4.4M1051.7 241.8V282.3M1049.5 241.8h4.4M1049.5 282.3h4.4M1088.1 206V232.7M1085.9 206h4.4M1085.9 232.7h4.4M1124.4 273.4V292.7M1122.2 273.4h4.4M1122.2 292.7h4.4M1160.7 286.3V295.7M1158.5 286.3h4.4M1158.5 295.7h4.4M1197.1 223.8V245.4M1194.9 223.8h4.4M1194.9 245.4h4.4M1233.4 159.7V196.2M1231.2 159.7h4.4M1231.2 196.2h4.4M1269.8 233.9V276.7M1267.6 233.9h4.4M1267.6 276.7h4.4M1306.1 76.5V137.9M1303.9 137.9h4.4M1342.4 128.6V169.8M1340.2 128.6h4.4M1340.2 169.8h4.4" stroke="#000" stroke-width="1.3" fill="none"/>
<rect x="931.9" y="76.5" width="439.1" height="220.7" fill="none" stroke="#444" stroke-width="0.9"/>
<path d="M951.8 297.2v-3.5M951.8 76.5v3.5M988.1 297.2v-3.5M988.1 76.5v3.5M1024.5 297.2v-3.5M1024.5 76.5v3.5M1060.8 297.2v-3.5M1060.8 76.5v3.5M1097.2 297.2v-3.5M1097.2 76.5v3.5M1133.5 297.2v-3.5M1133.5 76.5v3.5M1169.8 297.2v-3.5M1169.8 76.5v3.5M1206.2 297.2v-3.5M1206.2 76.5v3.5M1242.5 297.2v-3.5M1242.5 76.5v3.5M1278.9 297.2v-3.5M1278.9 76.5v3.5M1315.2 297.2v-3.5M1315.2 76.5v3.5M1351.5 297.2v-3.5M1351.5 76.5v3.5M931.9 297.2h3.5M1371.0 297.2h-3.5M931.9 244.7h3.5M1371.0 244.7h-3.5M931.9 192.1h3.5M1371.0 192.1h-3.5M931.9 139.6h3.5M1371.0 139.6h-3.5M931.9 87.0h3.5M1371.0 87.0h-3.5" stroke="#444" stroke-width="0.8" fill="none"/>
<g font-family="'DejaVu Sans',sans-serif" font-size="12.4" fill="#111"><text x="952.3" y="311" text-anchor="middle">1</text><text x="988.6" y="311" text-anchor="middle">2</text><text x="1025.0" y="311" text-anchor="middle">3</text><text x="1061.3" y="311" text-anchor="middle">4</text><text x="1097.7" y="311" text-anchor="middle">5</text><text x="1134.0" y="311" text-anchor="middle">6</text><text x="1170.3" y="311" text-anchor="middle">7</text><text x="1206.7" y="311" text-anchor="middle">8</text><text x="1243.0" y="311" text-anchor="middle">9</text><text x="1279.4" y="311" text-anchor="middle">10</text><text x="1315.7" y="311" text-anchor="middle">11</text><text x="1352.0" y="311" text-anchor="middle">12</text><text x="928.7" y="301.8" text-anchor="end">0.00</text><text x="928.7" y="249.2" text-anchor="end">0.05</text><text x="928.7" y="196.7" text-anchor="end">0.10</text><text x="928.7" y="144.2" text-anchor="end">0.15</text><text x="928.7" y="91.6" text-anchor="end">0.20</text></g>
<g font-family="'DejaVu Sans',sans-serif" font-size="10.2" fill="#111"><text x="953.0" y="73.3" text-anchor="middle">1</text><text x="989.3" y="73.3" text-anchor="middle">2</text><text x="1025.7" y="73.3" text-anchor="middle">3</text><text x="1062.0" y="73.3" text-anchor="middle">4</text><text x="1098.3" y="73.3" text-anchor="middle">5</text><text x="1134.7" y="73.3" text-anchor="middle">6</text><text x="1171.0" y="73.3" text-anchor="middle">7</text><text x="1207.3" y="73.3" text-anchor="middle">8</text><text x="1243.6" y="73.3" text-anchor="middle">9</text><text x="1280.0" y="73.3" text-anchor="middle">10</text><text x="1316.3" y="73.3" text-anchor="middle">11</text><text x="1352.6" y="73.3" text-anchor="middle">12</text></g>
<text x="1111" y="327.3" font-family="'Liberation Sans',sans-serif" font-size="15.9" fill="#111" textLength="94">Configuration</text>
<text transform="translate(893.8,193.5) rotate(-90)" font-family="'Liberation Serif',serif" font-style="italic" font-size="15" fill="#111">p<tspan font-size="9.5" dy="2.5">i</tspan></text>
<text x="1027.5" y="114" font-family="'Liberation Sans',sans-serif" font-size="29" fill="#0433ff" textLength="62" lengthAdjust="spacingAndGlyphs">Data</text>
<text x="1124.5" y="114" font-family="'Liberation Sans',sans-serif" font-size="29" fill="#b9b90c" textLength="87.5" lengthAdjust="spacingAndGlyphs">Model</text>
<g stroke="#ffff00" stroke-width="1.3"><rect x="947.8" y="37.8" width="10.9" height="10.1" fill="#0433ff"/><rect x="947.8" y="27.6" width="10.9" height="10.1" fill="#0433ff"/><rect x="958.6" y="37.8" width="10.9" height="10.1" fill="#0433ff"/><rect x="947.8" y="47.9" width="10.9" height="10.1" fill="#0433ff"/><rect x="936.9" y="37.8" width="10.9" height="10.1" fill="#0433ff"/><rect x="984.0" y="37.8" width="10.9" height="10.1" fill="#0433ff"/><rect x="984.0" y="27.6" width="10.9" height="10.1" fill="#ff2600"/><rect x="994.9" y="37.8" width="10.9" height="10.1" fill="#0433ff"/><rect x="984.0" y="47.9" width="10.9" height="10.1" fill="#0433ff"/><rect x="973.1" y="37.8" width="10.9" height="10.1" fill="#0433ff"/><rect x="1020.3" y="37.8" width="10.9" height="10.1" fill="#0433ff"/><rect x="1020.3" y="27.6" width="10.9" height="10.1" fill="#ff2600"/><rect x="1031.2" y="37.8" width="10.9" height="10.1" fill="#ff2600"/><rect x="1020.3" y="47.9" width="10.9" height="10.1" fill="#0433ff"/><rect x="1009.4" y="37.8" width="10.9" height="10.1" fill="#0433ff"/><rect x="1056.5" y="37.8" width="10.9" height="10.1" fill="#0433ff"/><rect x="1056.5" y="27.6" width="10.9" height="10.1" fill="#ff2600"/><rect x="1067.4" y="37.8" width="10.9" height="10.1" fill="#0433ff"/><rect x="1056.5" y="47.9" width="10.9" height="10.1" fill="#ff2600"/><rect x="1045.6" y="37.8" width="10.9" height="10.1" fill="#0433ff"/><rect x="1092.8" y="37.8" width="10.9" height="10.1" fill="#0433ff"/><rect x="1092.8" y="27.6" width="10.9" height="10.1" fill="#ff2600"/><rect x="1103.7" y="37.8" width="10.9" height="10.1" fill="#ff2600"/><rect x="1092.8" y="47.9" width="10.9" height="10.1" fill="#ff2600"/><rect x="1081.9" y="37.8" width="10.9" height="10.1" fill="#0433ff"/><rect x="1129.0" y="37.8" width="10.9" height="10.1" fill="#0433ff"/><rect x="1129.0" y="27.6" width="10.9" height="10.1" fill="#ff2600"/><rect x="1140.0" y="37.8" width="10.9" height="10.1" fill="#ff2600"/><rect x="1129.0" y="47.9" width="10.9" height="10.1" fill="#ff2600"/><rect x="1118.1" y="37.8" width="10.9" height="10.1" fill="#ff2600"/><rect x="1165.3" y="37.8" width="10.9" height="10.1" fill="#ff2600"/><rect x="1165.3" y="27.6" width="10.9" height="10.1" fill="#0433ff"/><rect x="1176.2" y="37.8" width="10.9" height="10.1" fill="#0433ff"/><rect x="1165.3" y="47.9" width="10.9" height="10.1" fill="#0433ff"/><rect x="1154.4" y="37.8" width="10.9" height="10.1" fill="#0433ff"/><rect x="1201.6" y="37.8" width="10.9" height="10.1" fill="#ff2600"/><rect x="1201.6" y="27.6" width="10.9" height="10.1" fill="#ff2600"/><rect x="1212.5" y="37.8" width="10.9" height="10.1" fill="#0433ff"/><rect x="1201.6" y="47.9" width="10.9" height="10.1" fill="#0433ff"/><rect x="1190.7" y="37.8" width="10.9" height="10.1" fill="#0433ff"/><rect x="1237.8" y="37.8" width="10.9" height="10.1" fill="#ff2600"/><rect x="1237.8" y="27.6" width="10.9" height="10.1" fill="#ff2600"/><rect x="1248.7" y="37.8" width="10.9" height="10.1" fill="#ff2600"/><rect x="1237.8" y="47.9" width="10.9" height="10.1" fill="#0433ff"/><rect x="1226.9" y="37.8" width="10.9" height="10.1" fill="#0433ff"/><rect x="1274.1" y="37.8" width="10.9" height="10.1" fill="#ff2600"/><rect x="1274.1" y="27.6" width="10.9" height="10.1" fill="#ff2600"/><rect x="1285.0" y="37.8" width="10.9" height="10.1" fill="#0433ff"/><rect x="1274.1" y="47.9" width="10.9" height="10.1" fill="#ff2600"/><rect x="1263.2" y="37.8" width="10.9" height="10.1" fill="#0433ff"/><rect x="1310.3" y="37.8" width="10.9" height="10.1" fill="#ff2600"/><rect x="1310.3" y="27.6" width="10.9" height="10.1" fill="#ff2600"/><rect x="1321.2" y="37.8" width="10.9" height="10.1" fill="#ff2600"/><rect x="1310.3" y="47.9" width="10.9" height="10.1" fill="#ff2600"/><rect x="1299.4" y="37.8" width="10.9" height="10.1" fill="#0433ff"/><rect x="1346.6" y="37.8" width="10.9" height="10.1" fill="#ff2600"/><rect x="1346.6" y="27.6" width="10.9" height="10.1" fill="#ff2600"/><rect x="1357.5" y="37.8" width="10.9" height="10.1" fill="#ff2600"/><rect x="1346.6" y="47.9" width="10.9" height="10.1" fill="#ff2600"/><rect x="1335.7" y="37.8" width="10.9" height="10.1" fill="#ff2600"/></g>
<defs><pattern id="etex" width="13.200" height="13.200" patternUnits="userSpaceOnUse" patternTransform="translate(935,368)"><g fill="#fff" opacity="0.42"><circle cx="1.10" cy="1.10" r="1.15"/><circle cx="3.30" cy="3.30" r="1.15"/><circle cx="1.10" cy="5.50" r="1.15"/><circle cx="3.30" cy="7.70" r="1.15"/><circle cx="1.10" cy="9.90" r="1.15"/><circle cx="3.30" cy="12.10" r="1.15"/><circle cx="5.50" cy="1.10" r="1.15"/><circle cx="7.70" cy="3.30" r="1.15"/><circle cx="5.50" cy="5.50" r="1.15"/><circle cx="7.70" cy="7.70" r="1.15"/><circle cx="5.50" cy="9.90" r="1.15"/><circle cx="7.70" cy="12.10" r="1.15"/><circle cx="9.90" cy="1.10" r="1.15"/><circle cx="12.10" cy="3.30" r="1.15"/><circle cx="9.90" cy="5.50" r="1.15"/><circle cx="12.10" cy="7.70" r="1.15"/><circle cx="9.90" cy="9.90" r="1.15"/><circle cx="12.10" cy="12.10" r="1.15"/></g></pattern></defs>
<clipPath id="ec11"><rect x="934.9" y="367.7" width="223.9" height="223.9" rx="3.5"/></clipPath>
<g clip-path="url(#ec11)">
<rect x="934.9" y="367.7" width="223.9" height="223.9" fill="#e5443f"/>
<g transform="translate(934.9,367.7) rotate(45) translate(0,-158.32)">
<path d="M158.6 0.0h3.1v3.2h-3.1zM130.6 28.0h6.2v3.2h-6.2zM139.9 28.0h3.1v3.2h-3.1zM127.5 31.1h6.2v3.2h-6.2zM136.8 31.1h3.1v3.2h-3.1zM127.5 34.2h3.1v3.2h-3.1zM158.6 34.2h3.1v3.2h-3.1zM195.9 37.3h3.1v3.2h-3.1zM202.2 40.4h3.1v3.2h-3.1zM158.6 43.5h3.1v3.2h-3.1zM192.8 43.5h3.1v3.2h-3.1zM205.3 43.5h3.1v3.2h-3.1zM155.5 46.6h6.2v3.2h-6.2zM167.9 46.6h3.1v3.2h-3.1zM174.2 46.6h3.1v3.2h-3.1zM192.8 46.6h3.1v3.2h-3.1zM164.8 49.8h6.2v3.2h-6.2zM180.4 52.9h6.2v3.2h-6.2zM189.7 52.9h3.1v3.2h-3.1zM155.5 56.0h3.1v3.2h-3.1zM186.6 56.0h3.1v3.2h-3.1zM199.0 56.0h6.2v3.2h-6.2zM217.7 56.0h3.1v3.2h-3.1zM186.6 59.1h3.1v3.2h-3.1zM205.3 59.1h18.7v3.2h-18.7zM161.7 62.2h9.3v3.2h-9.3zM208.4 62.2h6.2v3.2h-6.2zM217.7 62.2h9.3v3.2h-9.3zM108.8 65.3h9.3v3.2h-9.3zM161.7 65.3h9.3v3.2h-9.3zM183.5 65.3h12.4v3.2h-12.4zM205.3 65.3h6.2v3.2h-6.2zM217.7 65.3h3.1v3.2h-3.1zM115.1 68.4h3.1v3.2h-3.1zM161.7 68.4h6.2v3.2h-6.2zM186.6 68.4h9.3v3.2h-9.3zM202.2 68.4h18.7v3.2h-18.7zM223.9 68.4h3.1v3.2h-3.1zM161.7 71.5h3.1v3.2h-3.1zM189.7 71.5h3.1v3.2h-3.1zM208.4 71.5h6.2v3.2h-6.2zM223.9 71.5h6.2v3.2h-6.2zM118.2 74.6h6.2v3.2h-6.2zM171.0 74.6h6.2v3.2h-6.2zM208.4 74.6h6.2v3.2h-6.2zM105.7 77.8h3.1v3.2h-3.1zM121.3 77.8h3.1v3.2h-3.1zM136.8 77.8h3.1v3.2h-3.1zM149.3 77.8h6.2v3.2h-6.2zM171.0 77.8h6.2v3.2h-6.2zM183.5 77.8h9.3v3.2h-9.3zM211.5 77.8h18.7v3.2h-18.7zM239.5 77.8h3.1v3.2h-3.1zM136.8 80.9h6.2v3.2h-6.2zM149.3 80.9h3.1v3.2h-3.1zM186.6 80.9h6.2v3.2h-6.2zM202.2 80.9h24.9v3.2h-24.9zM242.6 80.9h3.1v3.2h-3.1zM130.6 84.0h3.1v3.2h-3.1zM136.8 84.0h6.2v3.2h-6.2zM149.3 84.0h3.1v3.2h-3.1zM205.3 84.0h12.4v3.2h-12.4zM220.8 84.0h3.1v3.2h-3.1zM242.6 84.0h6.2v3.2h-6.2zM65.3 87.1h3.1v3.2h-3.1zM99.5 87.1h6.2v3.2h-6.2zM124.4 87.1h3.1v3.2h-3.1zM130.6 87.1h12.4v3.2h-12.4zM146.2 87.1h6.2v3.2h-6.2zM164.8 87.1h9.3v3.2h-9.3zM186.6 87.1h3.1v3.2h-3.1zM205.3 87.1h18.7v3.2h-18.7zM245.7 87.1h3.1v3.2h-3.1zM84.0 90.2h9.3v3.2h-9.3zM99.5 90.2h3.1v3.2h-3.1zM118.2 90.2h3.1v3.2h-3.1zM143.1 90.2h15.5v3.2h-15.5zM164.8 90.2h28.0v3.2h-28.0zM205.3 90.2h15.5v3.2h-15.5zM227.0 90.2h3.1v3.2h-3.1zM118.2 93.3h3.1v3.2h-3.1zM130.6 93.3h3.1v3.2h-3.1zM143.1 93.3h15.5v3.2h-15.5zM164.8 93.3h9.3v3.2h-9.3zM177.3 93.3h6.2v3.2h-6.2zM186.6 93.3h12.4v3.2h-12.4zM202.2 93.3h18.7v3.2h-18.7zM227.0 93.3h3.1v3.2h-3.1zM245.7 93.3h3.1v3.2h-3.1zM130.6 96.4h43.5v3.2h-43.5zM180.4 96.4h46.6v3.2h-46.6zM90.2 99.5h3.1v3.2h-3.1zM102.6 99.5h3.1v3.2h-3.1zM130.6 99.5h62.2v3.2h-62.2zM195.9 99.5h21.8v3.2h-21.8zM220.8 99.5h9.3v3.2h-9.3zM90.2 102.6h3.1v3.2h-3.1zM105.7 102.6h6.2v3.2h-6.2zM124.4 102.6h12.4v3.2h-12.4zM139.9 102.6h9.3v3.2h-9.3zM155.5 102.6h59.1v3.2h-59.1zM220.8 102.6h12.4v3.2h-12.4zM236.4 102.6h3.1v3.2h-3.1zM255.0 102.6h3.1v3.2h-3.1zM264.3 102.6h3.1v3.2h-3.1zM90.2 105.7h9.3v3.2h-9.3zM105.7 105.7h6.2v3.2h-6.2zM121.3 105.7h28.0v3.2h-28.0zM155.5 105.7h24.9v3.2h-24.9zM183.5 105.7h3.1v3.2h-3.1zM189.7 105.7h28.0v3.2h-28.0zM220.8 105.7h18.7v3.2h-18.7zM255.0 105.7h3.1v3.2h-3.1zM264.3 105.7h3.1v3.2h-3.1zM52.9 108.8h3.1v3.2h-3.1zM90.2 108.8h12.4v3.2h-12.4zM112.0 108.8h6.2v3.2h-6.2zM124.4 108.8h18.7v3.2h-18.7zM149.3 108.8h6.2v3.2h-6.2zM158.6 108.8h9.3v3.2h-9.3zM174.2 108.8h12.4v3.2h-12.4zM192.8 108.8h9.3v3.2h-9.3zM208.4 108.8h31.1v3.2h-31.1zM242.6 108.8h3.1v3.2h-3.1zM255.0 108.8h3.1v3.2h-3.1zM261.2 108.8h6.2v3.2h-6.2zM80.9 112.0h9.3v3.2h-9.3zM93.3 112.0h12.4v3.2h-12.4zM124.4 112.0h3.1v3.2h-3.1zM149.3 112.0h6.2v3.2h-6.2zM158.6 112.0h12.4v3.2h-12.4zM174.2 112.0h68.4v3.2h-68.4zM56.0 115.1h6.2v3.2h-6.2zM71.5 115.1h6.2v3.2h-6.2zM80.9 115.1h24.9v3.2h-24.9zM146.2 115.1h24.9v3.2h-24.9zM177.3 115.1h3.1v3.2h-3.1zM183.5 115.1h37.3v3.2h-37.3zM223.9 115.1h18.7v3.2h-18.7zM49.8 118.2h3.1v3.2h-3.1zM59.1 118.2h6.2v3.2h-6.2zM71.5 118.2h6.2v3.2h-6.2zM80.9 118.2h6.2v3.2h-6.2zM90.2 118.2h21.8v3.2h-21.8zM118.2 118.2h3.1v3.2h-3.1zM149.3 118.2h6.2v3.2h-6.2zM158.6 118.2h12.4v3.2h-12.4zM177.3 118.2h3.1v3.2h-3.1zM183.5 118.2h37.3v3.2h-37.3zM227.0 118.2h3.1v3.2h-3.1zM233.2 118.2h3.1v3.2h-3.1zM239.5 118.2h3.1v3.2h-3.1zM255.0 118.2h6.2v3.2h-6.2zM43.5 121.3h9.3v3.2h-9.3zM59.1 121.3h9.3v3.2h-9.3zM80.9 121.3h34.2v3.2h-34.2zM118.2 121.3h9.3v3.2h-9.3zM155.5 121.3h9.3v3.2h-9.3zM167.9 121.3h43.5v3.2h-43.5zM214.6 121.3h6.2v3.2h-6.2zM230.1 121.3h3.1v3.2h-3.1zM239.5 121.3h6.2v3.2h-6.2zM248.8 121.3h3.1v3.2h-3.1zM273.7 121.3h12.4v3.2h-12.4zM34.2 124.4h9.3v3.2h-9.3zM59.1 124.4h9.3v3.2h-9.3zM80.9 124.4h3.1v3.2h-3.1zM90.2 124.4h28.0v3.2h-28.0zM136.8 124.4h3.1v3.2h-3.1zM164.8 124.4h3.1v3.2h-3.1zM174.2 124.4h37.3v3.2h-37.3zM214.6 124.4h6.2v3.2h-6.2zM230.1 124.4h3.1v3.2h-3.1zM242.6 124.4h3.1v3.2h-3.1zM248.8 124.4h6.2v3.2h-6.2zM273.7 124.4h6.2v3.2h-6.2zM34.2 127.5h6.2v3.2h-6.2zM43.5 127.5h3.1v3.2h-3.1zM59.1 127.5h12.4v3.2h-12.4zM93.3 127.5h3.1v3.2h-3.1zM99.5 127.5h18.7v3.2h-18.7zM161.7 127.5h3.1v3.2h-3.1zM171.0 127.5h43.5v3.2h-43.5zM230.1 127.5h6.2v3.2h-6.2zM242.6 127.5h3.1v3.2h-3.1zM258.1 127.5h3.1v3.2h-3.1zM264.3 127.5h3.1v3.2h-3.1zM276.8 127.5h3.1v3.2h-3.1zM31.1 130.6h6.2v3.2h-6.2zM46.6 130.6h3.1v3.2h-3.1zM59.1 130.6h6.2v3.2h-6.2zM68.4 130.6h3.1v3.2h-3.1zM74.6 130.6h3.1v3.2h-3.1zM84.0 130.6h12.4v3.2h-12.4zM102.6 130.6h12.4v3.2h-12.4zM143.1 130.6h3.1v3.2h-3.1zM152.4 130.6h3.1v3.2h-3.1zM167.9 130.6h46.6v3.2h-46.6zM227.0 130.6h9.3v3.2h-9.3zM239.5 130.6h12.4v3.2h-12.4zM258.1 130.6h3.1v3.2h-3.1zM264.3 130.6h3.1v3.2h-3.1zM276.8 130.6h6.2v3.2h-6.2zM292.3 130.6h3.1v3.2h-3.1zM31.1 133.7h3.1v3.2h-3.1zM56.0 133.7h9.3v3.2h-9.3zM77.8 133.7h3.1v3.2h-3.1zM84.0 133.7h31.1v3.2h-31.1zM143.1 133.7h3.1v3.2h-3.1zM167.9 133.7h12.4v3.2h-12.4zM183.5 133.7h34.2v3.2h-34.2zM223.9 133.7h9.3v3.2h-9.3zM239.5 133.7h3.1v3.2h-3.1zM248.8 133.7h3.1v3.2h-3.1zM258.1 133.7h15.5v3.2h-15.5zM276.8 133.7h9.3v3.2h-9.3zM292.3 133.7h3.1v3.2h-3.1zM31.1 136.8h3.1v3.2h-3.1zM49.8 136.8h3.1v3.2h-3.1zM56.0 136.8h12.4v3.2h-12.4zM77.8 136.8h28.0v3.2h-28.0zM158.6 136.8h21.8v3.2h-21.8zM186.6 136.8h28.0v3.2h-28.0zM230.1 136.8h6.2v3.2h-6.2zM258.1 136.8h15.5v3.2h-15.5zM279.9 136.8h6.2v3.2h-6.2zM292.3 136.8h3.1v3.2h-3.1zM298.6 136.8h3.1v3.2h-3.1zM31.1 139.9h3.1v3.2h-3.1zM43.5 139.9h9.3v3.2h-9.3zM62.2 139.9h9.3v3.2h-9.3zM74.6 139.9h12.4v3.2h-12.4zM93.3 139.9h6.2v3.2h-6.2zM102.6 139.9h6.2v3.2h-6.2zM112.0 139.9h3.1v3.2h-3.1zM149.3 139.9h3.1v3.2h-3.1zM161.7 139.9h6.2v3.2h-6.2zM186.6 139.9h15.5v3.2h-15.5zM205.3 139.9h3.1v3.2h-3.1zM230.1 139.9h6.2v3.2h-6.2zM261.2 139.9h3.1v3.2h-3.1zM267.5 139.9h6.2v3.2h-6.2zM292.3 139.9h9.3v3.2h-9.3zM43.5 143.1h6.2v3.2h-6.2zM62.2 143.1h9.3v3.2h-9.3zM80.9 143.1h6.2v3.2h-6.2zM90.2 143.1h12.4v3.2h-12.4zM149.3 143.1h3.1v3.2h-3.1zM158.6 143.1h6.2v3.2h-6.2zM192.8 143.1h24.9v3.2h-24.9zM227.0 143.1h3.1v3.2h-3.1zM233.2 143.1h6.2v3.2h-6.2zM245.7 143.1h9.3v3.2h-9.3zM264.3 143.1h15.5v3.2h-15.5zM289.2 143.1h12.4v3.2h-12.4zM9.3 146.2h3.1v3.2h-3.1zM43.5 146.2h12.4v3.2h-12.4zM62.2 146.2h9.3v3.2h-9.3zM90.2 146.2h3.1v3.2h-3.1zM118.2 146.2h6.2v3.2h-6.2zM152.4 146.2h3.1v3.2h-3.1zM161.7 146.2h3.1v3.2h-3.1zM174.2 146.2h3.1v3.2h-3.1zM192.8 146.2h24.9v3.2h-24.9zM233.2 146.2h6.2v3.2h-6.2zM245.7 146.2h12.4v3.2h-12.4zM264.3 146.2h12.4v3.2h-12.4zM289.2 146.2h9.3v3.2h-9.3zM301.7 146.2h3.1v3.2h-3.1zM34.2 149.3h6.2v3.2h-6.2zM49.8 149.3h3.1v3.2h-3.1zM90.2 149.3h3.1v3.2h-3.1zM96.4 149.3h3.1v3.2h-3.1zM161.7 149.3h6.2v3.2h-6.2zM171.0 149.3h6.2v3.2h-6.2zM192.8 149.3h18.7v3.2h-18.7zM217.7 149.3h3.1v3.2h-3.1zM239.5 149.3h6.2v3.2h-6.2zM248.8 149.3h9.3v3.2h-9.3zM261.2 149.3h6.2v3.2h-6.2zM273.7 149.3h3.1v3.2h-3.1zM283.0 149.3h18.7v3.2h-18.7zM304.8 149.3h6.2v3.2h-6.2zM46.6 152.4h3.1v3.2h-3.1zM80.9 152.4h6.2v3.2h-6.2zM93.3 152.4h9.3v3.2h-9.3zM112.0 152.4h3.1v3.2h-3.1zM152.4 152.4h3.1v3.2h-3.1zM164.8 152.4h3.1v3.2h-3.1zM171.0 152.4h12.4v3.2h-12.4zM192.8 152.4h12.4v3.2h-12.4zM208.4 152.4h6.2v3.2h-6.2zM217.7 152.4h9.3v3.2h-9.3zM239.5 152.4h6.2v3.2h-6.2zM251.9 152.4h46.6v3.2h-46.6zM34.2 155.5h6.2v3.2h-6.2zM43.5 155.5h3.1v3.2h-3.1zM77.8 155.5h9.3v3.2h-9.3zM90.2 155.5h12.4v3.2h-12.4zM112.0 155.5h3.1v3.2h-3.1zM152.4 155.5h3.1v3.2h-3.1zM177.3 155.5h3.1v3.2h-3.1zM189.7 155.5h12.4v3.2h-12.4zM208.4 155.5h6.2v3.2h-6.2zM217.7 155.5h3.1v3.2h-3.1zM251.9 155.5h6.2v3.2h-6.2zM261.2 155.5h9.3v3.2h-9.3zM276.8 155.5h21.8v3.2h-21.8zM304.8 155.5h3.1v3.2h-3.1zM18.7 158.6h3.1v3.2h-3.1zM28.0 158.6h3.1v3.2h-3.1zM34.2 158.6h6.2v3.2h-6.2zM87.1 158.6h12.4v3.2h-12.4zM167.9 158.6h15.5v3.2h-15.5zM192.8 158.6h6.2v3.2h-6.2zM208.4 158.6h3.1v3.2h-3.1zM217.7 158.6h6.2v3.2h-6.2zM255.0 158.6h3.1v3.2h-3.1zM270.6 158.6h24.9v3.2h-24.9zM298.6 158.6h6.2v3.2h-6.2zM311.0 158.6h6.2v3.2h-6.2zM18.7 161.7h6.2v3.2h-6.2zM28.0 161.7h24.9v3.2h-24.9zM65.3 161.7h3.1v3.2h-3.1zM74.6 161.7h3.1v3.2h-3.1zM84.0 161.7h15.5v3.2h-15.5zM112.0 161.7h6.2v3.2h-6.2zM124.4 161.7h9.3v3.2h-9.3zM155.5 161.7h3.1v3.2h-3.1zM167.9 161.7h3.1v3.2h-3.1zM174.2 161.7h9.3v3.2h-9.3zM186.6 161.7h3.1v3.2h-3.1zM202.2 161.7h3.1v3.2h-3.1zM217.7 161.7h9.3v3.2h-9.3zM251.9 161.7h6.2v3.2h-6.2zM273.7 161.7h6.2v3.2h-6.2zM298.6 161.7h3.1v3.2h-3.1zM314.1 161.7h3.1v3.2h-3.1zM21.8 164.8h3.1v3.2h-3.1zM80.9 164.8h6.2v3.2h-6.2zM93.3 164.8h6.2v3.2h-6.2zM108.8 164.8h24.9v3.2h-24.9zM158.6 164.8h18.7v3.2h-18.7zM180.4 164.8h9.3v3.2h-9.3zM195.9 164.8h6.2v3.2h-6.2zM208.4 164.8h3.1v3.2h-3.1zM220.8 164.8h6.2v3.2h-6.2zM239.5 164.8h3.1v3.2h-3.1zM255.0 164.8h3.1v3.2h-3.1zM273.7 164.8h6.2v3.2h-6.2zM304.8 164.8h3.1v3.2h-3.1zM9.3 167.9h6.2v3.2h-6.2zM59.1 167.9h3.1v3.2h-3.1zM74.6 167.9h9.3v3.2h-9.3zM87.1 167.9h3.1v3.2h-3.1zM96.4 167.9h3.1v3.2h-3.1zM108.8 167.9h28.0v3.2h-28.0zM152.4 167.9h21.8v3.2h-21.8zM180.4 167.9h9.3v3.2h-9.3zM199.0 167.9h3.1v3.2h-3.1zM205.3 167.9h21.8v3.2h-21.8zM239.5 167.9h3.1v3.2h-3.1zM258.1 167.9h3.1v3.2h-3.1zM283.0 167.9h3.1v3.2h-3.1zM292.3 167.9h6.2v3.2h-6.2zM304.8 167.9h3.1v3.2h-3.1zM9.3 171.0h6.2v3.2h-6.2zM37.3 171.0h12.4v3.2h-12.4zM59.1 171.0h3.1v3.2h-3.1zM65.3 171.0h12.4v3.2h-12.4zM80.9 171.0h3.1v3.2h-3.1zM96.4 171.0h6.2v3.2h-6.2zM105.7 171.0h15.5v3.2h-15.5zM124.4 171.0h15.5v3.2h-15.5zM149.3 171.0h28.0v3.2h-28.0zM180.4 171.0h12.4v3.2h-12.4zM199.0 171.0h15.5v3.2h-15.5zM217.7 171.0h9.3v3.2h-9.3zM230.1 171.0h6.2v3.2h-6.2zM239.5 171.0h6.2v3.2h-6.2zM251.9 171.0h6.2v3.2h-6.2zM283.0 171.0h3.1v3.2h-3.1zM292.3 171.0h15.5v3.2h-15.5zM43.5 174.2h12.4v3.2h-12.4zM65.3 174.2h12.4v3.2h-12.4zM93.3 174.2h12.4v3.2h-12.4zM108.8 174.2h3.1v3.2h-3.1zM115.1 174.2h6.2v3.2h-6.2zM124.4 174.2h46.6v3.2h-46.6zM180.4 174.2h28.0v3.2h-28.0zM211.5 174.2h6.2v3.2h-6.2zM220.8 174.2h9.3v3.2h-9.3zM233.2 174.2h15.5v3.2h-15.5zM255.0 174.2h3.1v3.2h-3.1zM283.0 174.2h21.8v3.2h-21.8zM52.9 177.3h9.3v3.2h-9.3zM68.4 177.3h3.1v3.2h-3.1zM74.6 177.3h3.1v3.2h-3.1zM84.0 177.3h18.7v3.2h-18.7zM108.8 177.3h6.2v3.2h-6.2zM124.4 177.3h37.3v3.2h-37.3zM164.8 177.3h3.1v3.2h-3.1zM180.4 177.3h21.8v3.2h-21.8zM208.4 177.3h9.3v3.2h-9.3zM220.8 177.3h9.3v3.2h-9.3zM242.6 177.3h9.3v3.2h-9.3zM255.0 177.3h6.2v3.2h-6.2zM283.0 177.3h15.5v3.2h-15.5zM49.8 180.4h6.2v3.2h-6.2zM59.1 180.4h3.1v3.2h-3.1zM74.6 180.4h6.2v3.2h-6.2zM84.0 180.4h6.2v3.2h-6.2zM96.4 180.4h9.3v3.2h-9.3zM112.0 180.4h3.1v3.2h-3.1zM118.2 180.4h43.5v3.2h-43.5zM164.8 180.4h24.9v3.2h-24.9zM195.9 180.4h40.4v3.2h-40.4zM255.0 180.4h3.1v3.2h-3.1zM270.6 180.4h3.1v3.2h-3.1zM292.3 180.4h3.1v3.2h-3.1zM21.8 183.5h3.1v3.2h-3.1zM49.8 183.5h6.2v3.2h-6.2zM62.2 183.5h3.1v3.2h-3.1zM68.4 183.5h12.4v3.2h-12.4zM84.0 183.5h9.3v3.2h-9.3zM118.2 183.5h112.0v3.2h-112.0zM233.2 183.5h12.4v3.2h-12.4zM255.0 183.5h3.1v3.2h-3.1zM267.5 183.5h3.1v3.2h-3.1zM24.9 186.6h3.1v3.2h-3.1zM49.8 186.6h6.2v3.2h-6.2zM62.2 186.6h6.2v3.2h-6.2zM71.5 186.6h6.2v3.2h-6.2zM84.0 186.6h9.3v3.2h-9.3zM130.6 186.6h99.5v3.2h-99.5zM233.2 186.6h12.4v3.2h-12.4zM276.8 186.6h3.1v3.2h-3.1zM28.0 189.7h12.4v3.2h-12.4zM49.8 189.7h9.3v3.2h-9.3zM62.2 189.7h6.2v3.2h-6.2zM87.1 189.7h6.2v3.2h-6.2zM118.2 189.7h12.4v3.2h-12.4zM133.7 189.7h34.2v3.2h-34.2zM171.0 189.7h9.3v3.2h-9.3zM186.6 189.7h9.3v3.2h-9.3zM202.2 189.7h6.2v3.2h-6.2zM211.5 189.7h9.3v3.2h-9.3zM223.9 189.7h6.2v3.2h-6.2zM245.7 189.7h9.3v3.2h-9.3zM286.1 189.7h3.1v3.2h-3.1zM31.1 192.8h6.2v3.2h-6.2zM49.8 192.8h9.3v3.2h-9.3zM65.3 192.8h3.1v3.2h-3.1zM87.1 192.8h3.1v3.2h-3.1zM118.2 192.8h3.1v3.2h-3.1zM124.4 192.8h37.3v3.2h-37.3zM171.0 192.8h3.1v3.2h-3.1zM177.3 192.8h6.2v3.2h-6.2zM202.2 192.8h3.1v3.2h-3.1zM208.4 192.8h9.3v3.2h-9.3zM220.8 192.8h6.2v3.2h-6.2zM236.4 192.8h6.2v3.2h-6.2zM49.8 195.9h3.1v3.2h-3.1zM56.0 195.9h3.1v3.2h-3.1zM65.3 195.9h9.3v3.2h-9.3zM87.1 195.9h3.1v3.2h-3.1zM96.4 195.9h9.3v3.2h-9.3zM124.4 195.9h31.1v3.2h-31.1zM167.9 195.9h3.1v3.2h-3.1zM174.2 195.9h3.1v3.2h-3.1zM220.8 195.9h6.2v3.2h-6.2zM230.1 195.9h12.4v3.2h-12.4zM248.8 195.9h6.2v3.2h-6.2zM56.0 199.0h15.5v3.2h-15.5zM96.4 199.0h3.1v3.2h-3.1zM102.6 199.0h6.2v3.2h-6.2zM124.4 199.0h6.2v3.2h-6.2zM136.8 199.0h18.7v3.2h-18.7zM167.9 199.0h3.1v3.2h-3.1zM195.9 199.0h6.2v3.2h-6.2zM220.8 199.0h9.3v3.2h-9.3zM264.3 199.0h3.1v3.2h-3.1zM46.6 202.2h21.8v3.2h-21.8zM74.6 202.2h6.2v3.2h-6.2zM93.3 202.2h6.2v3.2h-6.2zM102.6 202.2h9.3v3.2h-9.3zM124.4 202.2h6.2v3.2h-6.2zM136.8 202.2h12.4v3.2h-12.4zM161.7 202.2h12.4v3.2h-12.4zM180.4 202.2h3.1v3.2h-3.1zM192.8 202.2h6.2v3.2h-6.2zM208.4 202.2h9.3v3.2h-9.3zM258.1 202.2h9.3v3.2h-9.3zM270.6 202.2h6.2v3.2h-6.2zM49.8 205.3h3.1v3.2h-3.1zM56.0 205.3h6.2v3.2h-6.2zM65.3 205.3h9.3v3.2h-9.3zM87.1 205.3h12.4v3.2h-12.4zM105.7 205.3h3.1v3.2h-3.1zM164.8 205.3h9.3v3.2h-9.3zM183.5 205.3h3.1v3.2h-3.1zM208.4 205.3h15.5v3.2h-15.5zM230.1 205.3h6.2v3.2h-6.2zM245.7 205.3h9.3v3.2h-9.3zM270.6 205.3h3.1v3.2h-3.1zM46.6 208.4h6.2v3.2h-6.2zM59.1 208.4h3.1v3.2h-3.1zM68.4 208.4h6.2v3.2h-6.2zM77.8 208.4h3.1v3.2h-3.1zM87.1 208.4h6.2v3.2h-6.2zM96.4 208.4h12.4v3.2h-12.4zM112.0 208.4h6.2v3.2h-6.2zM183.5 208.4h3.1v3.2h-3.1zM199.0 208.4h24.9v3.2h-24.9zM233.2 208.4h3.1v3.2h-3.1zM251.9 208.4h3.1v3.2h-3.1zM59.1 211.5h6.2v3.2h-6.2zM87.1 211.5h6.2v3.2h-6.2zM96.4 211.5h9.3v3.2h-9.3zM155.5 211.5h3.1v3.2h-3.1zM199.0 211.5h3.1v3.2h-3.1zM208.4 211.5h12.4v3.2h-12.4zM52.9 214.6h3.1v3.2h-3.1zM65.3 214.6h3.1v3.2h-3.1zM84.0 214.6h3.1v3.2h-3.1zM90.2 214.6h18.7v3.2h-18.7zM121.3 214.6h3.1v3.2h-3.1zM136.8 214.6h9.3v3.2h-9.3zM155.5 214.6h3.1v3.2h-3.1zM177.3 214.6h6.2v3.2h-6.2zM202.2 214.6h15.5v3.2h-15.5zM223.9 214.6h9.3v3.2h-9.3zM261.2 214.6h3.1v3.2h-3.1zM65.3 217.7h3.1v3.2h-3.1zM93.3 217.7h21.8v3.2h-21.8zM121.3 217.7h6.2v3.2h-6.2zM136.8 217.7h3.1v3.2h-3.1zM158.6 217.7h3.1v3.2h-3.1zM180.4 217.7h3.1v3.2h-3.1zM195.9 217.7h3.1v3.2h-3.1zM202.2 217.7h12.4v3.2h-12.4zM255.0 217.7h3.1v3.2h-3.1zM62.2 220.8h3.1v3.2h-3.1zM96.4 220.8h18.7v3.2h-18.7zM121.3 220.8h18.7v3.2h-18.7zM183.5 220.8h6.2v3.2h-6.2zM195.9 220.8h6.2v3.2h-6.2zM208.4 220.8h6.2v3.2h-6.2zM220.8 220.8h3.1v3.2h-3.1zM227.0 220.8h3.1v3.2h-3.1zM62.2 223.9h3.1v3.2h-3.1zM108.8 223.9h6.2v3.2h-6.2zM121.3 223.9h31.1v3.2h-31.1zM180.4 223.9h3.1v3.2h-3.1zM214.6 223.9h3.1v3.2h-3.1zM227.0 223.9h3.1v3.2h-3.1zM233.2 223.9h3.1v3.2h-3.1zM245.7 223.9h3.1v3.2h-3.1zM87.1 227.0h3.1v3.2h-3.1zM93.3 227.0h3.1v3.2h-3.1zM108.8 227.0h9.3v3.2h-9.3zM127.5 227.0h3.1v3.2h-3.1zM136.8 227.0h18.7v3.2h-18.7zM177.3 227.0h6.2v3.2h-6.2zM199.0 227.0h6.2v3.2h-6.2zM211.5 227.0h6.2v3.2h-6.2zM220.8 227.0h3.1v3.2h-3.1zM227.0 227.0h3.1v3.2h-3.1zM245.7 227.0h3.1v3.2h-3.1zM87.1 230.1h3.1v3.2h-3.1zM93.3 230.1h3.1v3.2h-3.1zM99.5 230.1h3.1v3.2h-3.1zM105.7 230.1h12.4v3.2h-12.4zM127.5 230.1h6.2v3.2h-6.2zM139.9 230.1h6.2v3.2h-6.2zM149.3 230.1h6.2v3.2h-6.2zM177.3 230.1h3.1v3.2h-3.1zM183.5 230.1h3.1v3.2h-3.1zM202.2 230.1h3.1v3.2h-3.1zM211.5 230.1h6.2v3.2h-6.2zM220.8 230.1h12.4v3.2h-12.4zM236.4 230.1h3.1v3.2h-3.1zM245.7 230.1h3.1v3.2h-3.1zM87.1 233.2h6.2v3.2h-6.2zM108.8 233.2h6.2v3.2h-6.2zM127.5 233.2h12.4v3.2h-12.4zM149.3 233.2h6.2v3.2h-6.2zM183.5 233.2h3.1v3.2h-3.1zM223.9 233.2h6.2v3.2h-6.2zM74.6 236.4h9.3v3.2h-9.3zM87.1 236.4h9.3v3.2h-9.3zM112.0 236.4h3.1v3.2h-3.1zM136.8 236.4h3.1v3.2h-3.1zM143.1 236.4h9.3v3.2h-9.3zM155.5 236.4h6.2v3.2h-6.2zM186.6 236.4h3.1v3.2h-3.1zM208.4 236.4h3.1v3.2h-3.1zM214.6 236.4h9.3v3.2h-9.3zM77.8 239.5h18.7v3.2h-18.7zM102.6 239.5h3.1v3.2h-3.1zM143.1 239.5h6.2v3.2h-6.2zM155.5 239.5h6.2v3.2h-6.2zM186.6 239.5h15.5v3.2h-15.5zM208.4 239.5h3.1v3.2h-3.1zM214.6 239.5h3.1v3.2h-3.1zM223.9 239.5h3.1v3.2h-3.1zM80.9 242.6h15.5v3.2h-15.5zM102.6 242.6h3.1v3.2h-3.1zM139.9 242.6h9.3v3.2h-9.3zM152.4 242.6h9.3v3.2h-9.3zM164.8 242.6h3.1v3.2h-3.1zM174.2 242.6h15.5v3.2h-15.5zM192.8 242.6h9.3v3.2h-9.3zM205.3 242.6h6.2v3.2h-6.2zM84.0 245.7h12.4v3.2h-12.4zM102.6 245.7h3.1v3.2h-3.1zM112.0 245.7h9.3v3.2h-9.3zM133.7 245.7h12.4v3.2h-12.4zM152.4 245.7h9.3v3.2h-9.3zM164.8 245.7h3.1v3.2h-3.1zM174.2 245.7h12.4v3.2h-12.4zM199.0 245.7h3.1v3.2h-3.1zM205.3 245.7h3.1v3.2h-3.1zM214.6 245.7h6.2v3.2h-6.2zM227.0 245.7h6.2v3.2h-6.2zM87.1 248.8h12.4v3.2h-12.4zM102.6 248.8h3.1v3.2h-3.1zM115.1 248.8h3.1v3.2h-3.1zM133.7 248.8h12.4v3.2h-12.4zM152.4 248.8h3.1v3.2h-3.1zM158.6 248.8h3.1v3.2h-3.1zM164.8 248.8h3.1v3.2h-3.1zM177.3 248.8h6.2v3.2h-6.2zM202.2 248.8h12.4v3.2h-12.4zM220.8 248.8h9.3v3.2h-9.3zM90.2 251.9h6.2v3.2h-6.2zM115.1 251.9h3.1v3.2h-3.1zM121.3 251.9h18.7v3.2h-18.7zM180.4 251.9h6.2v3.2h-6.2zM195.9 251.9h3.1v3.2h-3.1zM223.9 251.9h3.1v3.2h-3.1zM93.3 255.0h3.1v3.2h-3.1zM102.6 255.0h6.2v3.2h-6.2zM115.1 255.0h9.3v3.2h-9.3zM127.5 255.0h3.1v3.2h-3.1zM155.5 255.0h6.2v3.2h-6.2zM180.4 255.0h3.1v3.2h-3.1zM96.4 258.1h3.1v3.2h-3.1zM102.6 258.1h9.3v3.2h-9.3zM115.1 258.1h3.1v3.2h-3.1zM121.3 258.1h6.2v3.2h-6.2zM146.2 258.1h3.1v3.2h-3.1zM155.5 258.1h6.2v3.2h-6.2zM105.7 261.2h9.3v3.2h-9.3zM130.6 261.2h6.2v3.2h-6.2zM102.6 264.3h9.3v3.2h-9.3zM118.2 264.3h21.8v3.2h-21.8zM174.2 264.3h3.1v3.2h-3.1zM189.7 264.3h3.1v3.2h-3.1zM105.7 267.5h21.8v3.2h-21.8zM130.6 267.5h6.2v3.2h-6.2zM174.2 267.5h6.2v3.2h-6.2zM115.1 270.6h3.1v3.2h-3.1zM124.4 270.6h3.1v3.2h-3.1zM149.3 270.6h9.3v3.2h-9.3zM174.2 270.6h6.2v3.2h-6.2zM189.7 270.6h3.1v3.2h-3.1zM115.1 273.7h6.2v3.2h-6.2zM124.4 273.7h3.1v3.2h-3.1zM133.7 273.7h3.1v3.2h-3.1zM149.3 273.7h6.2v3.2h-6.2zM167.9 273.7h3.1v3.2h-3.1zM174.2 273.7h6.2v3.2h-6.2zM189.7 273.7h3.1v3.2h-3.1zM202.2 273.7h3.1v3.2h-3.1zM127.5 276.8h21.8v3.2h-21.8zM171.0 276.8h9.3v3.2h-9.3zM192.8 276.8h6.2v3.2h-6.2zM127.5 279.9h6.2v3.2h-6.2zM136.8 279.9h24.9v3.2h-24.9zM171.0 279.9h9.3v3.2h-9.3zM189.7 279.9h3.1v3.2h-3.1zM130.6 283.0h24.9v3.2h-24.9zM174.2 283.0h9.3v3.2h-9.3zM130.6 286.1h6.2v3.2h-6.2zM139.9 286.1h15.5v3.2h-15.5zM127.5 289.2h21.8v3.2h-21.8zM152.4 289.2h3.1v3.2h-3.1zM130.6 292.3h9.3v3.2h-9.3zM143.1 292.3h15.5v3.2h-15.5zM167.9 292.3h3.1v3.2h-3.1zM133.7 295.4h24.9v3.2h-24.9zM139.9 298.6h9.3v3.2h-9.3zM139.9 301.7h3.1v3.2h-3.1zM146.2 307.9h3.1v3.2h-3.1zM164.8 307.9h6.2v3.2h-6.2zM164.8 311.0h3.1v3.2h-3.1z" fill="#3e3ede"/>
</g>
<rect x="934.9" y="367.7" width="223.9" height="223.9" fill="url(#etex)"/>
<rect x="935.5" y="368.3" width="222.70000000000002" height="222.70000000000002" rx="3.2" fill="none" stroke="#d84646" stroke-width="1.4" opacity="0.7"/>
</g>
<rect x="1073" y="371" width="84" height="34.2" fill="#fff"/>
<g font-family="'Liberation Sans',sans-serif" font-weight="bold" font-size="19.5" fill="#111"><text x="1083.2" y="396" font-style="italic">T</text><text x="1096.6" y="389.6" font-size="9.5">*</text><text x="1100.6" y="396">=0.75</text></g>
<clipPath id="ec12"><rect x="1171.5" y="367.7" width="223.2" height="223.2" rx="3.5"/></clipPath>
<g clip-path="url(#ec12)">
<rect x="1171.5" y="367.7" width="223.2" height="223.2" fill="#e5443f"/>
<g transform="translate(1171.5,367.7) rotate(45) translate(0,-157.83)">
<path d="M143.1 6.2h3.1v3.2h-3.1zM143.1 9.3h3.1v3.2h-3.1zM171.0 9.3h3.1v3.2h-3.1zM146.2 12.4h9.3v3.2h-9.3zM158.6 12.4h9.3v3.2h-9.3zM139.9 15.5h3.1v3.2h-3.1zM149.3 15.5h6.2v3.2h-6.2zM167.9 15.5h9.3v3.2h-9.3zM167.9 18.7h9.3v3.2h-9.3zM161.7 21.8h6.2v3.2h-6.2zM177.3 21.8h3.1v3.2h-3.1zM139.9 24.9h3.1v3.2h-3.1zM146.2 24.9h3.1v3.2h-3.1zM155.5 24.9h12.4v3.2h-12.4zM133.7 28.0h3.1v3.2h-3.1zM139.9 28.0h3.1v3.2h-3.1zM155.5 28.0h3.1v3.2h-3.1zM161.7 28.0h6.2v3.2h-6.2zM189.7 28.0h3.1v3.2h-3.1zM118.2 31.1h3.1v3.2h-3.1zM133.7 31.1h3.1v3.2h-3.1zM152.4 31.1h9.3v3.2h-9.3zM164.8 31.1h6.2v3.2h-6.2zM177.3 31.1h18.7v3.2h-18.7zM130.6 34.2h3.1v3.2h-3.1zM174.2 34.2h24.9v3.2h-24.9zM183.5 37.3h12.4v3.2h-12.4zM167.9 40.4h3.1v3.2h-3.1zM180.4 40.4h24.9v3.2h-24.9zM180.4 43.5h24.9v3.2h-24.9zM115.1 46.6h6.2v3.2h-6.2zM167.9 46.6h3.1v3.2h-3.1zM183.5 46.6h18.7v3.2h-18.7zM121.3 49.8h3.1v3.2h-3.1zM164.8 49.8h3.1v3.2h-3.1zM183.5 49.8h18.7v3.2h-18.7zM161.7 52.9h9.3v3.2h-9.3zM177.3 52.9h15.5v3.2h-15.5zM211.5 52.9h6.2v3.2h-6.2zM164.8 56.0h21.8v3.2h-21.8zM161.7 59.1h3.1v3.2h-3.1zM171.0 59.1h6.2v3.2h-6.2zM202.2 59.1h9.3v3.2h-9.3zM105.7 62.2h3.1v3.2h-3.1zM186.6 62.2h12.4v3.2h-12.4zM205.3 62.2h6.2v3.2h-6.2zM84.0 65.3h9.3v3.2h-9.3zM102.6 65.3h6.2v3.2h-6.2zM115.1 65.3h3.1v3.2h-3.1zM164.8 65.3h3.1v3.2h-3.1zM186.6 65.3h3.1v3.2h-3.1zM223.9 65.3h6.2v3.2h-6.2zM87.1 68.4h15.5v3.2h-15.5zM105.7 68.4h3.1v3.2h-3.1zM164.8 68.4h3.1v3.2h-3.1zM189.7 68.4h6.2v3.2h-6.2zM202.2 68.4h3.1v3.2h-3.1zM208.4 68.4h3.1v3.2h-3.1zM223.9 68.4h9.3v3.2h-9.3zM90.2 71.5h12.4v3.2h-12.4zM121.3 71.5h3.1v3.2h-3.1zM158.6 71.5h12.4v3.2h-12.4zM183.5 71.5h9.3v3.2h-9.3zM202.2 71.5h9.3v3.2h-9.3zM93.3 74.6h3.1v3.2h-3.1zM102.6 74.6h3.1v3.2h-3.1zM115.1 74.6h6.2v3.2h-6.2zM155.5 74.6h3.1v3.2h-3.1zM167.9 74.6h3.1v3.2h-3.1zM183.5 74.6h9.3v3.2h-9.3zM233.2 74.6h6.2v3.2h-6.2zM77.8 77.8h3.1v3.2h-3.1zM90.2 77.8h6.2v3.2h-6.2zM102.6 77.8h9.3v3.2h-9.3zM118.2 77.8h3.1v3.2h-3.1zM155.5 77.8h6.2v3.2h-6.2zM183.5 77.8h9.3v3.2h-9.3zM220.8 77.8h3.1v3.2h-3.1zM230.1 77.8h9.3v3.2h-9.3zM90.2 80.9h6.2v3.2h-6.2zM108.8 80.9h3.1v3.2h-3.1zM155.5 80.9h9.3v3.2h-9.3zM177.3 80.9h3.1v3.2h-3.1zM217.7 80.9h15.5v3.2h-15.5zM77.8 84.0h3.1v3.2h-3.1zM87.1 84.0h3.1v3.2h-3.1zM96.4 84.0h3.1v3.2h-3.1zM108.8 84.0h6.2v3.2h-6.2zM152.4 84.0h12.4v3.2h-12.4zM174.2 84.0h6.2v3.2h-6.2zM183.5 84.0h6.2v3.2h-6.2zM195.9 84.0h3.1v3.2h-3.1zM208.4 84.0h3.1v3.2h-3.1zM217.7 84.0h15.5v3.2h-15.5zM242.6 84.0h6.2v3.2h-6.2zM74.6 87.1h3.1v3.2h-3.1zM90.2 87.1h3.1v3.2h-3.1zM96.4 87.1h3.1v3.2h-3.1zM105.7 87.1h12.4v3.2h-12.4zM155.5 87.1h15.5v3.2h-15.5zM174.2 87.1h3.1v3.2h-3.1zM183.5 87.1h6.2v3.2h-6.2zM202.2 87.1h6.2v3.2h-6.2zM223.9 87.1h3.1v3.2h-3.1zM236.4 87.1h3.1v3.2h-3.1zM242.6 87.1h6.2v3.2h-6.2zM74.6 90.2h3.1v3.2h-3.1zM80.9 90.2h9.3v3.2h-9.3zM96.4 90.2h3.1v3.2h-3.1zM105.7 90.2h12.4v3.2h-12.4zM121.3 90.2h3.1v3.2h-3.1zM143.1 90.2h6.2v3.2h-6.2zM155.5 90.2h18.7v3.2h-18.7zM192.8 90.2h6.2v3.2h-6.2zM202.2 90.2h6.2v3.2h-6.2zM220.8 90.2h6.2v3.2h-6.2zM239.5 90.2h3.1v3.2h-3.1zM56.0 93.3h3.1v3.2h-3.1zM68.4 93.3h9.3v3.2h-9.3zM84.0 93.3h12.4v3.2h-12.4zM108.8 93.3h9.3v3.2h-9.3zM143.1 93.3h3.1v3.2h-3.1zM152.4 93.3h21.8v3.2h-21.8zM177.3 93.3h21.8v3.2h-21.8zM202.2 93.3h9.3v3.2h-9.3zM220.8 93.3h6.2v3.2h-6.2zM233.2 93.3h9.3v3.2h-9.3zM245.7 93.3h3.1v3.2h-3.1zM255.0 93.3h3.1v3.2h-3.1zM52.9 96.4h6.2v3.2h-6.2zM62.2 96.4h9.3v3.2h-9.3zM87.1 96.4h3.1v3.2h-3.1zM93.3 96.4h3.1v3.2h-3.1zM99.5 96.4h6.2v3.2h-6.2zM112.0 96.4h6.2v3.2h-6.2zM139.9 96.4h6.2v3.2h-6.2zM152.4 96.4h6.2v3.2h-6.2zM164.8 96.4h15.5v3.2h-15.5zM186.6 96.4h3.1v3.2h-3.1zM192.8 96.4h12.4v3.2h-12.4zM208.4 96.4h3.1v3.2h-3.1zM217.7 96.4h9.3v3.2h-9.3zM233.2 96.4h15.5v3.2h-15.5zM255.0 96.4h6.2v3.2h-6.2zM49.8 99.5h18.7v3.2h-18.7zM84.0 99.5h6.2v3.2h-6.2zM93.3 99.5h3.1v3.2h-3.1zM99.5 99.5h3.1v3.2h-3.1zM139.9 99.5h6.2v3.2h-6.2zM155.5 99.5h18.7v3.2h-18.7zM183.5 99.5h3.1v3.2h-3.1zM195.9 99.5h46.6v3.2h-46.6zM251.9 99.5h12.4v3.2h-12.4zM49.8 102.6h9.3v3.2h-9.3zM62.2 102.6h6.2v3.2h-6.2zM80.9 102.6h9.3v3.2h-9.3zM118.2 102.6h9.3v3.2h-9.3zM133.7 102.6h31.1v3.2h-31.1zM171.0 102.6h3.1v3.2h-3.1zM180.4 102.6h3.1v3.2h-3.1zM199.0 102.6h6.2v3.2h-6.2zM208.4 102.6h34.2v3.2h-34.2zM251.9 102.6h3.1v3.2h-3.1zM65.3 105.7h6.2v3.2h-6.2zM118.2 105.7h3.1v3.2h-3.1zM133.7 105.7h24.9v3.2h-24.9zM164.8 105.7h9.3v3.2h-9.3zM177.3 105.7h6.2v3.2h-6.2zM186.6 105.7h3.1v3.2h-3.1zM195.9 105.7h43.5v3.2h-43.5zM251.9 105.7h12.4v3.2h-12.4zM267.5 105.7h3.1v3.2h-3.1zM52.9 108.8h3.1v3.2h-3.1zM59.1 108.8h3.1v3.2h-3.1zM65.3 108.8h9.3v3.2h-9.3zM84.0 108.8h9.3v3.2h-9.3zM108.8 108.8h3.1v3.2h-3.1zM127.5 108.8h3.1v3.2h-3.1zM143.1 108.8h3.1v3.2h-3.1zM149.3 108.8h9.3v3.2h-9.3zM164.8 108.8h9.3v3.2h-9.3zM177.3 108.8h3.1v3.2h-3.1zM189.7 108.8h6.2v3.2h-6.2zM202.2 108.8h37.3v3.2h-37.3zM251.9 108.8h21.8v3.2h-21.8zM52.9 112.0h3.1v3.2h-3.1zM59.1 112.0h3.1v3.2h-3.1zM68.4 112.0h3.1v3.2h-3.1zM80.9 112.0h12.4v3.2h-12.4zM112.0 112.0h9.3v3.2h-9.3zM124.4 112.0h6.2v3.2h-6.2zM174.2 112.0h6.2v3.2h-6.2zM195.9 112.0h3.1v3.2h-3.1zM202.2 112.0h28.0v3.2h-28.0zM233.2 112.0h3.1v3.2h-3.1zM242.6 112.0h3.1v3.2h-3.1zM255.0 112.0h6.2v3.2h-6.2zM264.3 112.0h9.3v3.2h-9.3zM40.4 115.1h3.1v3.2h-3.1zM71.5 115.1h18.7v3.2h-18.7zM96.4 115.1h6.2v3.2h-6.2zM112.0 115.1h18.7v3.2h-18.7zM139.9 115.1h3.1v3.2h-3.1zM149.3 115.1h3.1v3.2h-3.1zM161.7 115.1h3.1v3.2h-3.1zM167.9 115.1h18.7v3.2h-18.7zM195.9 115.1h3.1v3.2h-3.1zM208.4 115.1h21.8v3.2h-21.8zM239.5 115.1h9.3v3.2h-9.3zM255.0 115.1h21.8v3.2h-21.8zM71.5 118.2h18.7v3.2h-18.7zM96.4 118.2h9.3v3.2h-9.3zM115.1 118.2h15.5v3.2h-15.5zM133.7 118.2h6.2v3.2h-6.2zM143.1 118.2h9.3v3.2h-9.3zM164.8 118.2h15.5v3.2h-15.5zM183.5 118.2h3.1v3.2h-3.1zM211.5 118.2h3.1v3.2h-3.1zM217.7 118.2h12.4v3.2h-12.4zM242.6 118.2h9.3v3.2h-9.3zM258.1 118.2h6.2v3.2h-6.2zM270.6 118.2h6.2v3.2h-6.2zM68.4 121.3h12.4v3.2h-12.4zM96.4 121.3h6.2v3.2h-6.2zM115.1 121.3h24.9v3.2h-24.9zM167.9 121.3h3.1v3.2h-3.1zM174.2 121.3h6.2v3.2h-6.2zM214.6 121.3h31.1v3.2h-31.1zM248.8 121.3h6.2v3.2h-6.2zM258.1 121.3h12.4v3.2h-12.4zM52.9 124.4h6.2v3.2h-6.2zM68.4 124.4h18.7v3.2h-18.7zM96.4 124.4h3.1v3.2h-3.1zM108.8 124.4h9.3v3.2h-9.3zM121.3 124.4h6.2v3.2h-6.2zM133.7 124.4h6.2v3.2h-6.2zM155.5 124.4h3.1v3.2h-3.1zM171.0 124.4h9.3v3.2h-9.3zM214.6 124.4h12.4v3.2h-12.4zM230.1 124.4h3.1v3.2h-3.1zM236.4 124.4h6.2v3.2h-6.2zM248.8 124.4h34.2v3.2h-34.2zM68.4 127.5h18.7v3.2h-18.7zM93.3 127.5h6.2v3.2h-6.2zM112.0 127.5h3.1v3.2h-3.1zM121.3 127.5h3.1v3.2h-3.1zM133.7 127.5h3.1v3.2h-3.1zM164.8 127.5h15.5v3.2h-15.5zM220.8 127.5h12.4v3.2h-12.4zM236.4 127.5h34.2v3.2h-34.2zM273.7 127.5h6.2v3.2h-6.2zM18.7 130.6h3.1v3.2h-3.1zM65.3 130.6h12.4v3.2h-12.4zM93.3 130.6h6.2v3.2h-6.2zM108.8 130.6h9.3v3.2h-9.3zM121.3 130.6h6.2v3.2h-6.2zM133.7 130.6h3.1v3.2h-3.1zM158.6 130.6h24.9v3.2h-24.9zM192.8 130.6h12.4v3.2h-12.4zM217.7 130.6h12.4v3.2h-12.4zM233.2 130.6h9.3v3.2h-9.3zM245.7 130.6h34.2v3.2h-34.2zM15.5 133.7h6.2v3.2h-6.2zM49.8 133.7h3.1v3.2h-3.1zM68.4 133.7h24.9v3.2h-24.9zM112.0 133.7h15.5v3.2h-15.5zM133.7 133.7h3.1v3.2h-3.1zM158.6 133.7h12.4v3.2h-12.4zM192.8 133.7h6.2v3.2h-6.2zM202.2 133.7h6.2v3.2h-6.2zM211.5 133.7h6.2v3.2h-6.2zM236.4 133.7h6.2v3.2h-6.2zM248.8 133.7h6.2v3.2h-6.2zM258.1 133.7h9.3v3.2h-9.3zM273.7 133.7h6.2v3.2h-6.2zM59.1 136.8h3.1v3.2h-3.1zM71.5 136.8h21.8v3.2h-21.8zM99.5 136.8h6.2v3.2h-6.2zM115.1 136.8h15.5v3.2h-15.5zM133.7 136.8h9.3v3.2h-9.3zM164.8 136.8h6.2v3.2h-6.2zM174.2 136.8h3.1v3.2h-3.1zM180.4 136.8h3.1v3.2h-3.1zM192.8 136.8h3.1v3.2h-3.1zM205.3 136.8h6.2v3.2h-6.2zM236.4 136.8h6.2v3.2h-6.2zM248.8 136.8h3.1v3.2h-3.1zM273.7 136.8h6.2v3.2h-6.2zM15.5 139.9h3.1v3.2h-3.1zM77.8 139.9h18.7v3.2h-18.7zM121.3 139.9h9.3v3.2h-9.3zM133.7 139.9h6.2v3.2h-6.2zM155.5 139.9h9.3v3.2h-9.3zM177.3 139.9h18.7v3.2h-18.7zM205.3 139.9h6.2v3.2h-6.2zM239.5 139.9h6.2v3.2h-6.2zM267.5 139.9h3.1v3.2h-3.1zM273.7 139.9h6.2v3.2h-6.2zM9.3 143.1h3.1v3.2h-3.1zM43.5 143.1h3.1v3.2h-3.1zM52.9 143.1h3.1v3.2h-3.1zM68.4 143.1h3.1v3.2h-3.1zM80.9 143.1h12.4v3.2h-12.4zM112.0 143.1h9.3v3.2h-9.3zM124.4 143.1h6.2v3.2h-6.2zM152.4 143.1h15.5v3.2h-15.5zM180.4 143.1h18.7v3.2h-18.7zM202.2 143.1h12.4v3.2h-12.4zM227.0 143.1h6.2v3.2h-6.2zM239.5 143.1h3.1v3.2h-3.1zM245.7 143.1h3.1v3.2h-3.1zM261.2 143.1h9.3v3.2h-9.3zM273.7 143.1h6.2v3.2h-6.2zM3.1 146.2h3.1v3.2h-3.1zM9.3 146.2h6.2v3.2h-6.2zM52.9 146.2h6.2v3.2h-6.2zM65.3 146.2h6.2v3.2h-6.2zM84.0 146.2h3.1v3.2h-3.1zM112.0 146.2h3.1v3.2h-3.1zM124.4 146.2h9.3v3.2h-9.3zM152.4 146.2h3.1v3.2h-3.1zM164.8 146.2h3.1v3.2h-3.1zM189.7 146.2h6.2v3.2h-6.2zM199.0 146.2h12.4v3.2h-12.4zM233.2 146.2h15.5v3.2h-15.5zM258.1 146.2h6.2v3.2h-6.2zM283.0 146.2h3.1v3.2h-3.1zM0.0 149.3h12.4v3.2h-12.4zM37.3 149.3h3.1v3.2h-3.1zM46.6 149.3h6.2v3.2h-6.2zM56.0 149.3h6.2v3.2h-6.2zM77.8 149.3h18.7v3.2h-18.7zM99.5 149.3h15.5v3.2h-15.5zM118.2 149.3h3.1v3.2h-3.1zM127.5 149.3h9.3v3.2h-9.3zM152.4 149.3h9.3v3.2h-9.3zM167.9 149.3h6.2v3.2h-6.2zM177.3 149.3h24.9v3.2h-24.9zM205.3 149.3h9.3v3.2h-9.3zM217.7 149.3h6.2v3.2h-6.2zM264.3 149.3h6.2v3.2h-6.2zM273.7 149.3h3.1v3.2h-3.1zM279.9 149.3h15.5v3.2h-15.5zM0.0 152.4h3.1v3.2h-3.1zM6.2 152.4h12.4v3.2h-12.4zM56.0 152.4h3.1v3.2h-3.1zM74.6 152.4h21.8v3.2h-21.8zM102.6 152.4h40.4v3.2h-40.4zM146.2 152.4h15.5v3.2h-15.5zM164.8 152.4h9.3v3.2h-9.3zM177.3 152.4h15.5v3.2h-15.5zM195.9 152.4h6.2v3.2h-6.2zM220.8 152.4h6.2v3.2h-6.2zM236.4 152.4h9.3v3.2h-9.3zM267.5 152.4h9.3v3.2h-9.3zM283.0 152.4h6.2v3.2h-6.2zM292.3 152.4h3.1v3.2h-3.1zM15.5 155.5h3.1v3.2h-3.1zM21.8 155.5h6.2v3.2h-6.2zM56.0 155.5h3.1v3.2h-3.1zM74.6 155.5h3.1v3.2h-3.1zM90.2 155.5h6.2v3.2h-6.2zM102.6 155.5h21.8v3.2h-21.8zM130.6 155.5h15.5v3.2h-15.5zM152.4 155.5h3.1v3.2h-3.1zM161.7 155.5h3.1v3.2h-3.1zM180.4 155.5h9.3v3.2h-9.3zM199.0 155.5h3.1v3.2h-3.1zM233.2 155.5h12.4v3.2h-12.4zM267.5 155.5h6.2v3.2h-6.2zM286.1 155.5h3.1v3.2h-3.1zM15.5 158.6h9.3v3.2h-9.3zM31.1 158.6h9.3v3.2h-9.3zM52.9 158.6h9.3v3.2h-9.3zM93.3 158.6h40.4v3.2h-40.4zM136.8 158.6h9.3v3.2h-9.3zM180.4 158.6h9.3v3.2h-9.3zM199.0 158.6h3.1v3.2h-3.1zM211.5 158.6h3.1v3.2h-3.1zM230.1 158.6h12.4v3.2h-12.4zM264.3 158.6h9.3v3.2h-9.3zM15.5 161.7h6.2v3.2h-6.2zM31.1 161.7h12.4v3.2h-12.4zM52.9 161.7h12.4v3.2h-12.4zM74.6 161.7h6.2v3.2h-6.2zM96.4 161.7h6.2v3.2h-6.2zM115.1 161.7h3.1v3.2h-3.1zM139.9 161.7h9.3v3.2h-9.3zM171.0 161.7h3.1v3.2h-3.1zM186.6 161.7h6.2v3.2h-6.2zM195.9 161.7h9.3v3.2h-9.3zM230.1 161.7h9.3v3.2h-9.3zM261.2 161.7h9.3v3.2h-9.3zM276.8 161.7h3.1v3.2h-3.1zM6.2 164.8h3.1v3.2h-3.1zM15.5 164.8h12.4v3.2h-12.4zM31.1 164.8h28.0v3.2h-28.0zM74.6 164.8h6.2v3.2h-6.2zM84.0 164.8h6.2v3.2h-6.2zM96.4 164.8h6.2v3.2h-6.2zM136.8 164.8h15.5v3.2h-15.5zM161.7 164.8h3.1v3.2h-3.1zM183.5 164.8h15.5v3.2h-15.5zM261.2 164.8h9.3v3.2h-9.3zM286.1 164.8h3.1v3.2h-3.1zM6.2 167.9h3.1v3.2h-3.1zM15.5 167.9h3.1v3.2h-3.1zM21.8 167.9h6.2v3.2h-6.2zM37.3 167.9h21.8v3.2h-21.8zM68.4 167.9h3.1v3.2h-3.1zM77.8 167.9h3.1v3.2h-3.1zM87.1 167.9h3.1v3.2h-3.1zM115.1 167.9h3.1v3.2h-3.1zM139.9 167.9h6.2v3.2h-6.2zM158.6 167.9h6.2v3.2h-6.2zM183.5 167.9h15.5v3.2h-15.5zM205.3 167.9h3.1v3.2h-3.1zM236.4 167.9h6.2v3.2h-6.2zM261.2 167.9h3.1v3.2h-3.1zM270.6 167.9h9.3v3.2h-9.3zM289.2 167.9h3.1v3.2h-3.1zM295.4 167.9h6.2v3.2h-6.2zM304.8 167.9h3.1v3.2h-3.1zM12.4 171.0h6.2v3.2h-6.2zM21.8 171.0h6.2v3.2h-6.2zM37.3 171.0h6.2v3.2h-6.2zM49.8 171.0h3.1v3.2h-3.1zM62.2 171.0h9.3v3.2h-9.3zM74.6 171.0h12.4v3.2h-12.4zM96.4 171.0h3.1v3.2h-3.1zM121.3 171.0h3.1v3.2h-3.1zM127.5 171.0h6.2v3.2h-6.2zM158.6 171.0h3.1v3.2h-3.1zM205.3 171.0h6.2v3.2h-6.2zM214.6 171.0h3.1v3.2h-3.1zM236.4 171.0h3.1v3.2h-3.1zM267.5 171.0h6.2v3.2h-6.2zM283.0 171.0h6.2v3.2h-6.2zM304.8 171.0h3.1v3.2h-3.1zM12.4 174.2h15.5v3.2h-15.5zM46.6 174.2h9.3v3.2h-9.3zM62.2 174.2h24.9v3.2h-24.9zM112.0 174.2h3.1v3.2h-3.1zM127.5 174.2h6.2v3.2h-6.2zM136.8 174.2h24.9v3.2h-24.9zM177.3 174.2h6.2v3.2h-6.2zM199.0 174.2h12.4v3.2h-12.4zM236.4 174.2h3.1v3.2h-3.1zM245.7 174.2h6.2v3.2h-6.2zM258.1 174.2h3.1v3.2h-3.1zM267.5 174.2h6.2v3.2h-6.2zM276.8 174.2h12.4v3.2h-12.4zM295.4 174.2h3.1v3.2h-3.1zM15.5 177.3h12.4v3.2h-12.4zM34.2 177.3h3.1v3.2h-3.1zM46.6 177.3h12.4v3.2h-12.4zM65.3 177.3h24.9v3.2h-24.9zM99.5 177.3h3.1v3.2h-3.1zM121.3 177.3h3.1v3.2h-3.1zM130.6 177.3h3.1v3.2h-3.1zM136.8 177.3h9.3v3.2h-9.3zM149.3 177.3h3.1v3.2h-3.1zM189.7 177.3h3.1v3.2h-3.1zM230.1 177.3h9.3v3.2h-9.3zM245.7 177.3h6.2v3.2h-6.2zM21.8 180.4h3.1v3.2h-3.1zM34.2 180.4h12.4v3.2h-12.4zM49.8 180.4h6.2v3.2h-6.2zM62.2 180.4h6.2v3.2h-6.2zM74.6 180.4h15.5v3.2h-15.5zM96.4 180.4h6.2v3.2h-6.2zM121.3 180.4h3.1v3.2h-3.1zM136.8 180.4h12.4v3.2h-12.4zM180.4 180.4h3.1v3.2h-3.1zM186.6 180.4h6.2v3.2h-6.2zM230.1 180.4h6.2v3.2h-6.2zM245.7 180.4h9.3v3.2h-9.3zM292.3 180.4h6.2v3.2h-6.2zM37.3 183.5h12.4v3.2h-12.4zM62.2 183.5h9.3v3.2h-9.3zM74.6 183.5h15.5v3.2h-15.5zM136.8 183.5h3.1v3.2h-3.1zM146.2 183.5h6.2v3.2h-6.2zM177.3 183.5h6.2v3.2h-6.2zM189.7 183.5h3.1v3.2h-3.1zM205.3 183.5h6.2v3.2h-6.2zM230.1 183.5h12.4v3.2h-12.4zM248.8 183.5h18.7v3.2h-18.7zM34.2 186.6h3.1v3.2h-3.1zM40.4 186.6h3.1v3.2h-3.1zM46.6 186.6h6.2v3.2h-6.2zM56.0 186.6h21.8v3.2h-21.8zM80.9 186.6h6.2v3.2h-6.2zM96.4 186.6h12.4v3.2h-12.4zM136.8 186.6h3.1v3.2h-3.1zM143.1 186.6h9.3v3.2h-9.3zM177.3 186.6h6.2v3.2h-6.2zM202.2 186.6h9.3v3.2h-9.3zM230.1 186.6h15.5v3.2h-15.5zM248.8 186.6h6.2v3.2h-6.2zM28.0 189.7h3.1v3.2h-3.1zM43.5 189.7h9.3v3.2h-9.3zM68.4 189.7h9.3v3.2h-9.3zM80.9 189.7h28.0v3.2h-28.0zM112.0 189.7h3.1v3.2h-3.1zM121.3 189.7h3.1v3.2h-3.1zM143.1 189.7h9.3v3.2h-9.3zM167.9 189.7h12.4v3.2h-12.4zM186.6 189.7h3.1v3.2h-3.1zM192.8 189.7h12.4v3.2h-12.4zM242.6 189.7h9.3v3.2h-9.3zM261.2 189.7h3.1v3.2h-3.1zM43.5 192.8h12.4v3.2h-12.4zM59.1 192.8h12.4v3.2h-12.4zM77.8 192.8h12.4v3.2h-12.4zM93.3 192.8h18.7v3.2h-18.7zM115.1 192.8h6.2v3.2h-6.2zM127.5 192.8h3.1v3.2h-3.1zM143.1 192.8h3.1v3.2h-3.1zM149.3 192.8h3.1v3.2h-3.1zM155.5 192.8h6.2v3.2h-6.2zM171.0 192.8h3.1v3.2h-3.1zM189.7 192.8h21.8v3.2h-21.8zM217.7 192.8h3.1v3.2h-3.1zM258.1 192.8h6.2v3.2h-6.2zM34.2 195.9h21.8v3.2h-21.8zM62.2 195.9h9.3v3.2h-9.3zM77.8 195.9h12.4v3.2h-12.4zM96.4 195.9h18.7v3.2h-18.7zM118.2 195.9h6.2v3.2h-6.2zM130.6 195.9h3.1v3.2h-3.1zM158.6 195.9h3.1v3.2h-3.1zM167.9 195.9h6.2v3.2h-6.2zM189.7 195.9h31.1v3.2h-31.1zM223.9 195.9h3.1v3.2h-3.1zM37.3 199.0h3.1v3.2h-3.1zM46.6 199.0h6.2v3.2h-6.2zM56.0 199.0h3.1v3.2h-3.1zM74.6 199.0h3.1v3.2h-3.1zM84.0 199.0h31.1v3.2h-31.1zM118.2 199.0h15.5v3.2h-15.5zM152.4 199.0h3.1v3.2h-3.1zM158.6 199.0h3.1v3.2h-3.1zM167.9 199.0h3.1v3.2h-3.1zM174.2 199.0h3.1v3.2h-3.1zM183.5 199.0h3.1v3.2h-3.1zM195.9 199.0h3.1v3.2h-3.1zM202.2 199.0h18.7v3.2h-18.7zM239.5 199.0h3.1v3.2h-3.1zM276.8 199.0h3.1v3.2h-3.1zM43.5 202.2h9.3v3.2h-9.3zM56.0 202.2h3.1v3.2h-3.1zM80.9 202.2h9.3v3.2h-9.3zM96.4 202.2h18.7v3.2h-18.7zM118.2 202.2h15.5v3.2h-15.5zM152.4 202.2h15.5v3.2h-15.5zM171.0 202.2h3.1v3.2h-3.1zM180.4 202.2h3.1v3.2h-3.1zM195.9 202.2h3.1v3.2h-3.1zM217.7 202.2h6.2v3.2h-6.2zM230.1 202.2h3.1v3.2h-3.1zM255.0 202.2h3.1v3.2h-3.1zM267.5 202.2h9.3v3.2h-9.3zM43.5 205.3h9.3v3.2h-9.3zM80.9 205.3h9.3v3.2h-9.3zM96.4 205.3h9.3v3.2h-9.3zM115.1 205.3h18.7v3.2h-18.7zM152.4 205.3h9.3v3.2h-9.3zM164.8 205.3h3.1v3.2h-3.1zM180.4 205.3h3.1v3.2h-3.1zM186.6 205.3h6.2v3.2h-6.2zM205.3 205.3h6.2v3.2h-6.2zM217.7 205.3h18.7v3.2h-18.7zM267.5 205.3h6.2v3.2h-6.2zM46.6 208.4h9.3v3.2h-9.3zM77.8 208.4h6.2v3.2h-6.2zM112.0 208.4h21.8v3.2h-21.8zM152.4 208.4h9.3v3.2h-9.3zM164.8 208.4h9.3v3.2h-9.3zM177.3 208.4h9.3v3.2h-9.3zM195.9 208.4h6.2v3.2h-6.2zM205.3 208.4h9.3v3.2h-9.3zM217.7 208.4h18.7v3.2h-18.7zM258.1 208.4h9.3v3.2h-9.3zM49.8 211.5h6.2v3.2h-6.2zM77.8 211.5h6.2v3.2h-6.2zM93.3 211.5h3.1v3.2h-3.1zM118.2 211.5h18.7v3.2h-18.7zM139.9 211.5h3.1v3.2h-3.1zM149.3 211.5h9.3v3.2h-9.3zM164.8 211.5h12.4v3.2h-12.4zM183.5 211.5h3.1v3.2h-3.1zM205.3 211.5h6.2v3.2h-6.2zM214.6 211.5h21.8v3.2h-21.8zM258.1 211.5h3.1v3.2h-3.1zM264.3 211.5h3.1v3.2h-3.1zM77.8 214.6h6.2v3.2h-6.2zM93.3 214.6h9.3v3.2h-9.3zM115.1 214.6h3.1v3.2h-3.1zM124.4 214.6h28.0v3.2h-28.0zM161.7 214.6h3.1v3.2h-3.1zM205.3 214.6h3.1v3.2h-3.1zM214.6 214.6h21.8v3.2h-21.8zM74.6 217.7h9.3v3.2h-9.3zM87.1 217.7h6.2v3.2h-6.2zM99.5 217.7h9.3v3.2h-9.3zM118.2 217.7h3.1v3.2h-3.1zM127.5 217.7h31.1v3.2h-31.1zM205.3 217.7h3.1v3.2h-3.1zM214.6 217.7h3.1v3.2h-3.1zM220.8 217.7h21.8v3.2h-21.8zM59.1 220.8h3.1v3.2h-3.1zM71.5 220.8h3.1v3.2h-3.1zM87.1 220.8h6.2v3.2h-6.2zM105.7 220.8h3.1v3.2h-3.1zM118.2 220.8h3.1v3.2h-3.1zM127.5 220.8h6.2v3.2h-6.2zM139.9 220.8h6.2v3.2h-6.2zM152.4 220.8h9.3v3.2h-9.3zM189.7 220.8h6.2v3.2h-6.2zM208.4 220.8h6.2v3.2h-6.2zM223.9 220.8h18.7v3.2h-18.7zM87.1 223.9h6.2v3.2h-6.2zM96.4 223.9h3.1v3.2h-3.1zM112.0 223.9h9.3v3.2h-9.3zM133.7 223.9h3.1v3.2h-3.1zM146.2 223.9h9.3v3.2h-9.3zM174.2 223.9h3.1v3.2h-3.1zM189.7 223.9h3.1v3.2h-3.1zM208.4 223.9h12.4v3.2h-12.4zM71.5 227.0h6.2v3.2h-6.2zM87.1 227.0h3.1v3.2h-3.1zM93.3 227.0h6.2v3.2h-6.2zM105.7 227.0h18.7v3.2h-18.7zM127.5 227.0h12.4v3.2h-12.4zM149.3 227.0h9.3v3.2h-9.3zM174.2 227.0h6.2v3.2h-6.2zM211.5 227.0h9.3v3.2h-9.3zM233.2 227.0h6.2v3.2h-6.2zM242.6 227.0h3.1v3.2h-3.1zM68.4 230.1h9.3v3.2h-9.3zM93.3 230.1h6.2v3.2h-6.2zM102.6 230.1h9.3v3.2h-9.3zM115.1 230.1h37.3v3.2h-37.3zM174.2 230.1h6.2v3.2h-6.2zM214.6 230.1h9.3v3.2h-9.3zM227.0 230.1h3.1v3.2h-3.1zM233.2 230.1h3.1v3.2h-3.1zM71.5 233.2h6.2v3.2h-6.2zM80.9 233.2h6.2v3.2h-6.2zM93.3 233.2h3.1v3.2h-3.1zM102.6 233.2h34.2v3.2h-34.2zM139.9 233.2h6.2v3.2h-6.2zM171.0 233.2h3.1v3.2h-3.1zM208.4 233.2h6.2v3.2h-6.2zM217.7 233.2h6.2v3.2h-6.2zM233.2 233.2h3.1v3.2h-3.1zM74.6 236.4h3.1v3.2h-3.1zM80.9 236.4h6.2v3.2h-6.2zM90.2 236.4h9.3v3.2h-9.3zM105.7 236.4h31.1v3.2h-31.1zM152.4 236.4h12.4v3.2h-12.4zM171.0 236.4h9.3v3.2h-9.3zM186.6 236.4h3.1v3.2h-3.1zM208.4 236.4h6.2v3.2h-6.2zM105.7 239.5h6.2v3.2h-6.2zM115.1 239.5h21.8v3.2h-21.8zM152.4 239.5h9.3v3.2h-9.3zM174.2 239.5h12.4v3.2h-12.4zM211.5 239.5h3.1v3.2h-3.1zM217.7 239.5h3.1v3.2h-3.1zM84.0 242.6h15.5v3.2h-15.5zM102.6 242.6h3.1v3.2h-3.1zM112.0 242.6h24.9v3.2h-24.9zM139.9 242.6h28.0v3.2h-28.0zM174.2 242.6h6.2v3.2h-6.2zM183.5 242.6h3.1v3.2h-3.1zM208.4 242.6h9.3v3.2h-9.3zM93.3 245.7h43.5v3.2h-43.5zM143.1 245.7h3.1v3.2h-3.1zM149.3 245.7h3.1v3.2h-3.1zM155.5 245.7h9.3v3.2h-9.3zM171.0 245.7h9.3v3.2h-9.3zM183.5 245.7h6.2v3.2h-6.2zM205.3 245.7h3.1v3.2h-3.1zM211.5 245.7h6.2v3.2h-6.2zM93.3 248.8h40.4v3.2h-40.4zM158.6 248.8h6.2v3.2h-6.2zM167.9 248.8h9.3v3.2h-9.3zM183.5 248.8h9.3v3.2h-9.3zM205.3 248.8h9.3v3.2h-9.3zM220.8 248.8h6.2v3.2h-6.2zM96.4 251.9h15.5v3.2h-15.5zM115.1 251.9h3.1v3.2h-3.1zM124.4 251.9h6.2v3.2h-6.2zM161.7 251.9h9.3v3.2h-9.3zM177.3 251.9h3.1v3.2h-3.1zM183.5 251.9h3.1v3.2h-3.1zM93.3 255.0h6.2v3.2h-6.2zM102.6 255.0h9.3v3.2h-9.3zM121.3 255.0h6.2v3.2h-6.2zM155.5 255.0h31.1v3.2h-31.1zM192.8 255.0h3.1v3.2h-3.1zM202.2 255.0h12.4v3.2h-12.4zM96.4 258.1h12.4v3.2h-12.4zM115.1 258.1h3.1v3.2h-3.1zM161.7 258.1h3.1v3.2h-3.1zM167.9 258.1h15.5v3.2h-15.5zM205.3 258.1h12.4v3.2h-12.4zM99.5 261.2h3.1v3.2h-3.1zM105.7 261.2h3.1v3.2h-3.1zM115.1 261.2h3.1v3.2h-3.1zM133.7 261.2h6.2v3.2h-6.2zM152.4 261.2h3.1v3.2h-3.1zM174.2 261.2h15.5v3.2h-15.5zM214.6 261.2h3.1v3.2h-3.1zM133.7 264.3h12.4v3.2h-12.4zM167.9 264.3h3.1v3.2h-3.1zM177.3 264.3h12.4v3.2h-12.4zM130.6 267.5h21.8v3.2h-21.8zM158.6 267.5h3.1v3.2h-3.1zM167.9 267.5h12.4v3.2h-12.4zM186.6 267.5h3.1v3.2h-3.1zM195.9 267.5h3.1v3.2h-3.1zM118.2 270.6h3.1v3.2h-3.1zM133.7 270.6h21.8v3.2h-21.8zM158.6 270.6h9.3v3.2h-9.3zM174.2 270.6h9.3v3.2h-9.3zM195.9 270.6h6.2v3.2h-6.2zM127.5 273.7h3.1v3.2h-3.1zM136.8 273.7h3.1v3.2h-3.1zM146.2 273.7h6.2v3.2h-6.2zM161.7 273.7h6.2v3.2h-6.2zM174.2 273.7h12.4v3.2h-12.4zM127.5 276.8h9.3v3.2h-9.3zM161.7 276.8h6.2v3.2h-6.2zM177.3 276.8h3.1v3.2h-3.1zM183.5 276.8h3.1v3.2h-3.1zM130.6 279.9h3.1v3.2h-3.1zM139.9 279.9h12.4v3.2h-12.4zM158.6 279.9h9.3v3.2h-9.3zM171.0 279.9h3.1v3.2h-3.1zM180.4 279.9h6.2v3.2h-6.2zM189.7 279.9h3.1v3.2h-3.1zM195.9 279.9h3.1v3.2h-3.1zM130.6 283.0h12.4v3.2h-12.4zM146.2 283.0h6.2v3.2h-6.2zM155.5 283.0h37.3v3.2h-37.3zM124.4 286.1h3.1v3.2h-3.1zM130.6 286.1h3.1v3.2h-3.1zM136.8 286.1h6.2v3.2h-6.2zM146.2 286.1h6.2v3.2h-6.2zM155.5 286.1h12.4v3.2h-12.4zM177.3 286.1h12.4v3.2h-12.4zM136.8 289.2h9.3v3.2h-9.3zM152.4 289.2h6.2v3.2h-6.2zM164.8 289.2h6.2v3.2h-6.2zM177.3 289.2h3.1v3.2h-3.1zM186.6 289.2h3.1v3.2h-3.1zM143.1 292.3h3.1v3.2h-3.1zM152.4 292.3h6.2v3.2h-6.2zM164.8 292.3h15.5v3.2h-15.5zM136.8 295.4h9.3v3.2h-9.3zM152.4 295.4h6.2v3.2h-6.2zM164.8 295.4h6.2v3.2h-6.2zM174.2 295.4h3.1v3.2h-3.1zM136.8 298.6h12.4v3.2h-12.4zM152.4 298.6h6.2v3.2h-6.2zM174.2 298.6h3.1v3.2h-3.1zM143.1 301.7h3.1v3.2h-3.1zM143.1 304.8h12.4v3.2h-12.4zM161.7 304.8h3.1v3.2h-3.1zM146.2 307.9h9.3v3.2h-9.3zM161.7 307.9h6.2v3.2h-6.2zM158.6 311.0h9.3v3.2h-9.3zM158.6 314.1h6.2v3.2h-6.2z" fill="#3e3ede"/>
</g>
<rect x="1171.5" y="367.7" width="223.2" height="223.2" fill="url(#etex)"/>
<rect x="1172.1" y="368.3" width="222.0" height="222.0" rx="3.2" fill="none" stroke="#d84646" stroke-width="1.4" opacity="0.7"/>
</g>
<rect x="1319" y="371" width="73.59999999999991" height="34.2" fill="#fff"/>
<g font-family="'Liberation Sans',sans-serif" font-weight="bold" font-size="19.5" fill="#111"><text x="1329" y="396" font-style="italic">T</text><text x="1342.6" y="389.6" font-size="9.5">*</text><text x="1346.6" y="396">=1.0</text></g>
<g font-family="'Liberation Sans',sans-serif" font-weight="bold" font-size="23.5" fill="#111">
<text x="1.5" y="476.6">(a)</text>
<text x="431.5" y="380">(b)</text>
<text x="430.5" y="622">(c)</text>
<text x="876.5" y="338.8">(d)</text>
<text x="876.7" y="622">(e)</text>
</g>
</svg>
</body></html>
